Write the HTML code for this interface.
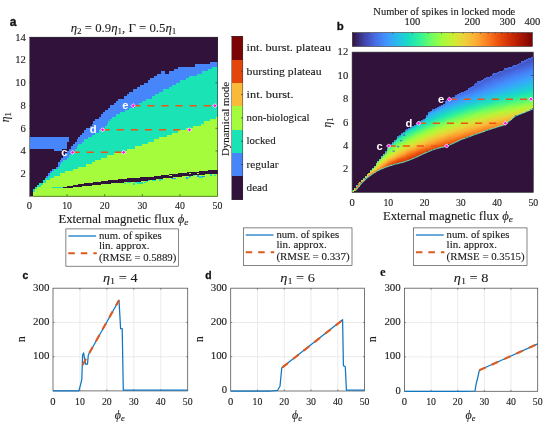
<!DOCTYPE html>
<html lang="en"><head><meta charset="utf-8"><title>Figure</title>
<style>
html,body{margin:0;padding:0;background:#fff}
body{width:550px;height:426px;overflow:hidden}
svg{display:block}
text{font-family:"Liberation Serif", "DejaVu Serif", serif;fill:#1c1c1c;stroke:#1c1c1c;stroke-width:0.12px}
text.ss{font-family:"Liberation Sans", "DejaVu Sans", sans-serif;stroke:none}
text.t{stroke-width:0.08px}
text.pl{stroke:#111;stroke-width:0.3px}
</style></head><body>
<svg width="550" height="426" viewBox="0 0 550 426">
<defs><linearGradient id="b0" gradientUnits="userSpaceOnUse" x1="0" x2="0" y1="190.06" y2="192.40"><stop offset="0" stop-color="#19d5cd"/><stop offset="0.350" stop-color="#b7f735"/><stop offset="0.375" stop-color="#b7f735"/><stop offset="0.500" stop-color="#b7f735"/><stop offset="0.625" stop-color="#b7f735"/><stop offset="0.750" stop-color="#b7f735"/><stop offset="0.875" stop-color="#b7f735"/><stop offset="1.000" stop-color="#b7f735"/></linearGradient><linearGradient id="b1" gradientUnits="userSpaceOnUse" x1="0" x2="0" y1="190.06" y2="192.40"><stop offset="0" stop-color="#19d5cd"/><stop offset="0.350" stop-color="#b7f735"/><stop offset="0.375" stop-color="#b7f735"/><stop offset="0.500" stop-color="#b7f735"/><stop offset="0.625" stop-color="#b7f735"/><stop offset="0.750" stop-color="#b7f735"/><stop offset="0.875" stop-color="#b7f735"/><stop offset="1.000" stop-color="#b7f735"/></linearGradient><linearGradient id="b2" gradientUnits="userSpaceOnUse" x1="0" x2="0" y1="187.72" y2="191.23"><stop offset="0" stop-color="#19d5cd"/><stop offset="0.350" stop-color="#c6f034"/><stop offset="0.375" stop-color="#c6f034"/><stop offset="0.500" stop-color="#c6f034"/><stop offset="0.625" stop-color="#c6f034"/><stop offset="0.750" stop-color="#c6f034"/><stop offset="0.875" stop-color="#c6f034"/><stop offset="1.000" stop-color="#c6f034"/></linearGradient><linearGradient id="b3" gradientUnits="userSpaceOnUse" x1="0" x2="0" y1="187.72" y2="191.23"><stop offset="0" stop-color="#19d5cd"/><stop offset="0.350" stop-color="#fd8a26"/><stop offset="0.375" stop-color="#fd8a26"/><stop offset="0.500" stop-color="#fd8a26"/><stop offset="0.625" stop-color="#fd8a26"/><stop offset="0.750" stop-color="#fd8a26"/><stop offset="0.875" stop-color="#fd8a26"/><stop offset="1.000" stop-color="#fd8a26"/></linearGradient><linearGradient id="b4" gradientUnits="userSpaceOnUse" x1="0" x2="0" y1="185.39" y2="188.89"><stop offset="0" stop-color="#19d5cd"/><stop offset="0.350" stop-color="#fea130"/><stop offset="0.375" stop-color="#fe9b2d"/><stop offset="0.500" stop-color="#fa7b1f"/><stop offset="0.625" stop-color="#f46617"/><stop offset="0.750" stop-color="#f46617"/><stop offset="0.875" stop-color="#f46617"/><stop offset="1.000" stop-color="#f46617"/></linearGradient><linearGradient id="b5" gradientUnits="userSpaceOnUse" x1="0" x2="0" y1="185.39" y2="188.89"><stop offset="0" stop-color="#19d5cd"/><stop offset="0.350" stop-color="#f46617"/><stop offset="0.375" stop-color="#f46617"/><stop offset="0.500" stop-color="#f46617"/><stop offset="0.625" stop-color="#f46617"/><stop offset="0.750" stop-color="#f46617"/><stop offset="0.875" stop-color="#f46617"/><stop offset="1.000" stop-color="#f46617"/></linearGradient><linearGradient id="b6" gradientUnits="userSpaceOnUse" x1="0" x2="0" y1="183.05" y2="186.56"><stop offset="0" stop-color="#19d5cd"/><stop offset="0.350" stop-color="#ebd339"/><stop offset="0.375" stop-color="#f1cb3a"/><stop offset="0.500" stop-color="#fe9e2f"/><stop offset="0.625" stop-color="#f66c19"/><stop offset="0.750" stop-color="#f46617"/><stop offset="0.875" stop-color="#f46617"/><stop offset="1.000" stop-color="#f46617"/></linearGradient><linearGradient id="b7" gradientUnits="userSpaceOnUse" x1="0" x2="0" y1="183.05" y2="186.56"><stop offset="0" stop-color="#19d5cd"/><stop offset="0.350" stop-color="#fc8423"/><stop offset="0.375" stop-color="#f9781e"/><stop offset="0.500" stop-color="#f46617"/><stop offset="0.625" stop-color="#f46617"/><stop offset="0.750" stop-color="#f46617"/><stop offset="0.875" stop-color="#f46617"/><stop offset="1.000" stop-color="#f46617"/></linearGradient><linearGradient id="b8" gradientUnits="userSpaceOnUse" x1="0" x2="0" y1="181.88" y2="184.22"><stop offset="0" stop-color="#19d5cd"/><stop offset="0.350" stop-color="#ecd13a"/><stop offset="0.375" stop-color="#f1cb3a"/><stop offset="0.500" stop-color="#fcb336"/><stop offset="0.625" stop-color="#fe962b"/><stop offset="0.750" stop-color="#f9781e"/><stop offset="0.875" stop-color="#f46617"/><stop offset="1.000" stop-color="#f46617"/></linearGradient><linearGradient id="b9" gradientUnits="userSpaceOnUse" x1="0" x2="0" y1="181.88" y2="184.22"><stop offset="0" stop-color="#19d5cd"/><stop offset="0.350" stop-color="#fd8d27"/><stop offset="0.375" stop-color="#fc8725"/><stop offset="0.500" stop-color="#f56918"/><stop offset="0.625" stop-color="#f46617"/><stop offset="0.750" stop-color="#f46617"/><stop offset="0.875" stop-color="#f46617"/><stop offset="1.000" stop-color="#f46617"/></linearGradient><linearGradient id="b10" gradientUnits="userSpaceOnUse" x1="0" x2="0" y1="179.54" y2="181.88"><stop offset="0" stop-color="#19d5cd"/><stop offset="0.350" stop-color="#b7f735"/><stop offset="0.375" stop-color="#b9f635"/><stop offset="0.500" stop-color="#d0ea34"/><stop offset="0.625" stop-color="#e5d938"/><stop offset="0.750" stop-color="#f5c53a"/><stop offset="0.875" stop-color="#fdae35"/><stop offset="1.000" stop-color="#fe932a"/></linearGradient><linearGradient id="b11" gradientUnits="userSpaceOnUse" x1="0" x2="0" y1="179.54" y2="181.88"><stop offset="0" stop-color="#19d5cd"/><stop offset="0.350" stop-color="#f1cb3a"/><stop offset="0.375" stop-color="#f2c93a"/><stop offset="0.500" stop-color="#fbb838"/><stop offset="0.625" stop-color="#fea130"/><stop offset="0.750" stop-color="#fc8725"/><stop offset="0.875" stop-color="#f76f1a"/><stop offset="1.000" stop-color="#f46617"/></linearGradient><linearGradient id="b12" gradientUnits="userSpaceOnUse" x1="0" x2="0" y1="178.37" y2="180.71"><stop offset="0" stop-color="#19d5cd"/><stop offset="0.350" stop-color="#e5d938"/><stop offset="0.375" stop-color="#e9d539"/><stop offset="0.500" stop-color="#f4c73a"/><stop offset="0.625" stop-color="#fbb838"/><stop offset="0.750" stop-color="#fea732"/><stop offset="0.875" stop-color="#fe932a"/><stop offset="1.000" stop-color="#fb7e21"/></linearGradient><linearGradient id="b13" gradientUnits="userSpaceOnUse" x1="0" x2="0" y1="178.37" y2="180.71"><stop offset="0" stop-color="#19d5cd"/><stop offset="0.350" stop-color="#fea933"/><stop offset="0.375" stop-color="#fea732"/><stop offset="0.500" stop-color="#fe932a"/><stop offset="0.625" stop-color="#fb8122"/><stop offset="0.750" stop-color="#f66c19"/><stop offset="0.875" stop-color="#f46617"/><stop offset="1.000" stop-color="#f46617"/></linearGradient><linearGradient id="b14" gradientUnits="userSpaceOnUse" x1="0" x2="0" y1="176.03" y2="178.37"><stop offset="0" stop-color="#19d5cd"/><stop offset="0.350" stop-color="#cdec34"/><stop offset="0.375" stop-color="#d0ea34"/><stop offset="0.500" stop-color="#dfdf37"/><stop offset="0.625" stop-color="#ecd13a"/><stop offset="0.750" stop-color="#f5c53a"/><stop offset="0.875" stop-color="#fbb637"/><stop offset="1.000" stop-color="#fea732"/></linearGradient><linearGradient id="b15" gradientUnits="userSpaceOnUse" x1="0" x2="0" y1="176.03" y2="178.37"><stop offset="0" stop-color="#19d5cd"/><stop offset="0.350" stop-color="#f4c73a"/><stop offset="0.375" stop-color="#f5c53a"/><stop offset="0.500" stop-color="#fbb838"/><stop offset="0.625" stop-color="#fea732"/><stop offset="0.750" stop-color="#fe962b"/><stop offset="0.875" stop-color="#fc8423"/><stop offset="1.000" stop-color="#f9751d"/></linearGradient><linearGradient id="b16" gradientUnits="userSpaceOnUse" x1="0" x2="0" y1="173.70" y2="177.20"><stop offset="0" stop-color="#19d5cd"/><stop offset="0.350" stop-color="#c8ef34"/><stop offset="0.375" stop-color="#cdec34"/><stop offset="0.500" stop-color="#e1dd37"/><stop offset="0.625" stop-color="#f1cb3a"/><stop offset="0.750" stop-color="#fbb838"/><stop offset="0.875" stop-color="#fea130"/><stop offset="1.000" stop-color="#fd8a26"/></linearGradient><linearGradient id="b17" gradientUnits="userSpaceOnUse" x1="0" x2="0" y1="173.70" y2="177.20"><stop offset="0" stop-color="#19d5cd"/><stop offset="0.350" stop-color="#eecf3a"/><stop offset="0.375" stop-color="#f1cb3a"/><stop offset="0.500" stop-color="#faba39"/><stop offset="0.625" stop-color="#fea732"/><stop offset="0.750" stop-color="#fd8d27"/><stop offset="0.875" stop-color="#f9751d"/><stop offset="1.000" stop-color="#f26014"/></linearGradient><linearGradient id="b18" gradientUnits="userSpaceOnUse" x1="0" x2="0" y1="172.53" y2="176.03"><stop offset="0" stop-color="#19d5cd"/><stop offset="0.350" stop-color="#e1dd37"/><stop offset="0.375" stop-color="#e3db38"/><stop offset="0.500" stop-color="#f2c93a"/><stop offset="0.625" stop-color="#fbb838"/><stop offset="0.750" stop-color="#fea130"/><stop offset="0.875" stop-color="#fd8a26"/><stop offset="1.000" stop-color="#f8721c"/></linearGradient><linearGradient id="b19" gradientUnits="userSpaceOnUse" x1="0" x2="0" y1="172.53" y2="176.03"><stop offset="0" stop-color="#19d5cd"/><stop offset="0.350" stop-color="#f7c13a"/><stop offset="0.375" stop-color="#f9bc39"/><stop offset="0.500" stop-color="#fea933"/><stop offset="0.625" stop-color="#fe932a"/><stop offset="0.750" stop-color="#fa7b1f"/><stop offset="0.875" stop-color="#f36315"/><stop offset="1.000" stop-color="#f15d13"/></linearGradient><linearGradient id="b20" gradientUnits="userSpaceOnUse" x1="0" x2="0" y1="170.19" y2="174.87"><stop offset="0" stop-color="#19d5cd"/><stop offset="0.350" stop-color="#d0ea34"/><stop offset="0.375" stop-color="#d7e535"/><stop offset="0.500" stop-color="#ebd339"/><stop offset="0.625" stop-color="#f8be39"/><stop offset="0.750" stop-color="#fea431"/><stop offset="0.875" stop-color="#fc8423"/><stop offset="1.000" stop-color="#f46617"/></linearGradient><linearGradient id="b21" gradientUnits="userSpaceOnUse" x1="0" x2="0" y1="170.19" y2="174.87"><stop offset="0" stop-color="#19d5cd"/><stop offset="0.350" stop-color="#ebd339"/><stop offset="0.375" stop-color="#eecf3a"/><stop offset="0.500" stop-color="#faba39"/><stop offset="0.625" stop-color="#fe9e2f"/><stop offset="0.750" stop-color="#fb8122"/><stop offset="0.875" stop-color="#f26014"/><stop offset="1.000" stop-color="#f05b12"/></linearGradient><linearGradient id="b22" gradientUnits="userSpaceOnUse" x1="0" x2="0" y1="167.85" y2="173.70"><stop offset="0" stop-color="#19d5cd"/><stop offset="0.350" stop-color="#c1f334"/><stop offset="0.375" stop-color="#c6f034"/><stop offset="0.500" stop-color="#dfdf37"/><stop offset="0.625" stop-color="#f4c73a"/><stop offset="0.750" stop-color="#fdac34"/><stop offset="0.875" stop-color="#fc8725"/><stop offset="1.000" stop-color="#f26014"/></linearGradient><linearGradient id="b23" gradientUnits="userSpaceOnUse" x1="0" x2="0" y1="167.85" y2="173.70"><stop offset="0" stop-color="#19d5cd"/><stop offset="0.350" stop-color="#d9e436"/><stop offset="0.375" stop-color="#dde037"/><stop offset="0.500" stop-color="#f1cb3a"/><stop offset="0.625" stop-color="#fcb136"/><stop offset="0.750" stop-color="#fd8d27"/><stop offset="0.875" stop-color="#f56918"/><stop offset="1.000" stop-color="#ef5811"/></linearGradient><linearGradient id="b24" gradientUnits="userSpaceOnUse" x1="0" x2="0" y1="165.51" y2="172.53"><stop offset="0" stop-color="#19d5cd"/><stop offset="0.350" stop-color="#bcf534"/><stop offset="0.375" stop-color="#bef434"/><stop offset="0.500" stop-color="#d2e935"/><stop offset="0.625" stop-color="#ebd339"/><stop offset="0.750" stop-color="#fbb637"/><stop offset="0.875" stop-color="#fe9029"/><stop offset="1.000" stop-color="#f36315"/></linearGradient><linearGradient id="b25" gradientUnits="userSpaceOnUse" x1="0" x2="0" y1="165.51" y2="172.53"><stop offset="0" stop-color="#19d5cd"/><stop offset="0.350" stop-color="#d0ea34"/><stop offset="0.375" stop-color="#d2e935"/><stop offset="0.500" stop-color="#e3db38"/><stop offset="0.625" stop-color="#f7c13a"/><stop offset="0.750" stop-color="#fe9e2f"/><stop offset="0.875" stop-color="#f9751d"/><stop offset="1.000" stop-color="#ec530f"/></linearGradient><linearGradient id="b26" gradientUnits="userSpaceOnUse" x1="0" x2="0" y1="163.18" y2="171.36"><stop offset="0" stop-color="#19d5cd"/><stop offset="0.318" stop-color="#b9f635"/><stop offset="0.375" stop-color="#c1f334"/><stop offset="0.500" stop-color="#d4e735"/><stop offset="0.625" stop-color="#e5d938"/><stop offset="0.750" stop-color="#f6c33a"/><stop offset="0.875" stop-color="#fe9b2d"/><stop offset="1.000" stop-color="#f56918"/></linearGradient><linearGradient id="b27" gradientUnits="userSpaceOnUse" x1="0" x2="0" y1="163.18" y2="171.36"><stop offset="0" stop-color="#19d5cd"/><stop offset="0.318" stop-color="#cbed34"/><stop offset="0.375" stop-color="#d4e735"/><stop offset="0.500" stop-color="#e5d938"/><stop offset="0.625" stop-color="#f2c93a"/><stop offset="0.750" stop-color="#fcb336"/><stop offset="0.875" stop-color="#fc8423"/><stop offset="1.000" stop-color="#ec530f"/></linearGradient><linearGradient id="b28" gradientUnits="userSpaceOnUse" x1="0" x2="0" y1="160.84" y2="170.19"><stop offset="0" stop-color="#1ad2d2"/><stop offset="0.278" stop-color="#b1f936"/><stop offset="0.375" stop-color="#c1f334"/><stop offset="0.500" stop-color="#d7e535"/><stop offset="0.625" stop-color="#e9d539"/><stop offset="0.750" stop-color="#f6c33a"/><stop offset="0.875" stop-color="#fdae35"/><stop offset="1.000" stop-color="#f9751d"/></linearGradient><linearGradient id="b29" gradientUnits="userSpaceOnUse" x1="0" x2="0" y1="160.84" y2="170.19"><stop offset="0" stop-color="#1fc9dd"/><stop offset="0.278" stop-color="#c3f134"/><stop offset="0.375" stop-color="#d2e935"/><stop offset="0.500" stop-color="#e5d938"/><stop offset="0.625" stop-color="#f4c73a"/><stop offset="0.750" stop-color="#fcb336"/><stop offset="0.875" stop-color="#fe9b2d"/><stop offset="1.000" stop-color="#f36315"/></linearGradient><linearGradient id="b30" gradientUnits="userSpaceOnUse" x1="0" x2="0" y1="158.50" y2="169.02"><stop offset="0" stop-color="#27bee9"/><stop offset="0.247" stop-color="#a9fb39"/><stop offset="0.375" stop-color="#c1f334"/><stop offset="0.500" stop-color="#d7e535"/><stop offset="0.625" stop-color="#ebd339"/><stop offset="0.750" stop-color="#f8be39"/><stop offset="0.875" stop-color="#fea732"/><stop offset="1.000" stop-color="#fd8a26"/></linearGradient><linearGradient id="b31" gradientUnits="userSpaceOnUse" x1="0" x2="0" y1="158.50" y2="169.02"><stop offset="0" stop-color="#2eb4f2"/><stop offset="0.247" stop-color="#b7f735"/><stop offset="0.375" stop-color="#d0ea34"/><stop offset="0.500" stop-color="#e3db38"/><stop offset="0.625" stop-color="#f4c73a"/><stop offset="0.750" stop-color="#fcb136"/><stop offset="0.875" stop-color="#fe962b"/><stop offset="1.000" stop-color="#f9781e"/></linearGradient><linearGradient id="b32" gradientUnits="userSpaceOnUse" x1="0" x2="0" y1="156.16" y2="169.02"><stop offset="0" stop-color="#35abf8"/><stop offset="0.202" stop-color="#99fe42"/><stop offset="0.250" stop-color="#a7fc3a"/><stop offset="0.375" stop-color="#c3f134"/><stop offset="0.500" stop-color="#dfdf37"/><stop offset="0.625" stop-color="#f2c93a"/><stop offset="0.750" stop-color="#fdae35"/><stop offset="0.875" stop-color="#fd8d27"/><stop offset="1.000" stop-color="#f56918"/></linearGradient><linearGradient id="b33" gradientUnits="userSpaceOnUse" x1="0" x2="0" y1="156.16" y2="169.02"><stop offset="0" stop-color="#3d9efe"/><stop offset="0.202" stop-color="#a7fc3a"/><stop offset="0.250" stop-color="#b4f836"/><stop offset="0.375" stop-color="#d2e935"/><stop offset="0.500" stop-color="#e9d539"/><stop offset="0.625" stop-color="#f9bc39"/><stop offset="0.750" stop-color="#fe9e2f"/><stop offset="0.875" stop-color="#fa7b1f"/><stop offset="1.000" stop-color="#ef5811"/></linearGradient><linearGradient id="b34" gradientUnits="userSpaceOnUse" x1="0" x2="0" y1="153.82" y2="167.85"><stop offset="0" stop-color="#4294ff"/><stop offset="0.185" stop-color="#88ff4e"/><stop offset="0.250" stop-color="#9cfe40"/><stop offset="0.375" stop-color="#bcf534"/><stop offset="0.500" stop-color="#dbe236"/><stop offset="0.625" stop-color="#f1cb3a"/><stop offset="0.750" stop-color="#fdae35"/><stop offset="0.875" stop-color="#fd8a26"/><stop offset="1.000" stop-color="#f36315"/></linearGradient><linearGradient id="b35" gradientUnits="userSpaceOnUse" x1="0" x2="0" y1="153.82" y2="167.85"><stop offset="0" stop-color="#458afc"/><stop offset="0.185" stop-color="#99fe42"/><stop offset="0.250" stop-color="#a7fc3a"/><stop offset="0.375" stop-color="#c6f034"/><stop offset="0.500" stop-color="#e5d938"/><stop offset="0.625" stop-color="#f7c13a"/><stop offset="0.750" stop-color="#fea130"/><stop offset="0.875" stop-color="#fa7b1f"/><stop offset="1.000" stop-color="#ed5510"/></linearGradient><linearGradient id="b36" gradientUnits="userSpaceOnUse" x1="0" x2="0" y1="151.49" y2="166.68"><stop offset="0" stop-color="#467df4"/><stop offset="0.171" stop-color="#75fe5c"/><stop offset="0.250" stop-color="#8fff49"/><stop offset="0.375" stop-color="#affa37"/><stop offset="0.500" stop-color="#d2e935"/><stop offset="0.625" stop-color="#eecf3a"/><stop offset="0.750" stop-color="#fcb136"/><stop offset="0.875" stop-color="#fd8a26"/><stop offset="1.000" stop-color="#f26014"/></linearGradient><linearGradient id="b37" gradientUnits="userSpaceOnUse" x1="0" x2="0" y1="151.49" y2="166.68"><stop offset="0" stop-color="#4773eb"/><stop offset="0.171" stop-color="#84ff51"/><stop offset="0.250" stop-color="#9cfe40"/><stop offset="0.375" stop-color="#b9f635"/><stop offset="0.500" stop-color="#dbe236"/><stop offset="0.625" stop-color="#f5c53a"/><stop offset="0.750" stop-color="#fea431"/><stop offset="0.875" stop-color="#fa7b1f"/><stop offset="1.000" stop-color="#ec530f"/></linearGradient><linearGradient id="b38" gradientUnits="userSpaceOnUse" x1="0" x2="0" y1="147.98" y2="166.68"><stop offset="0" stop-color="#476ee6"/><stop offset="0.139" stop-color="#52fa7a"/><stop offset="0.250" stop-color="#79fe59"/><stop offset="0.375" stop-color="#a4fc3c"/><stop offset="0.500" stop-color="#c6f034"/><stop offset="0.625" stop-color="#ecd13a"/><stop offset="0.750" stop-color="#fea933"/><stop offset="0.875" stop-color="#f9781e"/><stop offset="1.000" stop-color="#e5470b"/></linearGradient><linearGradient id="b39" gradientUnits="userSpaceOnUse" x1="0" x2="0" y1="147.98" y2="166.68"><stop offset="0" stop-color="#476ee6"/><stop offset="0.139" stop-color="#61fc6c"/><stop offset="0.250" stop-color="#88ff4e"/><stop offset="0.375" stop-color="#acfb38"/><stop offset="0.500" stop-color="#d0ea34"/><stop offset="0.625" stop-color="#f2c93a"/><stop offset="0.750" stop-color="#fe9e2f"/><stop offset="0.875" stop-color="#f56918"/><stop offset="1.000" stop-color="#e14109"/></linearGradient><linearGradient id="b40" gradientUnits="userSpaceOnUse" x1="0" x2="0" y1="145.64" y2="165.51"><stop offset="0" stop-color="#476ee6"/><stop offset="0.131" stop-color="#43f787"/><stop offset="0.250" stop-color="#6dfe62"/><stop offset="0.375" stop-color="#9cfe40"/><stop offset="0.500" stop-color="#c1f334"/><stop offset="0.625" stop-color="#e3db38"/><stop offset="0.750" stop-color="#fcb136"/><stop offset="0.875" stop-color="#fa7b1f"/><stop offset="1.000" stop-color="#e7490c"/></linearGradient><linearGradient id="b41" gradientUnits="userSpaceOnUse" x1="0" x2="0" y1="145.64" y2="165.51"><stop offset="0" stop-color="#476ee6"/><stop offset="0.131" stop-color="#4ef97d"/><stop offset="0.250" stop-color="#7dff56"/><stop offset="0.375" stop-color="#a4fc3c"/><stop offset="0.500" stop-color="#c8ef34"/><stop offset="0.625" stop-color="#ebd339"/><stop offset="0.750" stop-color="#fea732"/><stop offset="0.875" stop-color="#f76f1a"/><stop offset="1.000" stop-color="#df3f08"/></linearGradient><linearGradient id="b42" gradientUnits="userSpaceOnUse" x1="0" x2="0" y1="144.47" y2="165.51"><stop offset="0" stop-color="#476ee6"/><stop offset="0.124" stop-color="#46f884"/><stop offset="0.250" stop-color="#79fe59"/><stop offset="0.375" stop-color="#a4fc3c"/><stop offset="0.500" stop-color="#c8ef34"/><stop offset="0.625" stop-color="#ebd339"/><stop offset="0.750" stop-color="#fea130"/><stop offset="0.875" stop-color="#f46617"/><stop offset="1.000" stop-color="#df3f08"/></linearGradient><linearGradient id="b43" gradientUnits="userSpaceOnUse" x1="0" x2="0" y1="144.47" y2="165.51"><stop offset="0" stop-color="#476ee6"/><stop offset="0.124" stop-color="#52fa7a"/><stop offset="0.250" stop-color="#84ff51"/><stop offset="0.375" stop-color="#affa37"/><stop offset="0.500" stop-color="#d2e935"/><stop offset="0.625" stop-color="#f1cb3a"/><stop offset="0.750" stop-color="#fe992c"/><stop offset="0.875" stop-color="#f05b12"/><stop offset="1.000" stop-color="#df3f08"/></linearGradient><linearGradient id="b44" gradientUnits="userSpaceOnUse" x1="0" x2="0" y1="142.13" y2="164.34"><stop offset="0" stop-color="#476ee6"/><stop offset="0.117" stop-color="#35f394"/><stop offset="0.250" stop-color="#6dfe62"/><stop offset="0.375" stop-color="#9cfe40"/><stop offset="0.500" stop-color="#c3f134"/><stop offset="0.625" stop-color="#e5d938"/><stop offset="0.750" stop-color="#fdae35"/><stop offset="0.875" stop-color="#f76f1a"/><stop offset="1.000" stop-color="#dc3b07"/></linearGradient><linearGradient id="b45" gradientUnits="userSpaceOnUse" x1="0" x2="0" y1="142.13" y2="164.34"><stop offset="0" stop-color="#476ee6"/><stop offset="0.117" stop-color="#3ff68a"/><stop offset="0.250" stop-color="#79fe59"/><stop offset="0.375" stop-color="#a7fc3a"/><stop offset="0.500" stop-color="#cbed34"/><stop offset="0.625" stop-color="#ebd339"/><stop offset="0.750" stop-color="#fea732"/><stop offset="0.875" stop-color="#f36315"/><stop offset="1.000" stop-color="#dc3b07"/></linearGradient><linearGradient id="b46" gradientUnits="userSpaceOnUse" x1="0" x2="0" y1="139.80" y2="164.34"><stop offset="0" stop-color="#476ee6"/><stop offset="0.106" stop-color="#27eea4"/><stop offset="0.250" stop-color="#5dfc6f"/><stop offset="0.375" stop-color="#99fe42"/><stop offset="0.500" stop-color="#c3f134"/><stop offset="0.625" stop-color="#e9d539"/><stop offset="0.750" stop-color="#fdac34"/><stop offset="0.875" stop-color="#f26014"/><stop offset="1.000" stop-color="#dc3b07"/></linearGradient><linearGradient id="b47" gradientUnits="userSpaceOnUse" x1="0" x2="0" y1="139.80" y2="164.34"><stop offset="0" stop-color="#476ee6"/><stop offset="0.106" stop-color="#2ff19b"/><stop offset="0.250" stop-color="#69fd66"/><stop offset="0.375" stop-color="#a1fd3d"/><stop offset="0.500" stop-color="#cbed34"/><stop offset="0.625" stop-color="#eecf3a"/><stop offset="0.750" stop-color="#fea130"/><stop offset="0.875" stop-color="#ef5811"/><stop offset="1.000" stop-color="#dc3b07"/></linearGradient><linearGradient id="b48" gradientUnits="userSpaceOnUse" x1="0" x2="0" y1="138.63" y2="163.18"><stop offset="0" stop-color="#476ee6"/><stop offset="0.106" stop-color="#2aefa1"/><stop offset="0.250" stop-color="#5dfc6f"/><stop offset="0.375" stop-color="#99fe42"/><stop offset="0.500" stop-color="#c3f134"/><stop offset="0.625" stop-color="#e7d739"/><stop offset="0.750" stop-color="#fcb336"/><stop offset="0.875" stop-color="#f56918"/><stop offset="1.000" stop-color="#da3907"/></linearGradient><linearGradient id="b49" gradientUnits="userSpaceOnUse" x1="0" x2="0" y1="138.63" y2="163.18"><stop offset="0" stop-color="#476ee6"/><stop offset="0.106" stop-color="#2ff19b"/><stop offset="0.250" stop-color="#69fd66"/><stop offset="0.375" stop-color="#a1fd3d"/><stop offset="0.500" stop-color="#cbed34"/><stop offset="0.625" stop-color="#ecd13a"/><stop offset="0.750" stop-color="#fdac34"/><stop offset="0.875" stop-color="#f26014"/><stop offset="1.000" stop-color="#da3907"/></linearGradient><linearGradient id="b50" gradientUnits="userSpaceOnUse" x1="0" x2="0" y1="136.29" y2="163.18"><stop offset="0" stop-color="#476ee6"/><stop offset="0.097" stop-color="#1fe9af"/><stop offset="0.125" stop-color="#25eca7"/><stop offset="0.250" stop-color="#55fa76"/><stop offset="0.375" stop-color="#92ff47"/><stop offset="0.500" stop-color="#c3f134"/><stop offset="0.625" stop-color="#e9d539"/><stop offset="0.750" stop-color="#fdac34"/><stop offset="0.875" stop-color="#f15d13"/><stop offset="1.000" stop-color="#da3907"/></linearGradient><linearGradient id="b51" gradientUnits="userSpaceOnUse" x1="0" x2="0" y1="136.29" y2="163.18"><stop offset="0" stop-color="#476ee6"/><stop offset="0.097" stop-color="#22ebaa"/><stop offset="0.125" stop-color="#2cf09e"/><stop offset="0.250" stop-color="#5dfc6f"/><stop offset="0.375" stop-color="#99fe42"/><stop offset="0.500" stop-color="#c8ef34"/><stop offset="0.625" stop-color="#eecf3a"/><stop offset="0.750" stop-color="#fea431"/><stop offset="0.875" stop-color="#ed5510"/><stop offset="1.000" stop-color="#da3907"/></linearGradient><linearGradient id="b52" gradientUnits="userSpaceOnUse" x1="0" x2="0" y1="135.12" y2="163.18"><stop offset="0" stop-color="#476ee6"/><stop offset="0.093" stop-color="#1fe9af"/><stop offset="0.125" stop-color="#27eea4"/><stop offset="0.250" stop-color="#59fb73"/><stop offset="0.375" stop-color="#96fe44"/><stop offset="0.500" stop-color="#c8ef34"/><stop offset="0.625" stop-color="#efcd3a"/><stop offset="0.750" stop-color="#fea130"/><stop offset="0.875" stop-color="#ec530f"/><stop offset="1.000" stop-color="#da3907"/></linearGradient><linearGradient id="b53" gradientUnits="userSpaceOnUse" x1="0" x2="0" y1="135.12" y2="163.18"><stop offset="0" stop-color="#476ee6"/><stop offset="0.093" stop-color="#22ebaa"/><stop offset="0.125" stop-color="#2cf09e"/><stop offset="0.250" stop-color="#65fd69"/><stop offset="0.375" stop-color="#9cfe40"/><stop offset="0.500" stop-color="#d0ea34"/><stop offset="0.625" stop-color="#f2c93a"/><stop offset="0.750" stop-color="#fe992c"/><stop offset="0.875" stop-color="#e84b0c"/><stop offset="1.000" stop-color="#da3907"/></linearGradient><linearGradient id="b54" gradientUnits="userSpaceOnUse" x1="0" x2="0" y1="132.78" y2="162.01"><stop offset="0" stop-color="#476ee6"/><stop offset="0.089" stop-color="#18e0bd"/><stop offset="0.125" stop-color="#1de7b2"/><stop offset="0.250" stop-color="#4af880"/><stop offset="0.375" stop-color="#88ff4e"/><stop offset="0.500" stop-color="#bef434"/><stop offset="0.625" stop-color="#e9d539"/><stop offset="0.750" stop-color="#fea933"/><stop offset="0.875" stop-color="#f36315"/><stop offset="1.000" stop-color="#d83706"/></linearGradient><linearGradient id="b55" gradientUnits="userSpaceOnUse" x1="0" x2="0" y1="132.78" y2="162.01"><stop offset="0" stop-color="#476ee6"/><stop offset="0.089" stop-color="#1ae4b6"/><stop offset="0.125" stop-color="#20eaac"/><stop offset="0.250" stop-color="#55fa76"/><stop offset="0.375" stop-color="#92ff47"/><stop offset="0.500" stop-color="#c3f134"/><stop offset="0.625" stop-color="#eecf3a"/><stop offset="0.750" stop-color="#fea130"/><stop offset="0.875" stop-color="#f05b12"/><stop offset="1.000" stop-color="#d83706"/></linearGradient><linearGradient id="b56" gradientUnits="userSpaceOnUse" x1="0" x2="0" y1="131.61" y2="162.01"><stop offset="0" stop-color="#476ee6"/><stop offset="0.086" stop-color="#18e0bd"/><stop offset="0.125" stop-color="#1de7b2"/><stop offset="0.250" stop-color="#4ef97d"/><stop offset="0.375" stop-color="#8fff49"/><stop offset="0.500" stop-color="#c1f334"/><stop offset="0.625" stop-color="#eecf3a"/><stop offset="0.750" stop-color="#fea130"/><stop offset="0.875" stop-color="#ef5811"/><stop offset="1.000" stop-color="#d83706"/></linearGradient><linearGradient id="b57" gradientUnits="userSpaceOnUse" x1="0" x2="0" y1="131.61" y2="162.01"><stop offset="0" stop-color="#476ee6"/><stop offset="0.086" stop-color="#19e3b9"/><stop offset="0.125" stop-color="#22ebaa"/><stop offset="0.250" stop-color="#59fb73"/><stop offset="0.375" stop-color="#96fe44"/><stop offset="0.500" stop-color="#c8ef34"/><stop offset="0.625" stop-color="#f2c93a"/><stop offset="0.750" stop-color="#fe992c"/><stop offset="0.875" stop-color="#ec530f"/><stop offset="1.000" stop-color="#d83706"/></linearGradient><linearGradient id="b58" gradientUnits="userSpaceOnUse" x1="0" x2="0" y1="130.44" y2="160.84"><stop offset="0" stop-color="#476ee6"/><stop offset="0.086" stop-color="#18e0bd"/><stop offset="0.125" stop-color="#1de7b2"/><stop offset="0.250" stop-color="#4ef97d"/><stop offset="0.375" stop-color="#8bff4b"/><stop offset="0.500" stop-color="#bcf534"/><stop offset="0.625" stop-color="#ecd13a"/><stop offset="0.750" stop-color="#fea431"/><stop offset="0.875" stop-color="#f46617"/><stop offset="1.000" stop-color="#d63506"/></linearGradient><linearGradient id="b59" gradientUnits="userSpaceOnUse" x1="0" x2="0" y1="130.44" y2="160.84"><stop offset="0" stop-color="#476ee6"/><stop offset="0.086" stop-color="#1ae4b6"/><stop offset="0.125" stop-color="#20eaac"/><stop offset="0.250" stop-color="#55fa76"/><stop offset="0.375" stop-color="#96fe44"/><stop offset="0.500" stop-color="#c1f334"/><stop offset="0.625" stop-color="#efcd3a"/><stop offset="0.750" stop-color="#fe9e2f"/><stop offset="0.875" stop-color="#f26014"/><stop offset="1.000" stop-color="#d63506"/></linearGradient><linearGradient id="b60" gradientUnits="userSpaceOnUse" x1="0" x2="0" y1="129.27" y2="160.84"><stop offset="0" stop-color="#476ee6"/><stop offset="0.082" stop-color="#18e0bd"/><stop offset="0.125" stop-color="#1fe9af"/><stop offset="0.250" stop-color="#4ef97d"/><stop offset="0.375" stop-color="#92ff47"/><stop offset="0.500" stop-color="#c1f334"/><stop offset="0.625" stop-color="#efcd3a"/><stop offset="0.750" stop-color="#fe9b2d"/><stop offset="0.875" stop-color="#f05b12"/><stop offset="1.000" stop-color="#d63506"/></linearGradient><linearGradient id="b61" gradientUnits="userSpaceOnUse" x1="0" x2="0" y1="129.27" y2="160.84"><stop offset="0" stop-color="#476ee6"/><stop offset="0.082" stop-color="#19e3b9"/><stop offset="0.125" stop-color="#22ebaa"/><stop offset="0.250" stop-color="#59fb73"/><stop offset="0.375" stop-color="#99fe42"/><stop offset="0.500" stop-color="#c6f034"/><stop offset="0.625" stop-color="#f2c93a"/><stop offset="0.750" stop-color="#fe932a"/><stop offset="0.875" stop-color="#ed5510"/><stop offset="1.000" stop-color="#d63506"/></linearGradient><linearGradient id="b62" gradientUnits="userSpaceOnUse" x1="0" x2="0" y1="128.11" y2="159.67"><stop offset="0" stop-color="#476ee6"/><stop offset="0.082" stop-color="#18dec0"/><stop offset="0.125" stop-color="#1de7b2"/><stop offset="0.250" stop-color="#4af880"/><stop offset="0.375" stop-color="#8fff49"/><stop offset="0.500" stop-color="#bef434"/><stop offset="0.625" stop-color="#ecd13a"/><stop offset="0.750" stop-color="#fe9e2f"/><stop offset="0.875" stop-color="#f26014"/><stop offset="1.000" stop-color="#d43305"/></linearGradient><linearGradient id="b63" gradientUnits="userSpaceOnUse" x1="0" x2="0" y1="128.11" y2="159.67"><stop offset="0" stop-color="#476ee6"/><stop offset="0.082" stop-color="#19e2bb"/><stop offset="0.125" stop-color="#22ebaa"/><stop offset="0.250" stop-color="#55fa76"/><stop offset="0.375" stop-color="#96fe44"/><stop offset="0.500" stop-color="#c3f134"/><stop offset="0.625" stop-color="#efcd3a"/><stop offset="0.750" stop-color="#fe992c"/><stop offset="0.875" stop-color="#f05b12"/><stop offset="1.000" stop-color="#d43305"/></linearGradient><linearGradient id="b64" gradientUnits="userSpaceOnUse" x1="0" x2="0" y1="126.94" y2="158.50"><stop offset="0" stop-color="#476ee6"/><stop offset="0.082" stop-color="#18dbc5"/><stop offset="0.125" stop-color="#1ce6b4"/><stop offset="0.250" stop-color="#4af880"/><stop offset="0.375" stop-color="#8bff4b"/><stop offset="0.500" stop-color="#bcf534"/><stop offset="0.625" stop-color="#e7d739"/><stop offset="0.750" stop-color="#fea431"/><stop offset="0.875" stop-color="#f46617"/><stop offset="1.000" stop-color="#d43305"/></linearGradient><linearGradient id="b65" gradientUnits="userSpaceOnUse" x1="0" x2="0" y1="126.94" y2="158.50"><stop offset="0" stop-color="#476ee6"/><stop offset="0.082" stop-color="#18dec0"/><stop offset="0.125" stop-color="#1fe9af"/><stop offset="0.250" stop-color="#52fa7a"/><stop offset="0.375" stop-color="#92ff47"/><stop offset="0.500" stop-color="#c1f334"/><stop offset="0.625" stop-color="#ebd339"/><stop offset="0.750" stop-color="#fe9e2f"/><stop offset="0.875" stop-color="#f26014"/><stop offset="1.000" stop-color="#d43305"/></linearGradient><linearGradient id="b66" gradientUnits="userSpaceOnUse" x1="0" x2="0" y1="125.77" y2="158.50"><stop offset="0" stop-color="#476ee6"/><stop offset="0.079" stop-color="#18d9c8"/><stop offset="0.125" stop-color="#1ae4b6"/><stop offset="0.250" stop-color="#4af880"/><stop offset="0.375" stop-color="#8fff49"/><stop offset="0.500" stop-color="#c1f334"/><stop offset="0.625" stop-color="#e9d539"/><stop offset="0.750" stop-color="#fe9e2f"/><stop offset="0.875" stop-color="#f15d13"/><stop offset="1.000" stop-color="#d43305"/></linearGradient><linearGradient id="b67" gradientUnits="userSpaceOnUse" x1="0" x2="0" y1="125.77" y2="158.50"><stop offset="0" stop-color="#476ee6"/><stop offset="0.079" stop-color="#18ddc2"/><stop offset="0.125" stop-color="#1de7b2"/><stop offset="0.250" stop-color="#52fa7a"/><stop offset="0.375" stop-color="#96fe44"/><stop offset="0.500" stop-color="#c6f034"/><stop offset="0.625" stop-color="#ecd13a"/><stop offset="0.750" stop-color="#fe992c"/><stop offset="0.875" stop-color="#ef5811"/><stop offset="1.000" stop-color="#d43305"/></linearGradient><linearGradient id="b68" gradientUnits="userSpaceOnUse" x1="0" x2="0" y1="124.60" y2="157.33"><stop offset="0" stop-color="#476ee6"/><stop offset="0.079" stop-color="#19d5cd"/><stop offset="0.125" stop-color="#19e3b9"/><stop offset="0.250" stop-color="#4af880"/><stop offset="0.375" stop-color="#8bff4b"/><stop offset="0.500" stop-color="#bef434"/><stop offset="0.625" stop-color="#e5d938"/><stop offset="0.750" stop-color="#fea732"/><stop offset="0.875" stop-color="#f36315"/><stop offset="1.000" stop-color="#d43305"/></linearGradient><linearGradient id="b69" gradientUnits="userSpaceOnUse" x1="0" x2="0" y1="124.60" y2="157.33"><stop offset="0" stop-color="#476ee6"/><stop offset="0.079" stop-color="#18d9c8"/><stop offset="0.125" stop-color="#1ce6b4"/><stop offset="0.250" stop-color="#52fa7a"/><stop offset="0.375" stop-color="#92ff47"/><stop offset="0.500" stop-color="#c1f334"/><stop offset="0.625" stop-color="#e9d539"/><stop offset="0.750" stop-color="#fea130"/><stop offset="0.875" stop-color="#f15d13"/><stop offset="1.000" stop-color="#d43305"/></linearGradient><linearGradient id="b70" gradientUnits="userSpaceOnUse" x1="0" x2="0" y1="123.43" y2="157.33"><stop offset="0" stop-color="#476ee6"/><stop offset="0.077" stop-color="#1ad4d0"/><stop offset="0.125" stop-color="#19e2bb"/><stop offset="0.250" stop-color="#4af880"/><stop offset="0.375" stop-color="#8bff4b"/><stop offset="0.500" stop-color="#c1f334"/><stop offset="0.625" stop-color="#e9d539"/><stop offset="0.750" stop-color="#fe9e2f"/><stop offset="0.875" stop-color="#f05b12"/><stop offset="1.000" stop-color="#d43305"/></linearGradient><linearGradient id="b71" gradientUnits="userSpaceOnUse" x1="0" x2="0" y1="123.43" y2="157.33"><stop offset="0" stop-color="#476ee6"/><stop offset="0.077" stop-color="#18d7ca"/><stop offset="0.125" stop-color="#1ae4b6"/><stop offset="0.250" stop-color="#52fa7a"/><stop offset="0.375" stop-color="#92ff47"/><stop offset="0.500" stop-color="#c6f034"/><stop offset="0.625" stop-color="#ebd339"/><stop offset="0.750" stop-color="#fe992c"/><stop offset="0.875" stop-color="#ed5510"/><stop offset="1.000" stop-color="#d43305"/></linearGradient><linearGradient id="b72" gradientUnits="userSpaceOnUse" x1="0" x2="0" y1="122.26" y2="156.16"><stop offset="0" stop-color="#476ee6"/><stop offset="0.077" stop-color="#1ad2d2"/><stop offset="0.125" stop-color="#18dec0"/><stop offset="0.250" stop-color="#43f787"/><stop offset="0.375" stop-color="#88ff4e"/><stop offset="0.500" stop-color="#bef434"/><stop offset="0.625" stop-color="#e5d938"/><stop offset="0.750" stop-color="#fea933"/><stop offset="0.875" stop-color="#f26014"/><stop offset="1.000" stop-color="#d43305"/></linearGradient><linearGradient id="b73" gradientUnits="userSpaceOnUse" x1="0" x2="0" y1="122.26" y2="156.16"><stop offset="0" stop-color="#476ee6"/><stop offset="0.077" stop-color="#19d5cd"/><stop offset="0.125" stop-color="#19e2bb"/><stop offset="0.250" stop-color="#4af880"/><stop offset="0.375" stop-color="#8fff49"/><stop offset="0.500" stop-color="#c1f334"/><stop offset="0.625" stop-color="#e9d539"/><stop offset="0.750" stop-color="#fea431"/><stop offset="0.875" stop-color="#f05b12"/><stop offset="1.000" stop-color="#d43305"/></linearGradient><linearGradient id="b74" gradientUnits="userSpaceOnUse" x1="0" x2="0" y1="121.09" y2="154.99"><stop offset="0" stop-color="#476ee6"/><stop offset="0.077" stop-color="#1ccdd8"/><stop offset="0.125" stop-color="#18ddc2"/><stop offset="0.250" stop-color="#3cf58e"/><stop offset="0.375" stop-color="#80ff53"/><stop offset="0.500" stop-color="#b9f635"/><stop offset="0.625" stop-color="#e3db38"/><stop offset="0.750" stop-color="#fcb136"/><stop offset="0.875" stop-color="#f56918"/><stop offset="1.000" stop-color="#d43305"/></linearGradient><linearGradient id="b75" gradientUnits="userSpaceOnUse" x1="0" x2="0" y1="121.09" y2="154.99"><stop offset="0" stop-color="#476ee6"/><stop offset="0.077" stop-color="#1ad2d2"/><stop offset="0.125" stop-color="#18e0bd"/><stop offset="0.250" stop-color="#43f787"/><stop offset="0.375" stop-color="#88ff4e"/><stop offset="0.500" stop-color="#bef434"/><stop offset="0.625" stop-color="#e7d739"/><stop offset="0.750" stop-color="#fdac34"/><stop offset="0.875" stop-color="#f36315"/><stop offset="1.000" stop-color="#d43305"/></linearGradient><linearGradient id="b76" gradientUnits="userSpaceOnUse" x1="0" x2="0" y1="119.92" y2="153.82"><stop offset="0" stop-color="#476ee6"/><stop offset="0.077" stop-color="#1ecbda"/><stop offset="0.125" stop-color="#18d9c8"/><stop offset="0.250" stop-color="#38f491"/><stop offset="0.375" stop-color="#80ff53"/><stop offset="0.500" stop-color="#b4f836"/><stop offset="0.625" stop-color="#e1dd37"/><stop offset="0.750" stop-color="#faba39"/><stop offset="0.875" stop-color="#f8721c"/><stop offset="1.000" stop-color="#da3907"/></linearGradient><linearGradient id="b77" gradientUnits="userSpaceOnUse" x1="0" x2="0" y1="119.92" y2="153.82"><stop offset="0" stop-color="#476ee6"/><stop offset="0.077" stop-color="#1bd0d5"/><stop offset="0.125" stop-color="#18ddc2"/><stop offset="0.250" stop-color="#3cf58e"/><stop offset="0.375" stop-color="#88ff4e"/><stop offset="0.500" stop-color="#b9f635"/><stop offset="0.625" stop-color="#e3db38"/><stop offset="0.750" stop-color="#fbb637"/><stop offset="0.875" stop-color="#f66c19"/><stop offset="1.000" stop-color="#d63506"/></linearGradient><linearGradient id="b78" gradientUnits="userSpaceOnUse" x1="0" x2="0" y1="118.75" y2="153.82"><stop offset="0" stop-color="#476ee6"/><stop offset="0.074" stop-color="#1fc9dd"/><stop offset="0.125" stop-color="#18d7ca"/><stop offset="0.250" stop-color="#35f394"/><stop offset="0.375" stop-color="#80ff53"/><stop offset="0.500" stop-color="#b7f735"/><stop offset="0.625" stop-color="#e3db38"/><stop offset="0.750" stop-color="#fbb637"/><stop offset="0.875" stop-color="#f66c19"/><stop offset="1.000" stop-color="#d43305"/></linearGradient><linearGradient id="b79" gradientUnits="userSpaceOnUse" x1="0" x2="0" y1="118.75" y2="153.82"><stop offset="0" stop-color="#476ee6"/><stop offset="0.074" stop-color="#1ecbda"/><stop offset="0.125" stop-color="#18dbc5"/><stop offset="0.250" stop-color="#3cf58e"/><stop offset="0.375" stop-color="#88ff4e"/><stop offset="0.500" stop-color="#bcf534"/><stop offset="0.625" stop-color="#e7d739"/><stop offset="0.750" stop-color="#fcb136"/><stop offset="0.875" stop-color="#f46617"/><stop offset="1.000" stop-color="#d43305"/></linearGradient><linearGradient id="b80" gradientUnits="userSpaceOnUse" x1="0" x2="0" y1="117.58" y2="152.65"><stop offset="0" stop-color="#476ee6"/><stop offset="0.074" stop-color="#22c5e2"/><stop offset="0.125" stop-color="#19d5cd"/><stop offset="0.250" stop-color="#2ff19b"/><stop offset="0.375" stop-color="#79fe59"/><stop offset="0.500" stop-color="#b1f936"/><stop offset="0.625" stop-color="#e1dd37"/><stop offset="0.750" stop-color="#fbb838"/><stop offset="0.875" stop-color="#f9751d"/><stop offset="1.000" stop-color="#d83706"/></linearGradient><linearGradient id="b81" gradientUnits="userSpaceOnUse" x1="0" x2="0" y1="117.58" y2="152.65"><stop offset="0" stop-color="#476ee6"/><stop offset="0.074" stop-color="#1fc9dd"/><stop offset="0.125" stop-color="#18d9c8"/><stop offset="0.250" stop-color="#35f394"/><stop offset="0.375" stop-color="#80ff53"/><stop offset="0.500" stop-color="#b7f735"/><stop offset="0.625" stop-color="#e3db38"/><stop offset="0.750" stop-color="#fbb637"/><stop offset="0.875" stop-color="#f8721c"/><stop offset="1.000" stop-color="#d43305"/></linearGradient><linearGradient id="b82" gradientUnits="userSpaceOnUse" x1="0" x2="0" y1="115.25" y2="151.49"><stop offset="0" stop-color="#476ee6"/><stop offset="0.072" stop-color="#2cb7f0"/><stop offset="0.125" stop-color="#1fc9dd"/><stop offset="0.250" stop-color="#22ebaa"/><stop offset="0.375" stop-color="#65fd69"/><stop offset="0.500" stop-color="#a7fc3a"/><stop offset="0.625" stop-color="#d9e436"/><stop offset="0.750" stop-color="#f8be39"/><stop offset="0.875" stop-color="#fc8423"/><stop offset="1.000" stop-color="#dd3d08"/></linearGradient><linearGradient id="b83" gradientUnits="userSpaceOnUse" x1="0" x2="0" y1="115.25" y2="151.49"><stop offset="0" stop-color="#476ee6"/><stop offset="0.072" stop-color="#28bceb"/><stop offset="0.125" stop-color="#1ccdd8"/><stop offset="0.250" stop-color="#25eca7"/><stop offset="0.375" stop-color="#6dfe62"/><stop offset="0.500" stop-color="#acfb38"/><stop offset="0.625" stop-color="#dbe236"/><stop offset="0.750" stop-color="#faba39"/><stop offset="0.875" stop-color="#fb8122"/><stop offset="1.000" stop-color="#da3907"/></linearGradient><linearGradient id="b84" gradientUnits="userSpaceOnUse" x1="0" x2="0" y1="111.74" y2="151.49"><stop offset="0" stop-color="#476ee6"/><stop offset="0.065" stop-color="#38a5fb"/><stop offset="0.125" stop-color="#2cb7f0"/><stop offset="0.250" stop-color="#18e0bd"/><stop offset="0.375" stop-color="#4af880"/><stop offset="0.500" stop-color="#9ffd3f"/><stop offset="0.625" stop-color="#d2e935"/><stop offset="0.750" stop-color="#f7c13a"/><stop offset="0.875" stop-color="#fc8423"/><stop offset="1.000" stop-color="#d83706"/></linearGradient><linearGradient id="b85" gradientUnits="userSpaceOnUse" x1="0" x2="0" y1="111.74" y2="151.49"><stop offset="0" stop-color="#476ee6"/><stop offset="0.065" stop-color="#35abf8"/><stop offset="0.125" stop-color="#28bceb"/><stop offset="0.250" stop-color="#19e2bb"/><stop offset="0.375" stop-color="#52fa7a"/><stop offset="0.500" stop-color="#a1fd3d"/><stop offset="0.625" stop-color="#d7e535"/><stop offset="0.750" stop-color="#f9bc39"/><stop offset="0.875" stop-color="#fb7e21"/><stop offset="1.000" stop-color="#d43305"/></linearGradient><linearGradient id="b86" gradientUnits="userSpaceOnUse" x1="0" x2="0" y1="110.57" y2="150.32"><stop offset="0" stop-color="#476ee6"/><stop offset="0.065" stop-color="#38a5fb"/><stop offset="0.125" stop-color="#2cb7f0"/><stop offset="0.250" stop-color="#18ddc2"/><stop offset="0.375" stop-color="#46f884"/><stop offset="0.500" stop-color="#99fe42"/><stop offset="0.625" stop-color="#cdec34"/><stop offset="0.750" stop-color="#f6c33a"/><stop offset="0.875" stop-color="#fe9029"/><stop offset="1.000" stop-color="#dd3d08"/></linearGradient><linearGradient id="b87" gradientUnits="userSpaceOnUse" x1="0" x2="0" y1="110.57" y2="150.32"><stop offset="0" stop-color="#476ee6"/><stop offset="0.065" stop-color="#35abf8"/><stop offset="0.125" stop-color="#28bceb"/><stop offset="0.250" stop-color="#18e0bd"/><stop offset="0.375" stop-color="#4af880"/><stop offset="0.500" stop-color="#9cfe40"/><stop offset="0.625" stop-color="#d0ea34"/><stop offset="0.750" stop-color="#f7c13a"/><stop offset="0.875" stop-color="#fd8d27"/><stop offset="1.000" stop-color="#dc3b07"/></linearGradient><linearGradient id="b88" gradientUnits="userSpaceOnUse" x1="0" x2="0" y1="109.40" y2="149.15"><stop offset="0" stop-color="#476ee6"/><stop offset="0.065" stop-color="#38a5fb"/><stop offset="0.125" stop-color="#2cb7f0"/><stop offset="0.250" stop-color="#18d9c8"/><stop offset="0.375" stop-color="#3ff68a"/><stop offset="0.500" stop-color="#92ff47"/><stop offset="0.625" stop-color="#c8ef34"/><stop offset="0.750" stop-color="#f4c73a"/><stop offset="0.875" stop-color="#fe962b"/><stop offset="1.000" stop-color="#e4450a"/></linearGradient><linearGradient id="b89" gradientUnits="userSpaceOnUse" x1="0" x2="0" y1="109.40" y2="149.15"><stop offset="0" stop-color="#476ee6"/><stop offset="0.065" stop-color="#37a8fa"/><stop offset="0.125" stop-color="#2ab9ee"/><stop offset="0.250" stop-color="#18ddc2"/><stop offset="0.375" stop-color="#43f787"/><stop offset="0.500" stop-color="#96fe44"/><stop offset="0.625" stop-color="#cbed34"/><stop offset="0.750" stop-color="#f5c53a"/><stop offset="0.875" stop-color="#fe9029"/><stop offset="1.000" stop-color="#e2430a"/></linearGradient><linearGradient id="b90" gradientUnits="userSpaceOnUse" x1="0" x2="0" y1="109.40" y2="149.15"><stop offset="0" stop-color="#476ee6"/><stop offset="0.065" stop-color="#33adf7"/><stop offset="0.125" stop-color="#27bee9"/><stop offset="0.250" stop-color="#18dec0"/><stop offset="0.375" stop-color="#4af880"/><stop offset="0.500" stop-color="#9cfe40"/><stop offset="0.625" stop-color="#d0ea34"/><stop offset="0.750" stop-color="#f7c13a"/><stop offset="0.875" stop-color="#fd8d27"/><stop offset="1.000" stop-color="#df3f08"/></linearGradient><linearGradient id="b91" gradientUnits="userSpaceOnUse" x1="0" x2="0" y1="109.40" y2="149.15"><stop offset="0" stop-color="#476ee6"/><stop offset="0.065" stop-color="#31aff5"/><stop offset="0.125" stop-color="#25c0e7"/><stop offset="0.250" stop-color="#19e2bb"/><stop offset="0.375" stop-color="#4ef97d"/><stop offset="0.500" stop-color="#9ffd3f"/><stop offset="0.625" stop-color="#d2e935"/><stop offset="0.750" stop-color="#f8be39"/><stop offset="0.875" stop-color="#fd8a26"/><stop offset="1.000" stop-color="#dd3d08"/></linearGradient><linearGradient id="b92" gradientUnits="userSpaceOnUse" x1="0" x2="0" y1="108.23" y2="147.98"><stop offset="0" stop-color="#476ee6"/><stop offset="0.065" stop-color="#37a8fa"/><stop offset="0.125" stop-color="#28bceb"/><stop offset="0.250" stop-color="#18ddc2"/><stop offset="0.375" stop-color="#43f787"/><stop offset="0.500" stop-color="#92ff47"/><stop offset="0.625" stop-color="#cbed34"/><stop offset="0.750" stop-color="#f4c73a"/><stop offset="0.875" stop-color="#fe932a"/><stop offset="1.000" stop-color="#e7490c"/></linearGradient><linearGradient id="b93" gradientUnits="userSpaceOnUse" x1="0" x2="0" y1="108.23" y2="147.98"><stop offset="0" stop-color="#476ee6"/><stop offset="0.065" stop-color="#35abf8"/><stop offset="0.125" stop-color="#25c0e7"/><stop offset="0.250" stop-color="#18dec0"/><stop offset="0.375" stop-color="#46f884"/><stop offset="0.500" stop-color="#99fe42"/><stop offset="0.625" stop-color="#d0ea34"/><stop offset="0.750" stop-color="#f6c33a"/><stop offset="0.875" stop-color="#fd8d27"/><stop offset="1.000" stop-color="#e4450a"/></linearGradient><linearGradient id="b94" gradientUnits="userSpaceOnUse" x1="0" x2="0" y1="107.06" y2="147.98"><stop offset="0" stop-color="#476ee6"/><stop offset="0.064" stop-color="#3aa3fc"/><stop offset="0.125" stop-color="#28bceb"/><stop offset="0.250" stop-color="#18ddc2"/><stop offset="0.375" stop-color="#43f787"/><stop offset="0.500" stop-color="#96fe44"/><stop offset="0.625" stop-color="#d0ea34"/><stop offset="0.750" stop-color="#f6c33a"/><stop offset="0.875" stop-color="#fd8d27"/><stop offset="1.000" stop-color="#e2430a"/></linearGradient><linearGradient id="b95" gradientUnits="userSpaceOnUse" x1="0" x2="0" y1="107.06" y2="147.98"><stop offset="0" stop-color="#476ee6"/><stop offset="0.064" stop-color="#38a5fb"/><stop offset="0.125" stop-color="#27bee9"/><stop offset="0.250" stop-color="#18dec0"/><stop offset="0.375" stop-color="#46f884"/><stop offset="0.500" stop-color="#99fe42"/><stop offset="0.625" stop-color="#d2e935"/><stop offset="0.750" stop-color="#f7c13a"/><stop offset="0.875" stop-color="#fc8725"/><stop offset="1.000" stop-color="#e14109"/></linearGradient><linearGradient id="b96" gradientUnits="userSpaceOnUse" x1="0" x2="0" y1="105.89" y2="146.81"><stop offset="0" stop-color="#476ee6"/><stop offset="0.064" stop-color="#3d9efe"/><stop offset="0.125" stop-color="#2cb7f0"/><stop offset="0.250" stop-color="#18dbc5"/><stop offset="0.375" stop-color="#3cf58e"/><stop offset="0.500" stop-color="#8fff49"/><stop offset="0.625" stop-color="#cbed34"/><stop offset="0.750" stop-color="#f2c93a"/><stop offset="0.875" stop-color="#fe932a"/><stop offset="1.000" stop-color="#ea4e0d"/></linearGradient><linearGradient id="b97" gradientUnits="userSpaceOnUse" x1="0" x2="0" y1="105.89" y2="146.81"><stop offset="0" stop-color="#476ee6"/><stop offset="0.064" stop-color="#3ba0fd"/><stop offset="0.125" stop-color="#2ab9ee"/><stop offset="0.250" stop-color="#18ddc2"/><stop offset="0.375" stop-color="#3ff68a"/><stop offset="0.500" stop-color="#92ff47"/><stop offset="0.625" stop-color="#cdec34"/><stop offset="0.750" stop-color="#f5c53a"/><stop offset="0.875" stop-color="#fd8d27"/><stop offset="1.000" stop-color="#e7490c"/></linearGradient><linearGradient id="b98" gradientUnits="userSpaceOnUse" x1="0" x2="0" y1="104.73" y2="146.81"><stop offset="0" stop-color="#476ee6"/><stop offset="0.062" stop-color="#4099ff"/><stop offset="0.125" stop-color="#2fb2f4"/><stop offset="0.250" stop-color="#18dbc5"/><stop offset="0.375" stop-color="#38f491"/><stop offset="0.500" stop-color="#8fff49"/><stop offset="0.625" stop-color="#cbed34"/><stop offset="0.750" stop-color="#f5c53a"/><stop offset="0.875" stop-color="#fd8d27"/><stop offset="1.000" stop-color="#e5470b"/></linearGradient><linearGradient id="b99" gradientUnits="userSpaceOnUse" x1="0" x2="0" y1="104.73" y2="146.81"><stop offset="0" stop-color="#476ee6"/><stop offset="0.062" stop-color="#3e9bfe"/><stop offset="0.125" stop-color="#2cb7f0"/><stop offset="0.250" stop-color="#18ddc2"/><stop offset="0.375" stop-color="#3ff68a"/><stop offset="0.500" stop-color="#92ff47"/><stop offset="0.625" stop-color="#d0ea34"/><stop offset="0.750" stop-color="#f6c33a"/><stop offset="0.875" stop-color="#fc8725"/><stop offset="1.000" stop-color="#e4450a"/></linearGradient><linearGradient id="b100" gradientUnits="userSpaceOnUse" x1="0" x2="0" y1="103.56" y2="146.81"><stop offset="0" stop-color="#476ee6"/><stop offset="0.060" stop-color="#4294ff"/><stop offset="0.125" stop-color="#31aff5"/><stop offset="0.250" stop-color="#18dbc5"/><stop offset="0.375" stop-color="#38f491"/><stop offset="0.500" stop-color="#8fff49"/><stop offset="0.625" stop-color="#cdec34"/><stop offset="0.750" stop-color="#f6c33a"/><stop offset="0.875" stop-color="#fc8725"/><stop offset="1.000" stop-color="#e2430a"/></linearGradient><linearGradient id="b101" gradientUnits="userSpaceOnUse" x1="0" x2="0" y1="103.56" y2="146.81"><stop offset="0" stop-color="#476ee6"/><stop offset="0.060" stop-color="#4099ff"/><stop offset="0.125" stop-color="#2fb2f4"/><stop offset="0.250" stop-color="#18ddc2"/><stop offset="0.375" stop-color="#3ff68a"/><stop offset="0.500" stop-color="#96fe44"/><stop offset="0.625" stop-color="#d2e935"/><stop offset="0.750" stop-color="#f7c13a"/><stop offset="0.875" stop-color="#fb8122"/><stop offset="1.000" stop-color="#df3f08"/></linearGradient><linearGradient id="b102" gradientUnits="userSpaceOnUse" x1="0" x2="0" y1="101.22" y2="145.64"><stop offset="0" stop-color="#476ee6"/><stop offset="0.059" stop-color="#4687fb"/><stop offset="0.125" stop-color="#3ba0fd"/><stop offset="0.250" stop-color="#1ad4d0"/><stop offset="0.375" stop-color="#2aefa1"/><stop offset="0.500" stop-color="#7dff56"/><stop offset="0.625" stop-color="#c3f134"/><stop offset="0.750" stop-color="#f1cb3a"/><stop offset="0.875" stop-color="#fe9029"/><stop offset="1.000" stop-color="#ea4e0d"/></linearGradient><linearGradient id="b103" gradientUnits="userSpaceOnUse" x1="0" x2="0" y1="101.22" y2="145.64"><stop offset="0" stop-color="#476ee6"/><stop offset="0.059" stop-color="#458afc"/><stop offset="0.125" stop-color="#3aa3fc"/><stop offset="0.250" stop-color="#19d5cd"/><stop offset="0.375" stop-color="#2cf09e"/><stop offset="0.500" stop-color="#84ff51"/><stop offset="0.625" stop-color="#c6f034"/><stop offset="0.750" stop-color="#f2c93a"/><stop offset="0.875" stop-color="#fd8a26"/><stop offset="1.000" stop-color="#e84b0c"/></linearGradient><linearGradient id="b104" gradientUnits="userSpaceOnUse" x1="0" x2="0" y1="100.05" y2="145.64"><stop offset="0" stop-color="#476ee6"/><stop offset="0.057" stop-color="#4685fa"/><stop offset="0.125" stop-color="#3d9efe"/><stop offset="0.250" stop-color="#1ad2d2"/><stop offset="0.375" stop-color="#2aefa1"/><stop offset="0.500" stop-color="#80ff53"/><stop offset="0.625" stop-color="#c6f034"/><stop offset="0.750" stop-color="#f2c93a"/><stop offset="0.875" stop-color="#fd8a26"/><stop offset="1.000" stop-color="#e7490c"/></linearGradient><linearGradient id="b105" gradientUnits="userSpaceOnUse" x1="0" x2="0" y1="100.05" y2="145.64"><stop offset="0" stop-color="#476ee6"/><stop offset="0.057" stop-color="#4687fb"/><stop offset="0.125" stop-color="#3ba0fd"/><stop offset="0.250" stop-color="#19d5cd"/><stop offset="0.375" stop-color="#2ff19b"/><stop offset="0.500" stop-color="#84ff51"/><stop offset="0.625" stop-color="#c8ef34"/><stop offset="0.750" stop-color="#f4c73a"/><stop offset="0.875" stop-color="#fc8423"/><stop offset="1.000" stop-color="#e5470b"/></linearGradient><linearGradient id="b106" gradientUnits="userSpaceOnUse" x1="0" x2="0" y1="98.88" y2="144.47"><stop offset="0" stop-color="#476ee6"/><stop offset="0.057" stop-color="#4682f8"/><stop offset="0.125" stop-color="#4099ff"/><stop offset="0.250" stop-color="#1ecbda"/><stop offset="0.375" stop-color="#27eea4"/><stop offset="0.500" stop-color="#75fe5c"/><stop offset="0.625" stop-color="#bef434"/><stop offset="0.750" stop-color="#efcd3a"/><stop offset="0.875" stop-color="#fe9029"/><stop offset="1.000" stop-color="#ea4e0d"/></linearGradient><linearGradient id="b107" gradientUnits="userSpaceOnUse" x1="0" x2="0" y1="98.88" y2="144.47"><stop offset="0" stop-color="#476ee6"/><stop offset="0.057" stop-color="#4685fa"/><stop offset="0.125" stop-color="#3e9bfe"/><stop offset="0.250" stop-color="#1bd0d5"/><stop offset="0.375" stop-color="#2aefa1"/><stop offset="0.500" stop-color="#7dff56"/><stop offset="0.625" stop-color="#c3f134"/><stop offset="0.750" stop-color="#f2c93a"/><stop offset="0.875" stop-color="#fd8d27"/><stop offset="1.000" stop-color="#e84b0c"/></linearGradient><linearGradient id="b108" gradientUnits="userSpaceOnUse" x1="0" x2="0" y1="97.71" y2="144.47"><stop offset="0" stop-color="#476ee6"/><stop offset="0.056" stop-color="#467df4"/><stop offset="0.125" stop-color="#4196ff"/><stop offset="0.250" stop-color="#1fc9dd"/><stop offset="0.375" stop-color="#27eea4"/><stop offset="0.500" stop-color="#79fe59"/><stop offset="0.625" stop-color="#c1f334"/><stop offset="0.750" stop-color="#f2c93a"/><stop offset="0.875" stop-color="#fd8a26"/><stop offset="1.000" stop-color="#e7490c"/></linearGradient><linearGradient id="b109" gradientUnits="userSpaceOnUse" x1="0" x2="0" y1="97.71" y2="144.47"><stop offset="0" stop-color="#476ee6"/><stop offset="0.056" stop-color="#4680f6"/><stop offset="0.125" stop-color="#4099ff"/><stop offset="0.250" stop-color="#1ecbda"/><stop offset="0.375" stop-color="#2aefa1"/><stop offset="0.500" stop-color="#7dff56"/><stop offset="0.625" stop-color="#c3f134"/><stop offset="0.750" stop-color="#f4c73a"/><stop offset="0.875" stop-color="#fc8725"/><stop offset="1.000" stop-color="#e4450a"/></linearGradient><linearGradient id="b110" gradientUnits="userSpaceOnUse" x1="0" x2="0" y1="96.54" y2="143.30"><stop offset="0" stop-color="#476ee6"/><stop offset="0.056" stop-color="#477bf2"/><stop offset="0.125" stop-color="#4391fe"/><stop offset="0.250" stop-color="#22c5e2"/><stop offset="0.375" stop-color="#25eca7"/><stop offset="0.500" stop-color="#6dfe62"/><stop offset="0.625" stop-color="#bcf534"/><stop offset="0.750" stop-color="#efcd3a"/><stop offset="0.875" stop-color="#fe932a"/><stop offset="1.000" stop-color="#ea4e0d"/></linearGradient><linearGradient id="b111" gradientUnits="userSpaceOnUse" x1="0" x2="0" y1="96.54" y2="143.30"><stop offset="0" stop-color="#476ee6"/><stop offset="0.056" stop-color="#467df4"/><stop offset="0.125" stop-color="#4294ff"/><stop offset="0.250" stop-color="#20c7df"/><stop offset="0.375" stop-color="#27eea4"/><stop offset="0.500" stop-color="#71fe5f"/><stop offset="0.625" stop-color="#bef434"/><stop offset="0.750" stop-color="#f1cb3a"/><stop offset="0.875" stop-color="#fe9029"/><stop offset="1.000" stop-color="#e84b0c"/></linearGradient><linearGradient id="b112" gradientUnits="userSpaceOnUse" x1="0" x2="0" y1="96.54" y2="142.13"><stop offset="0" stop-color="#476ee6"/><stop offset="0.057" stop-color="#4680f6"/><stop offset="0.125" stop-color="#4196ff"/><stop offset="0.250" stop-color="#20c7df"/><stop offset="0.375" stop-color="#27eea4"/><stop offset="0.500" stop-color="#6dfe62"/><stop offset="0.625" stop-color="#b9f635"/><stop offset="0.750" stop-color="#eecf3a"/><stop offset="0.875" stop-color="#fe992c"/><stop offset="1.000" stop-color="#ec530f"/></linearGradient><linearGradient id="b113" gradientUnits="userSpaceOnUse" x1="0" x2="0" y1="96.54" y2="142.13"><stop offset="0" stop-color="#476ee6"/><stop offset="0.057" stop-color="#4682f8"/><stop offset="0.125" stop-color="#4099ff"/><stop offset="0.250" stop-color="#1fc9dd"/><stop offset="0.375" stop-color="#2aefa1"/><stop offset="0.500" stop-color="#71fe5f"/><stop offset="0.625" stop-color="#bcf534"/><stop offset="0.750" stop-color="#efcd3a"/><stop offset="0.875" stop-color="#fe962b"/><stop offset="1.000" stop-color="#eb500e"/></linearGradient><linearGradient id="b114" gradientUnits="userSpaceOnUse" x1="0" x2="0" y1="95.37" y2="142.13"><stop offset="0" stop-color="#476ee6"/><stop offset="0.056" stop-color="#467df4"/><stop offset="0.125" stop-color="#4294ff"/><stop offset="0.250" stop-color="#22c5e2"/><stop offset="0.375" stop-color="#25eca7"/><stop offset="0.500" stop-color="#6dfe62"/><stop offset="0.625" stop-color="#bcf534"/><stop offset="0.750" stop-color="#efcd3a"/><stop offset="0.875" stop-color="#fe962b"/><stop offset="1.000" stop-color="#ea4e0d"/></linearGradient><linearGradient id="b115" gradientUnits="userSpaceOnUse" x1="0" x2="0" y1="95.37" y2="142.13"><stop offset="0" stop-color="#476ee6"/><stop offset="0.056" stop-color="#4680f6"/><stop offset="0.125" stop-color="#4196ff"/><stop offset="0.250" stop-color="#20c7df"/><stop offset="0.375" stop-color="#27eea4"/><stop offset="0.500" stop-color="#71fe5f"/><stop offset="0.625" stop-color="#bef434"/><stop offset="0.750" stop-color="#f1cb3a"/><stop offset="0.875" stop-color="#fe932a"/><stop offset="1.000" stop-color="#e84b0c"/></linearGradient><linearGradient id="b116" gradientUnits="userSpaceOnUse" x1="0" x2="0" y1="94.20" y2="140.96"><stop offset="0" stop-color="#476ee6"/><stop offset="0.056" stop-color="#477bf2"/><stop offset="0.125" stop-color="#4391fe"/><stop offset="0.250" stop-color="#25c0e7"/><stop offset="0.375" stop-color="#20eaac"/><stop offset="0.500" stop-color="#65fd69"/><stop offset="0.625" stop-color="#b4f836"/><stop offset="0.750" stop-color="#ebd339"/><stop offset="0.875" stop-color="#fe9e2f"/><stop offset="1.000" stop-color="#ed5510"/></linearGradient><linearGradient id="b117" gradientUnits="userSpaceOnUse" x1="0" x2="0" y1="94.20" y2="140.96"><stop offset="0" stop-color="#476ee6"/><stop offset="0.056" stop-color="#477bf2"/><stop offset="0.125" stop-color="#4294ff"/><stop offset="0.250" stop-color="#23c3e4"/><stop offset="0.375" stop-color="#25eca7"/><stop offset="0.500" stop-color="#69fd66"/><stop offset="0.625" stop-color="#b7f735"/><stop offset="0.750" stop-color="#ecd13a"/><stop offset="0.875" stop-color="#fe9b2d"/><stop offset="1.000" stop-color="#eb500e"/></linearGradient><linearGradient id="b118" gradientUnits="userSpaceOnUse" x1="0" x2="0" y1="93.04" y2="139.80"><stop offset="0" stop-color="#476ee6"/><stop offset="0.056" stop-color="#4776ee"/><stop offset="0.125" stop-color="#458cfd"/><stop offset="0.250" stop-color="#28bceb"/><stop offset="0.375" stop-color="#1ce6b4"/><stop offset="0.500" stop-color="#5dfc6f"/><stop offset="0.625" stop-color="#affa37"/><stop offset="0.750" stop-color="#e7d739"/><stop offset="0.875" stop-color="#fea732"/><stop offset="1.000" stop-color="#f05b12"/></linearGradient><linearGradient id="b119" gradientUnits="userSpaceOnUse" x1="0" x2="0" y1="93.04" y2="139.80"><stop offset="0" stop-color="#476ee6"/><stop offset="0.056" stop-color="#4778f0"/><stop offset="0.125" stop-color="#448ffe"/><stop offset="0.250" stop-color="#27bee9"/><stop offset="0.375" stop-color="#1de7b2"/><stop offset="0.500" stop-color="#61fc6c"/><stop offset="0.625" stop-color="#b1f936"/><stop offset="0.750" stop-color="#e9d539"/><stop offset="0.875" stop-color="#fea431"/><stop offset="1.000" stop-color="#ef5811"/></linearGradient><linearGradient id="b120" gradientUnits="userSpaceOnUse" x1="0" x2="0" y1="91.87" y2="138.63"><stop offset="0" stop-color="#476ee6"/><stop offset="0.056" stop-color="#4771e9"/><stop offset="0.125" stop-color="#458afc"/><stop offset="0.250" stop-color="#2eb4f2"/><stop offset="0.375" stop-color="#19e2bb"/><stop offset="0.500" stop-color="#55fa76"/><stop offset="0.625" stop-color="#a7fc3a"/><stop offset="0.750" stop-color="#e1dd37"/><stop offset="0.875" stop-color="#fdac34"/><stop offset="1.000" stop-color="#f36315"/></linearGradient><linearGradient id="b121" gradientUnits="userSpaceOnUse" x1="0" x2="0" y1="91.87" y2="138.63"><stop offset="0" stop-color="#476ee6"/><stop offset="0.056" stop-color="#4773eb"/><stop offset="0.125" stop-color="#458cfd"/><stop offset="0.250" stop-color="#2cb7f0"/><stop offset="0.375" stop-color="#1ae4b6"/><stop offset="0.500" stop-color="#59fb73"/><stop offset="0.625" stop-color="#a9fb39"/><stop offset="0.750" stop-color="#e3db38"/><stop offset="0.875" stop-color="#fea732"/><stop offset="1.000" stop-color="#f26014"/></linearGradient><linearGradient id="b122" gradientUnits="userSpaceOnUse" x1="0" x2="0" y1="91.87" y2="138.63"><stop offset="0" stop-color="#476ee6"/><stop offset="0.056" stop-color="#4776ee"/><stop offset="0.125" stop-color="#448ffe"/><stop offset="0.250" stop-color="#2ab9ee"/><stop offset="0.375" stop-color="#1ce6b4"/><stop offset="0.500" stop-color="#5dfc6f"/><stop offset="0.625" stop-color="#acfb38"/><stop offset="0.750" stop-color="#e5d938"/><stop offset="0.875" stop-color="#fea431"/><stop offset="1.000" stop-color="#f15d13"/></linearGradient><linearGradient id="b123" gradientUnits="userSpaceOnUse" x1="0" x2="0" y1="91.87" y2="138.63"><stop offset="0" stop-color="#476ee6"/><stop offset="0.056" stop-color="#4778f0"/><stop offset="0.125" stop-color="#4391fe"/><stop offset="0.250" stop-color="#28bceb"/><stop offset="0.375" stop-color="#1de7b2"/><stop offset="0.500" stop-color="#65fd69"/><stop offset="0.625" stop-color="#affa37"/><stop offset="0.750" stop-color="#e9d539"/><stop offset="0.875" stop-color="#fea130"/><stop offset="1.000" stop-color="#f05b12"/></linearGradient><linearGradient id="b124" gradientUnits="userSpaceOnUse" x1="0" x2="0" y1="90.70" y2="137.46"><stop offset="0" stop-color="#476ee6"/><stop offset="0.056" stop-color="#4773eb"/><stop offset="0.125" stop-color="#458afc"/><stop offset="0.250" stop-color="#2eb4f2"/><stop offset="0.375" stop-color="#19e2bb"/><stop offset="0.500" stop-color="#55fa76"/><stop offset="0.625" stop-color="#a7fc3a"/><stop offset="0.750" stop-color="#e1dd37"/><stop offset="0.875" stop-color="#fdac34"/><stop offset="1.000" stop-color="#f46617"/></linearGradient><linearGradient id="b125" gradientUnits="userSpaceOnUse" x1="0" x2="0" y1="90.70" y2="137.46"><stop offset="0" stop-color="#476ee6"/><stop offset="0.056" stop-color="#4773eb"/><stop offset="0.125" stop-color="#458cfd"/><stop offset="0.250" stop-color="#2cb7f0"/><stop offset="0.375" stop-color="#19e3b9"/><stop offset="0.500" stop-color="#5dfc6f"/><stop offset="0.625" stop-color="#a9fb39"/><stop offset="0.750" stop-color="#e3db38"/><stop offset="0.875" stop-color="#fea933"/><stop offset="1.000" stop-color="#f36315"/></linearGradient><linearGradient id="b126" gradientUnits="userSpaceOnUse" x1="0" x2="0" y1="89.53" y2="137.46"><stop offset="0" stop-color="#476ee6"/><stop offset="0.054" stop-color="#4771e9"/><stop offset="0.125" stop-color="#4685fa"/><stop offset="0.250" stop-color="#2eb4f2"/><stop offset="0.375" stop-color="#18e0bd"/><stop offset="0.500" stop-color="#55fa76"/><stop offset="0.625" stop-color="#a7fc3a"/><stop offset="0.750" stop-color="#e3db38"/><stop offset="0.875" stop-color="#fea732"/><stop offset="1.000" stop-color="#f26014"/></linearGradient><linearGradient id="b127" gradientUnits="userSpaceOnUse" x1="0" x2="0" y1="89.53" y2="137.46"><stop offset="0" stop-color="#476ee6"/><stop offset="0.054" stop-color="#4771e9"/><stop offset="0.125" stop-color="#4687fb"/><stop offset="0.250" stop-color="#2eb4f2"/><stop offset="0.375" stop-color="#19e2bb"/><stop offset="0.500" stop-color="#59fb73"/><stop offset="0.625" stop-color="#a9fb39"/><stop offset="0.750" stop-color="#e5d938"/><stop offset="0.875" stop-color="#fea431"/><stop offset="1.000" stop-color="#f15d13"/></linearGradient><linearGradient id="b128" gradientUnits="userSpaceOnUse" x1="0" x2="0" y1="88.36" y2="136.29"><stop offset="0" stop-color="#476ee6"/><stop offset="0.054" stop-color="#476ee6"/><stop offset="0.125" stop-color="#4682f8"/><stop offset="0.250" stop-color="#31aff5"/><stop offset="0.375" stop-color="#18ddc2"/><stop offset="0.500" stop-color="#4ef97d"/><stop offset="0.625" stop-color="#9ffd3f"/><stop offset="0.750" stop-color="#dde037"/><stop offset="0.875" stop-color="#fdae35"/><stop offset="1.000" stop-color="#f56918"/></linearGradient><linearGradient id="b129" gradientUnits="userSpaceOnUse" x1="0" x2="0" y1="88.36" y2="136.29"><stop offset="0" stop-color="#476ee6"/><stop offset="0.054" stop-color="#476ee6"/><stop offset="0.125" stop-color="#4682f8"/><stop offset="0.250" stop-color="#31aff5"/><stop offset="0.375" stop-color="#18dec0"/><stop offset="0.500" stop-color="#52fa7a"/><stop offset="0.625" stop-color="#a1fd3d"/><stop offset="0.750" stop-color="#dfdf37"/><stop offset="0.875" stop-color="#fdac34"/><stop offset="1.000" stop-color="#f46617"/></linearGradient><linearGradient id="b130" gradientUnits="userSpaceOnUse" x1="0" x2="0" y1="87.19" y2="136.29"><stop offset="0" stop-color="#476ee6"/><stop offset="0.053" stop-color="#466be3"/><stop offset="0.125" stop-color="#4680f6"/><stop offset="0.250" stop-color="#33adf7"/><stop offset="0.375" stop-color="#18dbc5"/><stop offset="0.500" stop-color="#4ef97d"/><stop offset="0.625" stop-color="#9ffd3f"/><stop offset="0.750" stop-color="#dfdf37"/><stop offset="0.875" stop-color="#fea933"/><stop offset="1.000" stop-color="#f36315"/></linearGradient><linearGradient id="b131" gradientUnits="userSpaceOnUse" x1="0" x2="0" y1="87.19" y2="136.29"><stop offset="0" stop-color="#476ee6"/><stop offset="0.053" stop-color="#466be3"/><stop offset="0.125" stop-color="#4682f8"/><stop offset="0.250" stop-color="#33adf7"/><stop offset="0.375" stop-color="#18ddc2"/><stop offset="0.500" stop-color="#52fa7a"/><stop offset="0.625" stop-color="#a1fd3d"/><stop offset="0.750" stop-color="#e1dd37"/><stop offset="0.875" stop-color="#fea732"/><stop offset="1.000" stop-color="#f26014"/></linearGradient><linearGradient id="b132" gradientUnits="userSpaceOnUse" x1="0" x2="0" y1="86.02" y2="135.12"><stop offset="0" stop-color="#476ee6"/><stop offset="0.053" stop-color="#4669e0"/><stop offset="0.125" stop-color="#467df4"/><stop offset="0.250" stop-color="#37a8fa"/><stop offset="0.375" stop-color="#19d5cd"/><stop offset="0.500" stop-color="#3ff68a"/><stop offset="0.625" stop-color="#99fe42"/><stop offset="0.750" stop-color="#d9e436"/><stop offset="0.875" stop-color="#fcb136"/><stop offset="1.000" stop-color="#f66c19"/></linearGradient><linearGradient id="b133" gradientUnits="userSpaceOnUse" x1="0" x2="0" y1="86.02" y2="135.12"><stop offset="0" stop-color="#476ee6"/><stop offset="0.053" stop-color="#4669e0"/><stop offset="0.125" stop-color="#4680f6"/><stop offset="0.250" stop-color="#35abf8"/><stop offset="0.375" stop-color="#18d7ca"/><stop offset="0.500" stop-color="#43f787"/><stop offset="0.625" stop-color="#9cfe40"/><stop offset="0.750" stop-color="#dbe236"/><stop offset="0.875" stop-color="#fdae35"/><stop offset="1.000" stop-color="#f56918"/></linearGradient><linearGradient id="b134" gradientUnits="userSpaceOnUse" x1="0" x2="0" y1="83.68" y2="133.95"><stop offset="0" stop-color="#476ee6"/><stop offset="0.052" stop-color="#4661d6"/><stop offset="0.125" stop-color="#4773eb"/><stop offset="0.250" stop-color="#3e9bfe"/><stop offset="0.375" stop-color="#1ecbda"/><stop offset="0.500" stop-color="#2ff19b"/><stop offset="0.625" stop-color="#8bff4b"/><stop offset="0.750" stop-color="#d0ea34"/><stop offset="0.875" stop-color="#fbb838"/><stop offset="1.000" stop-color="#f9781e"/></linearGradient><linearGradient id="b135" gradientUnits="userSpaceOnUse" x1="0" x2="0" y1="83.68" y2="133.95"><stop offset="0" stop-color="#476ee6"/><stop offset="0.052" stop-color="#4664da"/><stop offset="0.125" stop-color="#4776ee"/><stop offset="0.250" stop-color="#3d9efe"/><stop offset="0.375" stop-color="#1ccdd8"/><stop offset="0.500" stop-color="#32f298"/><stop offset="0.625" stop-color="#8fff49"/><stop offset="0.750" stop-color="#d2e935"/><stop offset="0.875" stop-color="#fbb637"/><stop offset="1.000" stop-color="#f9751d"/></linearGradient><linearGradient id="b136" gradientUnits="userSpaceOnUse" x1="0" x2="0" y1="82.51" y2="133.95"><stop offset="0" stop-color="#476ee6"/><stop offset="0.051" stop-color="#4661d6"/><stop offset="0.125" stop-color="#4773eb"/><stop offset="0.250" stop-color="#4099ff"/><stop offset="0.375" stop-color="#1fc9dd"/><stop offset="0.500" stop-color="#2cf09e"/><stop offset="0.625" stop-color="#8fff49"/><stop offset="0.750" stop-color="#d2e935"/><stop offset="0.875" stop-color="#fbb637"/><stop offset="1.000" stop-color="#f8721c"/></linearGradient><linearGradient id="b137" gradientUnits="userSpaceOnUse" x1="0" x2="0" y1="82.51" y2="133.95"><stop offset="0" stop-color="#476ee6"/><stop offset="0.051" stop-color="#4661d6"/><stop offset="0.125" stop-color="#4773eb"/><stop offset="0.250" stop-color="#3e9bfe"/><stop offset="0.375" stop-color="#1ecbda"/><stop offset="0.500" stop-color="#2ff19b"/><stop offset="0.625" stop-color="#92ff47"/><stop offset="0.750" stop-color="#d4e735"/><stop offset="0.875" stop-color="#fcb336"/><stop offset="1.000" stop-color="#f76f1a"/></linearGradient><linearGradient id="b138" gradientUnits="userSpaceOnUse" x1="0" x2="0" y1="81.35" y2="132.78"><stop offset="0" stop-color="#476ee6"/><stop offset="0.051" stop-color="#455ed3"/><stop offset="0.125" stop-color="#4771e9"/><stop offset="0.250" stop-color="#4294ff"/><stop offset="0.375" stop-color="#22c5e2"/><stop offset="0.500" stop-color="#27eea4"/><stop offset="0.625" stop-color="#84ff51"/><stop offset="0.750" stop-color="#cbed34"/><stop offset="0.875" stop-color="#f9bc39"/><stop offset="1.000" stop-color="#f9781e"/></linearGradient><linearGradient id="b139" gradientUnits="userSpaceOnUse" x1="0" x2="0" y1="81.35" y2="132.78"><stop offset="0" stop-color="#476ee6"/><stop offset="0.051" stop-color="#4661d6"/><stop offset="0.125" stop-color="#4771e9"/><stop offset="0.250" stop-color="#4196ff"/><stop offset="0.375" stop-color="#20c7df"/><stop offset="0.500" stop-color="#2aefa1"/><stop offset="0.625" stop-color="#88ff4e"/><stop offset="0.750" stop-color="#cdec34"/><stop offset="0.875" stop-color="#faba39"/><stop offset="1.000" stop-color="#f9751d"/></linearGradient><linearGradient id="b140" gradientUnits="userSpaceOnUse" x1="0" x2="0" y1="81.35" y2="132.78"><stop offset="0" stop-color="#476ee6"/><stop offset="0.051" stop-color="#4664da"/><stop offset="0.125" stop-color="#4773eb"/><stop offset="0.250" stop-color="#4099ff"/><stop offset="0.375" stop-color="#1fc9dd"/><stop offset="0.500" stop-color="#2aefa1"/><stop offset="0.625" stop-color="#8bff4b"/><stop offset="0.750" stop-color="#d0ea34"/><stop offset="0.875" stop-color="#fbb838"/><stop offset="1.000" stop-color="#f8721c"/></linearGradient><linearGradient id="b141" gradientUnits="userSpaceOnUse" x1="0" x2="0" y1="81.35" y2="132.78"><stop offset="0" stop-color="#476ee6"/><stop offset="0.051" stop-color="#4664da"/><stop offset="0.125" stop-color="#4776ee"/><stop offset="0.250" stop-color="#3e9bfe"/><stop offset="0.375" stop-color="#1ecbda"/><stop offset="0.500" stop-color="#2cf09e"/><stop offset="0.625" stop-color="#8fff49"/><stop offset="0.750" stop-color="#d2e935"/><stop offset="0.875" stop-color="#fbb637"/><stop offset="1.000" stop-color="#f76f1a"/></linearGradient><linearGradient id="b142" gradientUnits="userSpaceOnUse" x1="0" x2="0" y1="80.18" y2="131.61"><stop offset="0" stop-color="#476ee6"/><stop offset="0.051" stop-color="#4661d6"/><stop offset="0.125" stop-color="#4771e9"/><stop offset="0.250" stop-color="#4196ff"/><stop offset="0.375" stop-color="#23c3e4"/><stop offset="0.500" stop-color="#25eca7"/><stop offset="0.625" stop-color="#80ff53"/><stop offset="0.750" stop-color="#c8ef34"/><stop offset="0.875" stop-color="#f9bc39"/><stop offset="1.000" stop-color="#f9781e"/></linearGradient><linearGradient id="b143" gradientUnits="userSpaceOnUse" x1="0" x2="0" y1="80.18" y2="131.61"><stop offset="0" stop-color="#476ee6"/><stop offset="0.051" stop-color="#4664da"/><stop offset="0.125" stop-color="#4773eb"/><stop offset="0.250" stop-color="#4099ff"/><stop offset="0.375" stop-color="#22c5e2"/><stop offset="0.500" stop-color="#27eea4"/><stop offset="0.625" stop-color="#84ff51"/><stop offset="0.750" stop-color="#cbed34"/><stop offset="0.875" stop-color="#f9bc39"/><stop offset="1.000" stop-color="#f9751d"/></linearGradient><linearGradient id="b144" gradientUnits="userSpaceOnUse" x1="0" x2="0" y1="79.01" y2="131.61"><stop offset="0" stop-color="#476ee6"/><stop offset="0.049" stop-color="#4661d6"/><stop offset="0.125" stop-color="#4771e9"/><stop offset="0.250" stop-color="#4294ff"/><stop offset="0.375" stop-color="#23c3e4"/><stop offset="0.500" stop-color="#22ebaa"/><stop offset="0.625" stop-color="#80ff53"/><stop offset="0.750" stop-color="#cbed34"/><stop offset="0.875" stop-color="#faba39"/><stop offset="1.000" stop-color="#f8721c"/></linearGradient><linearGradient id="b145" gradientUnits="userSpaceOnUse" x1="0" x2="0" y1="79.01" y2="131.61"><stop offset="0" stop-color="#476ee6"/><stop offset="0.049" stop-color="#4661d6"/><stop offset="0.125" stop-color="#4773eb"/><stop offset="0.250" stop-color="#4196ff"/><stop offset="0.375" stop-color="#23c3e4"/><stop offset="0.500" stop-color="#25eca7"/><stop offset="0.625" stop-color="#84ff51"/><stop offset="0.750" stop-color="#cbed34"/><stop offset="0.875" stop-color="#fbb838"/><stop offset="1.000" stop-color="#f8721c"/></linearGradient><linearGradient id="b146" gradientUnits="userSpaceOnUse" x1="0" x2="0" y1="77.84" y2="130.44"><stop offset="0" stop-color="#476ee6"/><stop offset="0.049" stop-color="#455ed3"/><stop offset="0.125" stop-color="#4771e9"/><stop offset="0.250" stop-color="#4391fe"/><stop offset="0.375" stop-color="#27bee9"/><stop offset="0.500" stop-color="#1de7b2"/><stop offset="0.625" stop-color="#75fe5c"/><stop offset="0.750" stop-color="#c3f134"/><stop offset="0.875" stop-color="#f7c13a"/><stop offset="1.000" stop-color="#fa7b1f"/></linearGradient><linearGradient id="b147" gradientUnits="userSpaceOnUse" x1="0" x2="0" y1="77.84" y2="130.44"><stop offset="0" stop-color="#476ee6"/><stop offset="0.049" stop-color="#4661d6"/><stop offset="0.125" stop-color="#4771e9"/><stop offset="0.250" stop-color="#4294ff"/><stop offset="0.375" stop-color="#25c0e7"/><stop offset="0.500" stop-color="#1fe9af"/><stop offset="0.625" stop-color="#75fe5c"/><stop offset="0.750" stop-color="#c6f034"/><stop offset="0.875" stop-color="#f8be39"/><stop offset="1.000" stop-color="#f9781e"/></linearGradient><linearGradient id="b148" gradientUnits="userSpaceOnUse" x1="0" x2="0" y1="76.67" y2="130.44"><stop offset="0" stop-color="#476ee6"/><stop offset="0.048" stop-color="#455ccf"/><stop offset="0.125" stop-color="#4771e9"/><stop offset="0.250" stop-color="#448ffe"/><stop offset="0.375" stop-color="#28bceb"/><stop offset="0.500" stop-color="#1de7b2"/><stop offset="0.625" stop-color="#71fe5f"/><stop offset="0.750" stop-color="#c6f034"/><stop offset="0.875" stop-color="#f8be39"/><stop offset="1.000" stop-color="#f9751d"/></linearGradient><linearGradient id="b149" gradientUnits="userSpaceOnUse" x1="0" x2="0" y1="76.67" y2="130.44"><stop offset="0" stop-color="#476ee6"/><stop offset="0.048" stop-color="#455ed3"/><stop offset="0.125" stop-color="#4771e9"/><stop offset="0.250" stop-color="#4391fe"/><stop offset="0.375" stop-color="#27bee9"/><stop offset="0.500" stop-color="#1de7b2"/><stop offset="0.625" stop-color="#75fe5c"/><stop offset="0.750" stop-color="#c6f034"/><stop offset="0.875" stop-color="#f9bc39"/><stop offset="1.000" stop-color="#f8721c"/></linearGradient><linearGradient id="b150" gradientUnits="userSpaceOnUse" x1="0" x2="0" y1="76.67" y2="129.27"><stop offset="0" stop-color="#476ee6"/><stop offset="0.049" stop-color="#455ed3"/><stop offset="0.125" stop-color="#4773eb"/><stop offset="0.250" stop-color="#4391fe"/><stop offset="0.375" stop-color="#28bceb"/><stop offset="0.500" stop-color="#1ce6b4"/><stop offset="0.625" stop-color="#6dfe62"/><stop offset="0.750" stop-color="#c1f334"/><stop offset="0.875" stop-color="#f6c33a"/><stop offset="1.000" stop-color="#fb7e21"/></linearGradient><linearGradient id="b151" gradientUnits="userSpaceOnUse" x1="0" x2="0" y1="76.67" y2="129.27"><stop offset="0" stop-color="#476ee6"/><stop offset="0.049" stop-color="#4661d6"/><stop offset="0.125" stop-color="#4773eb"/><stop offset="0.250" stop-color="#4294ff"/><stop offset="0.375" stop-color="#27bee9"/><stop offset="0.500" stop-color="#1de7b2"/><stop offset="0.625" stop-color="#71fe5f"/><stop offset="0.750" stop-color="#c3f134"/><stop offset="0.875" stop-color="#f7c13a"/><stop offset="1.000" stop-color="#fa7b1f"/></linearGradient><linearGradient id="b152" gradientUnits="userSpaceOnUse" x1="0" x2="0" y1="75.50" y2="129.27"><stop offset="0" stop-color="#476ee6"/><stop offset="0.048" stop-color="#455ed3"/><stop offset="0.125" stop-color="#4771e9"/><stop offset="0.250" stop-color="#448ffe"/><stop offset="0.375" stop-color="#28bceb"/><stop offset="0.500" stop-color="#1ce6b4"/><stop offset="0.625" stop-color="#6dfe62"/><stop offset="0.750" stop-color="#c3f134"/><stop offset="0.875" stop-color="#f7c13a"/><stop offset="1.000" stop-color="#f9781e"/></linearGradient><linearGradient id="b153" gradientUnits="userSpaceOnUse" x1="0" x2="0" y1="75.50" y2="129.27"><stop offset="0" stop-color="#476ee6"/><stop offset="0.048" stop-color="#455ed3"/><stop offset="0.125" stop-color="#4773eb"/><stop offset="0.250" stop-color="#4391fe"/><stop offset="0.375" stop-color="#28bceb"/><stop offset="0.500" stop-color="#1ce6b4"/><stop offset="0.625" stop-color="#71fe5f"/><stop offset="0.750" stop-color="#c6f034"/><stop offset="0.875" stop-color="#f8be39"/><stop offset="1.000" stop-color="#f9781e"/></linearGradient><linearGradient id="b154" gradientUnits="userSpaceOnUse" x1="0" x2="0" y1="74.33" y2="128.11"><stop offset="0" stop-color="#476ee6"/><stop offset="0.048" stop-color="#455ccf"/><stop offset="0.125" stop-color="#4771e9"/><stop offset="0.250" stop-color="#458cfd"/><stop offset="0.375" stop-color="#2eb4f2"/><stop offset="0.500" stop-color="#19e2bb"/><stop offset="0.625" stop-color="#61fc6c"/><stop offset="0.750" stop-color="#bcf534"/><stop offset="0.875" stop-color="#f4c73a"/><stop offset="1.000" stop-color="#fb8122"/></linearGradient><linearGradient id="b155" gradientUnits="userSpaceOnUse" x1="0" x2="0" y1="74.33" y2="128.11"><stop offset="0" stop-color="#476ee6"/><stop offset="0.048" stop-color="#455ccf"/><stop offset="0.125" stop-color="#4771e9"/><stop offset="0.250" stop-color="#448ffe"/><stop offset="0.375" stop-color="#2cb7f0"/><stop offset="0.500" stop-color="#19e3b9"/><stop offset="0.625" stop-color="#65fd69"/><stop offset="0.750" stop-color="#bef434"/><stop offset="0.875" stop-color="#f5c53a"/><stop offset="1.000" stop-color="#fb7e21"/></linearGradient><linearGradient id="b156" gradientUnits="userSpaceOnUse" x1="0" x2="0" y1="73.16" y2="128.11"><stop offset="0" stop-color="#476ee6"/><stop offset="0.047" stop-color="#4559cb"/><stop offset="0.125" stop-color="#476ee6"/><stop offset="0.250" stop-color="#458cfd"/><stop offset="0.375" stop-color="#2eb4f2"/><stop offset="0.500" stop-color="#18e0bd"/><stop offset="0.625" stop-color="#61fc6c"/><stop offset="0.750" stop-color="#bef434"/><stop offset="0.875" stop-color="#f5c53a"/><stop offset="1.000" stop-color="#fb7e21"/></linearGradient><linearGradient id="b157" gradientUnits="userSpaceOnUse" x1="0" x2="0" y1="73.16" y2="128.11"><stop offset="0" stop-color="#476ee6"/><stop offset="0.047" stop-color="#4559cb"/><stop offset="0.125" stop-color="#4771e9"/><stop offset="0.250" stop-color="#458cfd"/><stop offset="0.375" stop-color="#2cb7f0"/><stop offset="0.500" stop-color="#19e2bb"/><stop offset="0.625" stop-color="#61fc6c"/><stop offset="0.750" stop-color="#bef434"/><stop offset="0.875" stop-color="#f6c33a"/><stop offset="1.000" stop-color="#fa7b1f"/></linearGradient><linearGradient id="b158" gradientUnits="userSpaceOnUse" x1="0" x2="0" y1="73.16" y2="126.94"><stop offset="0" stop-color="#476ee6"/><stop offset="0.048" stop-color="#455ccf"/><stop offset="0.125" stop-color="#4771e9"/><stop offset="0.250" stop-color="#448ffe"/><stop offset="0.375" stop-color="#2eb4f2"/><stop offset="0.500" stop-color="#18e0bd"/><stop offset="0.625" stop-color="#59fb73"/><stop offset="0.750" stop-color="#b9f635"/><stop offset="0.875" stop-color="#f1cb3a"/><stop offset="1.000" stop-color="#fc8423"/></linearGradient><linearGradient id="b159" gradientUnits="userSpaceOnUse" x1="0" x2="0" y1="73.16" y2="126.94"><stop offset="0" stop-color="#476ee6"/><stop offset="0.048" stop-color="#455ed3"/><stop offset="0.125" stop-color="#4773eb"/><stop offset="0.250" stop-color="#448ffe"/><stop offset="0.375" stop-color="#2cb7f0"/><stop offset="0.500" stop-color="#18e0bd"/><stop offset="0.625" stop-color="#5dfc6f"/><stop offset="0.750" stop-color="#bcf534"/><stop offset="0.875" stop-color="#f2c93a"/><stop offset="1.000" stop-color="#fc8423"/></linearGradient><linearGradient id="b160" gradientUnits="userSpaceOnUse" x1="0" x2="0" y1="71.99" y2="126.94"><stop offset="0" stop-color="#476ee6"/><stop offset="0.047" stop-color="#4559cb"/><stop offset="0.125" stop-color="#476ee6"/><stop offset="0.250" stop-color="#448ffe"/><stop offset="0.375" stop-color="#2eb4f2"/><stop offset="0.500" stop-color="#18dec0"/><stop offset="0.625" stop-color="#59fb73"/><stop offset="0.750" stop-color="#b9f635"/><stop offset="0.875" stop-color="#f4c73a"/><stop offset="1.000" stop-color="#fb8122"/></linearGradient><linearGradient id="b161" gradientUnits="userSpaceOnUse" x1="0" x2="0" y1="71.99" y2="126.94"><stop offset="0" stop-color="#476ee6"/><stop offset="0.047" stop-color="#455ccf"/><stop offset="0.125" stop-color="#4771e9"/><stop offset="0.250" stop-color="#448ffe"/><stop offset="0.375" stop-color="#2cb7f0"/><stop offset="0.500" stop-color="#18dec0"/><stop offset="0.625" stop-color="#5dfc6f"/><stop offset="0.750" stop-color="#bcf534"/><stop offset="0.875" stop-color="#f4c73a"/><stop offset="1.000" stop-color="#fb7e21"/></linearGradient><linearGradient id="b162" gradientUnits="userSpaceOnUse" x1="0" x2="0" y1="70.82" y2="125.77"><stop offset="0" stop-color="#476ee6"/><stop offset="0.047" stop-color="#4559cb"/><stop offset="0.125" stop-color="#466be3"/><stop offset="0.250" stop-color="#458cfd"/><stop offset="0.375" stop-color="#31aff5"/><stop offset="0.500" stop-color="#18dbc5"/><stop offset="0.625" stop-color="#4ef97d"/><stop offset="0.750" stop-color="#b1f936"/><stop offset="0.875" stop-color="#eecf3a"/><stop offset="1.000" stop-color="#fd8a26"/></linearGradient><linearGradient id="b163" gradientUnits="userSpaceOnUse" x1="0" x2="0" y1="70.82" y2="125.77"><stop offset="0" stop-color="#476ee6"/><stop offset="0.047" stop-color="#4559cb"/><stop offset="0.125" stop-color="#476ee6"/><stop offset="0.250" stop-color="#448ffe"/><stop offset="0.375" stop-color="#2fb2f4"/><stop offset="0.500" stop-color="#18dbc5"/><stop offset="0.625" stop-color="#52fa7a"/><stop offset="0.750" stop-color="#b4f836"/><stop offset="0.875" stop-color="#efcd3a"/><stop offset="1.000" stop-color="#fc8725"/></linearGradient><linearGradient id="b164" gradientUnits="userSpaceOnUse" x1="0" x2="0" y1="70.82" y2="125.77"><stop offset="0" stop-color="#476ee6"/><stop offset="0.047" stop-color="#455ccf"/><stop offset="0.125" stop-color="#4771e9"/><stop offset="0.250" stop-color="#448ffe"/><stop offset="0.375" stop-color="#2eb4f2"/><stop offset="0.500" stop-color="#18ddc2"/><stop offset="0.625" stop-color="#55fa76"/><stop offset="0.750" stop-color="#b7f735"/><stop offset="0.875" stop-color="#f1cb3a"/><stop offset="1.000" stop-color="#fc8423"/></linearGradient><linearGradient id="b165" gradientUnits="userSpaceOnUse" x1="0" x2="0" y1="70.82" y2="125.77"><stop offset="0" stop-color="#476ee6"/><stop offset="0.047" stop-color="#455ed3"/><stop offset="0.125" stop-color="#4771e9"/><stop offset="0.250" stop-color="#4391fe"/><stop offset="0.375" stop-color="#2eb4f2"/><stop offset="0.500" stop-color="#18dec0"/><stop offset="0.625" stop-color="#55fa76"/><stop offset="0.750" stop-color="#b7f735"/><stop offset="0.875" stop-color="#f2c93a"/><stop offset="1.000" stop-color="#fb8122"/></linearGradient><linearGradient id="b166" gradientUnits="userSpaceOnUse" x1="0" x2="0" y1="69.66" y2="124.60"><stop offset="0" stop-color="#476ee6"/><stop offset="0.047" stop-color="#4559cb"/><stop offset="0.125" stop-color="#476ee6"/><stop offset="0.250" stop-color="#448ffe"/><stop offset="0.375" stop-color="#31aff5"/><stop offset="0.500" stop-color="#18d9c8"/><stop offset="0.625" stop-color="#46f884"/><stop offset="0.750" stop-color="#a9fb39"/><stop offset="0.875" stop-color="#ecd13a"/><stop offset="1.000" stop-color="#fd8d27"/></linearGradient><linearGradient id="b167" gradientUnits="userSpaceOnUse" x1="0" x2="0" y1="69.66" y2="124.60"><stop offset="0" stop-color="#476ee6"/><stop offset="0.047" stop-color="#455ccf"/><stop offset="0.125" stop-color="#476ee6"/><stop offset="0.250" stop-color="#448ffe"/><stop offset="0.375" stop-color="#2fb2f4"/><stop offset="0.500" stop-color="#18dbc5"/><stop offset="0.625" stop-color="#4af880"/><stop offset="0.750" stop-color="#acfb38"/><stop offset="0.875" stop-color="#ecd13a"/><stop offset="1.000" stop-color="#fd8a26"/></linearGradient><linearGradient id="b168" gradientUnits="userSpaceOnUse" x1="0" x2="0" y1="68.49" y2="124.60"><stop offset="0" stop-color="#476ee6"/><stop offset="0.046" stop-color="#4456c7"/><stop offset="0.125" stop-color="#466be3"/><stop offset="0.250" stop-color="#458cfd"/><stop offset="0.375" stop-color="#31aff5"/><stop offset="0.500" stop-color="#18d7ca"/><stop offset="0.625" stop-color="#46f884"/><stop offset="0.750" stop-color="#a9fb39"/><stop offset="0.875" stop-color="#eecf3a"/><stop offset="1.000" stop-color="#fd8a26"/></linearGradient><linearGradient id="b169" gradientUnits="userSpaceOnUse" x1="0" x2="0" y1="68.49" y2="124.60"><stop offset="0" stop-color="#476ee6"/><stop offset="0.046" stop-color="#4559cb"/><stop offset="0.125" stop-color="#476ee6"/><stop offset="0.250" stop-color="#448ffe"/><stop offset="0.375" stop-color="#31aff5"/><stop offset="0.500" stop-color="#18d9c8"/><stop offset="0.625" stop-color="#4af880"/><stop offset="0.750" stop-color="#acfb38"/><stop offset="0.875" stop-color="#eecf3a"/><stop offset="1.000" stop-color="#fc8725"/></linearGradient><linearGradient id="b170" gradientUnits="userSpaceOnUse" x1="0" x2="0" y1="68.49" y2="122.26"><stop offset="0" stop-color="#476ee6"/><stop offset="0.048" stop-color="#455ccf"/><stop offset="0.125" stop-color="#476ee6"/><stop offset="0.250" stop-color="#448ffe"/><stop offset="0.375" stop-color="#33adf7"/><stop offset="0.500" stop-color="#1ad4d0"/><stop offset="0.625" stop-color="#38f491"/><stop offset="0.750" stop-color="#9cfe40"/><stop offset="0.875" stop-color="#e1dd37"/><stop offset="1.000" stop-color="#fe9e2f"/></linearGradient><linearGradient id="b171" gradientUnits="userSpaceOnUse" x1="0" x2="0" y1="68.49" y2="122.26"><stop offset="0" stop-color="#476ee6"/><stop offset="0.048" stop-color="#455ccf"/><stop offset="0.125" stop-color="#476ee6"/><stop offset="0.250" stop-color="#448ffe"/><stop offset="0.375" stop-color="#33adf7"/><stop offset="0.500" stop-color="#19d5cd"/><stop offset="0.625" stop-color="#38f491"/><stop offset="0.750" stop-color="#9cfe40"/><stop offset="0.875" stop-color="#e3db38"/><stop offset="1.000" stop-color="#fe9e2f"/></linearGradient><linearGradient id="b172" gradientUnits="userSpaceOnUse" x1="0" x2="0" y1="67.32" y2="121.09"><stop offset="0" stop-color="#476ee6"/><stop offset="0.048" stop-color="#4559cb"/><stop offset="0.125" stop-color="#466be3"/><stop offset="0.250" stop-color="#458cfd"/><stop offset="0.375" stop-color="#37a8fa"/><stop offset="0.500" stop-color="#1bd0d5"/><stop offset="0.625" stop-color="#2ff19b"/><stop offset="0.750" stop-color="#8fff49"/><stop offset="0.875" stop-color="#dbe236"/><stop offset="1.000" stop-color="#fea933"/></linearGradient><linearGradient id="b173" gradientUnits="userSpaceOnUse" x1="0" x2="0" y1="67.32" y2="121.09"><stop offset="0" stop-color="#476ee6"/><stop offset="0.048" stop-color="#4559cb"/><stop offset="0.125" stop-color="#476ee6"/><stop offset="0.250" stop-color="#458cfd"/><stop offset="0.375" stop-color="#35abf8"/><stop offset="0.500" stop-color="#1ad2d2"/><stop offset="0.625" stop-color="#2ff19b"/><stop offset="0.750" stop-color="#92ff47"/><stop offset="0.875" stop-color="#dde037"/><stop offset="1.000" stop-color="#fea732"/></linearGradient><linearGradient id="b174" gradientUnits="userSpaceOnUse" x1="0" x2="0" y1="67.32" y2="119.92"><stop offset="0" stop-color="#476ee6"/><stop offset="0.049" stop-color="#455ccf"/><stop offset="0.125" stop-color="#476ee6"/><stop offset="0.250" stop-color="#458cfd"/><stop offset="0.375" stop-color="#35abf8"/><stop offset="0.500" stop-color="#1bd0d5"/><stop offset="0.625" stop-color="#2aefa1"/><stop offset="0.750" stop-color="#88ff4e"/><stop offset="0.875" stop-color="#d4e735"/><stop offset="1.000" stop-color="#fcb136"/></linearGradient><linearGradient id="b175" gradientUnits="userSpaceOnUse" x1="0" x2="0" y1="67.32" y2="119.92"><stop offset="0" stop-color="#476ee6"/><stop offset="0.049" stop-color="#455ccf"/><stop offset="0.125" stop-color="#4771e9"/><stop offset="0.250" stop-color="#448ffe"/><stop offset="0.375" stop-color="#35abf8"/><stop offset="0.500" stop-color="#1bd0d5"/><stop offset="0.625" stop-color="#2cf09e"/><stop offset="0.750" stop-color="#8bff4b"/><stop offset="0.875" stop-color="#d7e535"/><stop offset="1.000" stop-color="#fdae35"/></linearGradient><linearGradient id="b176" gradientUnits="userSpaceOnUse" x1="0" x2="0" y1="66.15" y2="117.58"><stop offset="0" stop-color="#476ee6"/><stop offset="0.051" stop-color="#4559cb"/><stop offset="0.125" stop-color="#466be3"/><stop offset="0.250" stop-color="#458afc"/><stop offset="0.375" stop-color="#38a5fb"/><stop offset="0.500" stop-color="#1fc9dd"/><stop offset="0.625" stop-color="#1fe9af"/><stop offset="0.750" stop-color="#6dfe62"/><stop offset="0.875" stop-color="#c1f334"/><stop offset="1.000" stop-color="#f6c33a"/></linearGradient><linearGradient id="b177" gradientUnits="userSpaceOnUse" x1="0" x2="0" y1="66.15" y2="117.58"><stop offset="0" stop-color="#476ee6"/><stop offset="0.051" stop-color="#455ccf"/><stop offset="0.125" stop-color="#476ee6"/><stop offset="0.250" stop-color="#458afc"/><stop offset="0.375" stop-color="#37a8fa"/><stop offset="0.500" stop-color="#1fc9dd"/><stop offset="0.625" stop-color="#20eaac"/><stop offset="0.750" stop-color="#71fe5f"/><stop offset="0.875" stop-color="#c3f134"/><stop offset="1.000" stop-color="#f6c33a"/></linearGradient><linearGradient id="b178" gradientUnits="userSpaceOnUse" x1="0" x2="0" y1="64.98" y2="116.42"><stop offset="0" stop-color="#476ee6"/><stop offset="0.051" stop-color="#4456c7"/><stop offset="0.125" stop-color="#4669e0"/><stop offset="0.250" stop-color="#4685fa"/><stop offset="0.375" stop-color="#3aa3fc"/><stop offset="0.500" stop-color="#22c5e2"/><stop offset="0.625" stop-color="#1ce6b4"/><stop offset="0.750" stop-color="#61fc6c"/><stop offset="0.875" stop-color="#b7f735"/><stop offset="1.000" stop-color="#f2c93a"/></linearGradient><linearGradient id="b179" gradientUnits="userSpaceOnUse" x1="0" x2="0" y1="64.98" y2="116.42"><stop offset="0" stop-color="#476ee6"/><stop offset="0.051" stop-color="#4559cb"/><stop offset="0.125" stop-color="#466be3"/><stop offset="0.250" stop-color="#4687fb"/><stop offset="0.375" stop-color="#38a5fb"/><stop offset="0.500" stop-color="#20c7df"/><stop offset="0.625" stop-color="#1ce6b4"/><stop offset="0.750" stop-color="#65fd69"/><stop offset="0.875" stop-color="#b9f635"/><stop offset="1.000" stop-color="#f2c93a"/></linearGradient><linearGradient id="b180" gradientUnits="userSpaceOnUse" x1="0" x2="0" y1="64.98" y2="115.25"><stop offset="0" stop-color="#476ee6"/><stop offset="0.052" stop-color="#4559cb"/><stop offset="0.125" stop-color="#466be3"/><stop offset="0.250" stop-color="#4687fb"/><stop offset="0.375" stop-color="#38a5fb"/><stop offset="0.500" stop-color="#22c5e2"/><stop offset="0.625" stop-color="#1ae4b6"/><stop offset="0.750" stop-color="#59fb73"/><stop offset="0.875" stop-color="#affa37"/><stop offset="1.000" stop-color="#eecf3a"/></linearGradient><linearGradient id="b181" gradientUnits="userSpaceOnUse" x1="0" x2="0" y1="64.98" y2="115.25"><stop offset="0" stop-color="#476ee6"/><stop offset="0.052" stop-color="#455ccf"/><stop offset="0.125" stop-color="#476ee6"/><stop offset="0.250" stop-color="#458afc"/><stop offset="0.375" stop-color="#38a5fb"/><stop offset="0.500" stop-color="#22c5e2"/><stop offset="0.625" stop-color="#1ae4b6"/><stop offset="0.750" stop-color="#5dfc6f"/><stop offset="0.875" stop-color="#b1f936"/><stop offset="1.000" stop-color="#eecf3a"/></linearGradient><linearGradient id="b182" gradientUnits="userSpaceOnUse" x1="0" x2="0" y1="63.81" y2="115.25"><stop offset="0" stop-color="#476ee6"/><stop offset="0.051" stop-color="#4456c7"/><stop offset="0.125" stop-color="#4669e0"/><stop offset="0.250" stop-color="#4687fb"/><stop offset="0.375" stop-color="#38a5fb"/><stop offset="0.500" stop-color="#23c3e4"/><stop offset="0.625" stop-color="#1ae4b6"/><stop offset="0.750" stop-color="#59fb73"/><stop offset="0.875" stop-color="#b1f936"/><stop offset="1.000" stop-color="#efcd3a"/></linearGradient><linearGradient id="b183" gradientUnits="userSpaceOnUse" x1="0" x2="0" y1="63.81" y2="115.25"><stop offset="0" stop-color="#476ee6"/><stop offset="0.051" stop-color="#4559cb"/><stop offset="0.125" stop-color="#466be3"/><stop offset="0.250" stop-color="#4687fb"/><stop offset="0.375" stop-color="#38a5fb"/><stop offset="0.500" stop-color="#22c5e2"/><stop offset="0.625" stop-color="#1ae4b6"/><stop offset="0.750" stop-color="#5dfc6f"/><stop offset="0.875" stop-color="#b4f836"/><stop offset="1.000" stop-color="#f1cb3a"/></linearGradient><linearGradient id="b184" gradientUnits="userSpaceOnUse" x1="0" x2="0" y1="62.64" y2="114.08"><stop offset="0" stop-color="#476ee6"/><stop offset="0.051" stop-color="#4454c3"/><stop offset="0.125" stop-color="#4666dd"/><stop offset="0.250" stop-color="#4682f8"/><stop offset="0.375" stop-color="#3aa3fc"/><stop offset="0.500" stop-color="#25c0e7"/><stop offset="0.625" stop-color="#18e0bd"/><stop offset="0.750" stop-color="#4ef97d"/><stop offset="0.875" stop-color="#a9fb39"/><stop offset="1.000" stop-color="#ebd339"/></linearGradient><linearGradient id="b185" gradientUnits="userSpaceOnUse" x1="0" x2="0" y1="62.64" y2="114.08"><stop offset="0" stop-color="#476ee6"/><stop offset="0.051" stop-color="#4456c7"/><stop offset="0.125" stop-color="#4669e0"/><stop offset="0.250" stop-color="#4685fa"/><stop offset="0.375" stop-color="#38a5fb"/><stop offset="0.500" stop-color="#25c0e7"/><stop offset="0.625" stop-color="#19e2bb"/><stop offset="0.750" stop-color="#4ef97d"/><stop offset="0.875" stop-color="#a9fb39"/><stop offset="1.000" stop-color="#ebd339"/></linearGradient><linearGradient id="b186" gradientUnits="userSpaceOnUse" x1="0" x2="0" y1="61.47" y2="112.91"><stop offset="0" stop-color="#476ee6"/><stop offset="0.051" stop-color="#4454c3"/><stop offset="0.125" stop-color="#4664da"/><stop offset="0.250" stop-color="#4682f8"/><stop offset="0.375" stop-color="#3ba0fd"/><stop offset="0.500" stop-color="#28bceb"/><stop offset="0.625" stop-color="#18ddc2"/><stop offset="0.750" stop-color="#3ff68a"/><stop offset="0.875" stop-color="#9ffd3f"/><stop offset="1.000" stop-color="#e3db38"/></linearGradient><linearGradient id="b187" gradientUnits="userSpaceOnUse" x1="0" x2="0" y1="61.47" y2="112.91"><stop offset="0" stop-color="#476ee6"/><stop offset="0.051" stop-color="#4454c3"/><stop offset="0.125" stop-color="#4666dd"/><stop offset="0.250" stop-color="#4682f8"/><stop offset="0.375" stop-color="#3ba0fd"/><stop offset="0.500" stop-color="#27bee9"/><stop offset="0.625" stop-color="#18dec0"/><stop offset="0.750" stop-color="#43f787"/><stop offset="0.875" stop-color="#a1fd3d"/><stop offset="1.000" stop-color="#e5d938"/></linearGradient><linearGradient id="b188" gradientUnits="userSpaceOnUse" x1="0" x2="0" y1="61.47" y2="112.91"><stop offset="0" stop-color="#476ee6"/><stop offset="0.051" stop-color="#4456c7"/><stop offset="0.125" stop-color="#4666dd"/><stop offset="0.250" stop-color="#4685fa"/><stop offset="0.375" stop-color="#3aa3fc"/><stop offset="0.500" stop-color="#27bee9"/><stop offset="0.625" stop-color="#18e0bd"/><stop offset="0.750" stop-color="#43f787"/><stop offset="0.875" stop-color="#a4fc3c"/><stop offset="1.000" stop-color="#e7d739"/></linearGradient><linearGradient id="b189" gradientUnits="userSpaceOnUse" x1="0" x2="0" y1="61.47" y2="112.91"><stop offset="0" stop-color="#476ee6"/><stop offset="0.051" stop-color="#4456c7"/><stop offset="0.125" stop-color="#4669e0"/><stop offset="0.250" stop-color="#4685fa"/><stop offset="0.375" stop-color="#38a5fb"/><stop offset="0.500" stop-color="#25c0e7"/><stop offset="0.625" stop-color="#18e0bd"/><stop offset="0.750" stop-color="#46f884"/><stop offset="0.875" stop-color="#a4fc3c"/><stop offset="1.000" stop-color="#e7d739"/></linearGradient><linearGradient id="b190" gradientUnits="userSpaceOnUse" x1="0" x2="0" y1="60.30" y2="111.74"><stop offset="0" stop-color="#476ee6"/><stop offset="0.051" stop-color="#4454c3"/><stop offset="0.125" stop-color="#4664da"/><stop offset="0.250" stop-color="#4682f8"/><stop offset="0.375" stop-color="#3ba0fd"/><stop offset="0.500" stop-color="#28bceb"/><stop offset="0.625" stop-color="#18ddc2"/><stop offset="0.750" stop-color="#38f491"/><stop offset="0.875" stop-color="#99fe42"/><stop offset="1.000" stop-color="#dfdf37"/></linearGradient><linearGradient id="b191" gradientUnits="userSpaceOnUse" x1="0" x2="0" y1="60.30" y2="111.74"><stop offset="0" stop-color="#476ee6"/><stop offset="0.051" stop-color="#4456c7"/><stop offset="0.125" stop-color="#4666dd"/><stop offset="0.250" stop-color="#4685fa"/><stop offset="0.375" stop-color="#3ba0fd"/><stop offset="0.500" stop-color="#27bee9"/><stop offset="0.625" stop-color="#18ddc2"/><stop offset="0.750" stop-color="#38f491"/><stop offset="0.875" stop-color="#9cfe40"/><stop offset="1.000" stop-color="#dfdf37"/></linearGradient><linearGradient id="b192" gradientUnits="userSpaceOnUse" x1="0" x2="0" y1="59.13" y2="110.57"><stop offset="0" stop-color="#476ee6"/><stop offset="0.051" stop-color="#4454c3"/><stop offset="0.125" stop-color="#4661d6"/><stop offset="0.250" stop-color="#4680f6"/><stop offset="0.375" stop-color="#3d9efe"/><stop offset="0.500" stop-color="#28bceb"/><stop offset="0.625" stop-color="#18d9c8"/><stop offset="0.750" stop-color="#32f298"/><stop offset="0.875" stop-color="#8fff49"/><stop offset="1.000" stop-color="#d4e735"/></linearGradient><linearGradient id="b193" gradientUnits="userSpaceOnUse" x1="0" x2="0" y1="59.13" y2="110.57"><stop offset="0" stop-color="#476ee6"/><stop offset="0.051" stop-color="#4454c3"/><stop offset="0.125" stop-color="#4664da"/><stop offset="0.250" stop-color="#4682f8"/><stop offset="0.375" stop-color="#3d9efe"/><stop offset="0.500" stop-color="#28bceb"/><stop offset="0.625" stop-color="#18d9c8"/><stop offset="0.750" stop-color="#35f394"/><stop offset="0.875" stop-color="#8fff49"/><stop offset="1.000" stop-color="#d7e535"/></linearGradient><linearGradient id="b194" gradientUnits="userSpaceOnUse" x1="0" x2="0" y1="57.97" y2="110.57"><stop offset="0" stop-color="#476ee6"/><stop offset="0.049" stop-color="#4451bf"/><stop offset="0.125" stop-color="#4661d6"/><stop offset="0.250" stop-color="#4680f6"/><stop offset="0.375" stop-color="#3e9bfe"/><stop offset="0.500" stop-color="#28bceb"/><stop offset="0.625" stop-color="#18d9c8"/><stop offset="0.750" stop-color="#32f298"/><stop offset="0.875" stop-color="#8fff49"/><stop offset="1.000" stop-color="#d7e535"/></linearGradient><linearGradient id="b195" gradientUnits="userSpaceOnUse" x1="0" x2="0" y1="57.97" y2="110.57"><stop offset="0" stop-color="#476ee6"/><stop offset="0.049" stop-color="#4454c3"/><stop offset="0.125" stop-color="#4661d6"/><stop offset="0.250" stop-color="#4680f6"/><stop offset="0.375" stop-color="#3d9efe"/><stop offset="0.500" stop-color="#28bceb"/><stop offset="0.625" stop-color="#18d9c8"/><stop offset="0.750" stop-color="#35f394"/><stop offset="0.875" stop-color="#92ff47"/><stop offset="1.000" stop-color="#d9e436"/></linearGradient><linearGradient id="b196" gradientUnits="userSpaceOnUse" x1="0" x2="0" y1="57.97" y2="109.40"><stop offset="0" stop-color="#476ee6"/><stop offset="0.051" stop-color="#4454c3"/><stop offset="0.125" stop-color="#4664da"/><stop offset="0.250" stop-color="#4680f6"/><stop offset="0.375" stop-color="#3e9bfe"/><stop offset="0.500" stop-color="#28bceb"/><stop offset="0.625" stop-color="#18d7ca"/><stop offset="0.750" stop-color="#2ff19b"/><stop offset="0.875" stop-color="#84ff51"/><stop offset="1.000" stop-color="#d0ea34"/></linearGradient><linearGradient id="b197" gradientUnits="userSpaceOnUse" x1="0" x2="0" y1="57.97" y2="109.40"><stop offset="0" stop-color="#476ee6"/><stop offset="0.051" stop-color="#4456c7"/><stop offset="0.125" stop-color="#4664da"/><stop offset="0.250" stop-color="#4682f8"/><stop offset="0.375" stop-color="#3d9efe"/><stop offset="0.500" stop-color="#28bceb"/><stop offset="0.625" stop-color="#18d9c8"/><stop offset="0.750" stop-color="#2ff19b"/><stop offset="0.875" stop-color="#88ff4e"/><stop offset="1.000" stop-color="#d0ea34"/></linearGradient><linearGradient id="b198" gradientUnits="userSpaceOnUse" x1="0" x2="0" y1="56.80" y2="108.23"><stop offset="0" stop-color="#476ee6"/><stop offset="0.051" stop-color="#4451bf"/><stop offset="0.125" stop-color="#4661d6"/><stop offset="0.250" stop-color="#467df4"/><stop offset="0.375" stop-color="#4099ff"/><stop offset="0.500" stop-color="#2ab9ee"/><stop offset="0.625" stop-color="#1ad4d0"/><stop offset="0.750" stop-color="#27eea4"/><stop offset="0.875" stop-color="#79fe59"/><stop offset="1.000" stop-color="#c6f034"/></linearGradient><linearGradient id="b199" gradientUnits="userSpaceOnUse" x1="0" x2="0" y1="56.80" y2="108.23"><stop offset="0" stop-color="#476ee6"/><stop offset="0.051" stop-color="#4454c3"/><stop offset="0.125" stop-color="#4664da"/><stop offset="0.250" stop-color="#4680f6"/><stop offset="0.375" stop-color="#3e9bfe"/><stop offset="0.500" stop-color="#2ab9ee"/><stop offset="0.625" stop-color="#19d5cd"/><stop offset="0.750" stop-color="#2aefa1"/><stop offset="0.875" stop-color="#79fe59"/><stop offset="1.000" stop-color="#c8ef34"/></linearGradient><linearGradient id="tb" x1="0" x2="1" y1="0" y2="0"><stop offset="0.0000" stop-color="#30123b"/><stop offset="0.0625" stop-color="#4040a2"/><stop offset="0.1250" stop-color="#466be3"/><stop offset="0.1875" stop-color="#4294ff"/><stop offset="0.2500" stop-color="#28bceb"/><stop offset="0.3125" stop-color="#18ddc2"/><stop offset="0.3750" stop-color="#32f298"/><stop offset="0.4375" stop-color="#6dfe62"/><stop offset="0.5000" stop-color="#a4fc3c"/><stop offset="0.5625" stop-color="#cdec34"/><stop offset="0.6250" stop-color="#eecf3a"/><stop offset="0.6875" stop-color="#fdac34"/><stop offset="0.7500" stop-color="#fb7e21"/><stop offset="0.8125" stop-color="#eb500e"/><stop offset="0.8750" stop-color="#d02f05"/><stop offset="0.9375" stop-color="#a91601"/><stop offset="1.0000" stop-color="#7a0403"/></linearGradient></defs>
<rect width="550" height="426" fill="#fff"/>
<g shape-rendering="crispEdges">
<rect x="29.5" y="37.2" width="188.0" height="159.0" fill="#30123b"/>
<rect x="209.98" y="62.19" width="7.82" height="2.57" fill="#4685fa"/>
<rect x="194.94" y="64.46" width="22.86" height="2.57" fill="#4685fa"/>
<rect x="178.02" y="66.73" width="34.14" height="2.57" fill="#4685fa"/>
<rect x="211.86" y="66.73" width="5.94" height="2.57" fill="#1ae4b6"/>
<rect x="174.26" y="69.00" width="34.14" height="2.57" fill="#4685fa"/>
<rect x="208.10" y="69.00" width="9.70" height="2.57" fill="#1ae4b6"/>
<rect x="161.10" y="71.27" width="4.06" height="2.57" fill="#4685fa"/>
<rect x="168.62" y="71.27" width="34.14" height="2.57" fill="#4685fa"/>
<rect x="202.46" y="71.27" width="15.34" height="2.57" fill="#1ae4b6"/>
<rect x="157.34" y="73.54" width="39.78" height="2.57" fill="#4685fa"/>
<rect x="196.82" y="73.54" width="20.98" height="2.57" fill="#1ae4b6"/>
<rect x="153.58" y="75.81" width="36.02" height="2.57" fill="#4685fa"/>
<rect x="189.30" y="75.81" width="28.50" height="2.57" fill="#1ae4b6"/>
<rect x="149.82" y="78.09" width="36.02" height="2.57" fill="#4685fa"/>
<rect x="185.54" y="78.09" width="32.26" height="2.57" fill="#1ae4b6"/>
<rect x="147.94" y="80.36" width="32.26" height="2.57" fill="#4685fa"/>
<rect x="179.90" y="80.36" width="37.90" height="2.57" fill="#1ae4b6"/>
<rect x="144.18" y="82.63" width="32.26" height="2.57" fill="#4685fa"/>
<rect x="176.14" y="82.63" width="41.66" height="2.57" fill="#1ae4b6"/>
<rect x="140.42" y="84.90" width="32.26" height="2.57" fill="#4685fa"/>
<rect x="172.38" y="84.90" width="45.42" height="2.57" fill="#1ae4b6"/>
<rect x="136.66" y="87.17" width="32.26" height="2.57" fill="#4685fa"/>
<rect x="168.62" y="87.17" width="49.18" height="2.57" fill="#1ae4b6"/>
<rect x="132.90" y="89.44" width="30.38" height="2.57" fill="#4685fa"/>
<rect x="162.98" y="89.44" width="54.82" height="2.57" fill="#1ae4b6"/>
<rect x="129.14" y="91.71" width="30.38" height="2.57" fill="#4685fa"/>
<rect x="159.22" y="91.71" width="58.58" height="2.57" fill="#1ae4b6"/>
<rect x="127.26" y="93.99" width="28.50" height="2.57" fill="#4685fa"/>
<rect x="155.46" y="93.99" width="62.34" height="2.57" fill="#1ae4b6"/>
<rect x="123.50" y="96.26" width="28.50" height="2.57" fill="#4685fa"/>
<rect x="151.70" y="96.26" width="66.10" height="2.57" fill="#1ae4b6"/>
<rect x="117.86" y="98.53" width="28.50" height="2.57" fill="#4685fa"/>
<rect x="146.06" y="98.53" width="71.74" height="2.57" fill="#1ae4b6"/>
<rect x="115.98" y="100.80" width="26.62" height="2.57" fill="#4685fa"/>
<rect x="142.30" y="100.80" width="75.50" height="2.57" fill="#1ae4b6"/>
<rect x="114.10" y="103.07" width="24.74" height="2.57" fill="#4685fa"/>
<rect x="138.54" y="103.07" width="79.26" height="2.57" fill="#1ae4b6"/>
<rect x="110.34" y="105.34" width="24.74" height="2.57" fill="#4685fa"/>
<rect x="134.78" y="105.34" width="83.02" height="2.57" fill="#1ae4b6"/>
<rect x="108.46" y="107.61" width="20.98" height="2.57" fill="#4685fa"/>
<rect x="129.14" y="107.61" width="88.66" height="2.57" fill="#1ae4b6"/>
<rect x="104.70" y="109.89" width="20.98" height="2.57" fill="#4685fa"/>
<rect x="125.38" y="109.89" width="92.42" height="2.57" fill="#1ae4b6"/>
<rect x="102.82" y="112.16" width="17.22" height="2.57" fill="#4685fa"/>
<rect x="119.74" y="112.16" width="98.06" height="2.57" fill="#1ae4b6"/>
<rect x="100.94" y="114.43" width="15.34" height="2.57" fill="#4685fa"/>
<rect x="115.98" y="114.43" width="101.82" height="2.57" fill="#1ae4b6"/>
<rect x="99.06" y="116.70" width="13.46" height="2.57" fill="#4685fa"/>
<rect x="112.22" y="116.70" width="103.70" height="2.57" fill="#1ae4b6"/>
<rect x="215.62" y="116.70" width="2.18" height="2.57" fill="#a4fc3c"/>
<rect x="95.30" y="118.97" width="15.34" height="2.57" fill="#4685fa"/>
<rect x="110.34" y="118.97" width="99.94" height="2.57" fill="#1ae4b6"/>
<rect x="209.98" y="118.97" width="7.82" height="2.57" fill="#a4fc3c"/>
<rect x="93.42" y="121.24" width="15.34" height="2.57" fill="#4685fa"/>
<rect x="108.46" y="121.24" width="96.18" height="2.57" fill="#1ae4b6"/>
<rect x="204.34" y="121.24" width="13.46" height="2.57" fill="#a4fc3c"/>
<rect x="91.54" y="123.51" width="15.34" height="2.57" fill="#4685fa"/>
<rect x="106.58" y="123.51" width="94.30" height="2.57" fill="#1ae4b6"/>
<rect x="200.58" y="123.51" width="17.22" height="2.57" fill="#a4fc3c"/>
<rect x="89.66" y="125.79" width="15.34" height="2.57" fill="#4685fa"/>
<rect x="104.70" y="125.79" width="88.66" height="2.57" fill="#1ae4b6"/>
<rect x="193.06" y="125.79" width="24.74" height="2.57" fill="#a4fc3c"/>
<rect x="85.90" y="128.06" width="17.22" height="2.57" fill="#4685fa"/>
<rect x="102.82" y="128.06" width="83.02" height="2.57" fill="#1ae4b6"/>
<rect x="185.54" y="128.06" width="32.26" height="2.57" fill="#a4fc3c"/>
<rect x="84.02" y="130.33" width="15.34" height="2.57" fill="#4685fa"/>
<rect x="99.06" y="130.33" width="79.26" height="2.57" fill="#1ae4b6"/>
<rect x="178.02" y="130.33" width="39.78" height="2.57" fill="#a4fc3c"/>
<rect x="82.14" y="132.60" width="13.46" height="2.57" fill="#4685fa"/>
<rect x="95.30" y="132.60" width="77.38" height="2.57" fill="#1ae4b6"/>
<rect x="172.38" y="132.60" width="45.42" height="2.57" fill="#a4fc3c"/>
<rect x="80.26" y="134.87" width="11.58" height="2.57" fill="#4685fa"/>
<rect x="91.54" y="134.87" width="75.50" height="2.57" fill="#1ae4b6"/>
<rect x="166.74" y="134.87" width="51.06" height="2.57" fill="#a4fc3c"/>
<rect x="29.50" y="137.14" width="39.78" height="2.57" fill="#4685fa"/>
<rect x="78.38" y="137.14" width="9.70" height="2.57" fill="#4685fa"/>
<rect x="87.78" y="137.14" width="71.74" height="2.57" fill="#1ae4b6"/>
<rect x="159.22" y="137.14" width="58.58" height="2.57" fill="#a4fc3c"/>
<rect x="29.50" y="139.41" width="39.78" height="2.57" fill="#4685fa"/>
<rect x="76.50" y="139.41" width="7.82" height="2.57" fill="#4685fa"/>
<rect x="84.02" y="139.41" width="69.86" height="2.57" fill="#1ae4b6"/>
<rect x="153.58" y="139.41" width="64.22" height="2.57" fill="#a4fc3c"/>
<rect x="29.50" y="141.69" width="37.90" height="2.57" fill="#4685fa"/>
<rect x="74.62" y="141.69" width="7.82" height="2.57" fill="#4685fa"/>
<rect x="82.14" y="141.69" width="66.10" height="2.57" fill="#1ae4b6"/>
<rect x="147.94" y="141.69" width="69.86" height="2.57" fill="#a4fc3c"/>
<rect x="29.50" y="143.96" width="37.90" height="2.57" fill="#4685fa"/>
<rect x="72.74" y="143.96" width="5.94" height="2.57" fill="#4685fa"/>
<rect x="78.38" y="143.96" width="64.22" height="2.57" fill="#1ae4b6"/>
<rect x="142.30" y="143.96" width="75.50" height="2.57" fill="#a4fc3c"/>
<rect x="29.50" y="146.23" width="37.90" height="2.57" fill="#4685fa"/>
<rect x="70.86" y="146.23" width="5.94" height="2.57" fill="#4685fa"/>
<rect x="76.50" y="146.23" width="58.58" height="2.57" fill="#1ae4b6"/>
<rect x="134.78" y="146.23" width="83.02" height="2.57" fill="#a4fc3c"/>
<rect x="53.94" y="148.50" width="7.82" height="2.57" fill="#4685fa"/>
<rect x="68.98" y="148.50" width="5.94" height="2.57" fill="#4685fa"/>
<rect x="74.62" y="148.50" width="52.94" height="2.57" fill="#1ae4b6"/>
<rect x="127.26" y="148.50" width="90.54" height="2.57" fill="#a4fc3c"/>
<rect x="67.10" y="150.77" width="5.94" height="2.57" fill="#4685fa"/>
<rect x="72.74" y="150.77" width="49.18" height="2.57" fill="#1ae4b6"/>
<rect x="121.62" y="150.77" width="96.18" height="2.57" fill="#a4fc3c"/>
<rect x="65.22" y="153.04" width="5.94" height="2.57" fill="#4685fa"/>
<rect x="70.86" y="153.04" width="43.54" height="2.57" fill="#1ae4b6"/>
<rect x="114.10" y="153.04" width="103.70" height="2.57" fill="#a4fc3c"/>
<rect x="63.34" y="155.31" width="5.94" height="2.57" fill="#4685fa"/>
<rect x="68.98" y="155.31" width="37.90" height="2.57" fill="#1ae4b6"/>
<rect x="106.58" y="155.31" width="111.22" height="2.57" fill="#a4fc3c"/>
<rect x="61.46" y="157.59" width="5.94" height="2.57" fill="#4685fa"/>
<rect x="67.10" y="157.59" width="34.14" height="2.57" fill="#1ae4b6"/>
<rect x="100.94" y="157.59" width="116.86" height="2.57" fill="#a4fc3c"/>
<rect x="59.58" y="159.86" width="4.06" height="2.57" fill="#4685fa"/>
<rect x="63.34" y="159.86" width="32.26" height="2.57" fill="#1ae4b6"/>
<rect x="95.30" y="159.86" width="122.50" height="2.57" fill="#a4fc3c"/>
<rect x="57.70" y="162.13" width="4.06" height="2.57" fill="#4685fa"/>
<rect x="61.46" y="162.13" width="30.38" height="2.57" fill="#1ae4b6"/>
<rect x="91.54" y="162.13" width="126.26" height="2.57" fill="#a4fc3c"/>
<rect x="57.70" y="164.40" width="2.18" height="2.57" fill="#4685fa"/>
<rect x="59.58" y="164.40" width="26.62" height="2.57" fill="#1ae4b6"/>
<rect x="85.90" y="164.40" width="131.90" height="2.57" fill="#a4fc3c"/>
<rect x="55.82" y="166.67" width="2.18" height="2.57" fill="#4685fa"/>
<rect x="57.70" y="166.67" width="20.98" height="2.57" fill="#1ae4b6"/>
<rect x="78.38" y="166.67" width="139.42" height="2.57" fill="#a4fc3c"/>
<rect x="52.06" y="168.94" width="2.18" height="2.57" fill="#4685fa"/>
<rect x="53.94" y="168.94" width="19.10" height="2.57" fill="#1ae4b6"/>
<rect x="72.74" y="168.94" width="145.06" height="2.57" fill="#a4fc3c"/>
<rect x="50.18" y="171.21" width="2.18" height="2.57" fill="#4685fa"/>
<rect x="52.06" y="171.21" width="13.46" height="2.57" fill="#1ae4b6"/>
<rect x="65.22" y="171.21" width="152.58" height="2.57" fill="#a4fc3c"/>
<rect x="48.30" y="173.49" width="2.18" height="2.57" fill="#4685fa"/>
<rect x="50.18" y="173.49" width="9.70" height="2.57" fill="#1ae4b6"/>
<rect x="59.58" y="173.49" width="158.22" height="2.57" fill="#a4fc3c"/>
<rect x="46.42" y="175.76" width="2.18" height="2.57" fill="#4685fa"/>
<rect x="48.30" y="175.76" width="5.94" height="2.57" fill="#1ae4b6"/>
<rect x="53.94" y="175.76" width="163.86" height="2.57" fill="#a4fc3c"/>
<rect x="44.54" y="178.03" width="5.94" height="2.57" fill="#1ae4b6"/>
<rect x="50.18" y="178.03" width="167.62" height="2.57" fill="#a4fc3c"/>
<rect x="42.66" y="180.30" width="4.06" height="2.57" fill="#1ae4b6"/>
<rect x="46.42" y="180.30" width="171.38" height="2.57" fill="#a4fc3c"/>
<rect x="38.90" y="182.57" width="4.06" height="2.57" fill="#1ae4b6"/>
<rect x="42.66" y="182.57" width="175.14" height="2.57" fill="#a4fc3c"/>
<rect x="37.02" y="184.84" width="4.06" height="2.57" fill="#1ae4b6"/>
<rect x="40.78" y="184.84" width="177.02" height="2.57" fill="#a4fc3c"/>
<rect x="35.14" y="187.11" width="2.18" height="2.57" fill="#1ae4b6"/>
<rect x="37.02" y="187.11" width="180.78" height="2.57" fill="#a4fc3c"/>
<rect x="33.26" y="189.39" width="2.18" height="2.57" fill="#1ae4b6"/>
<rect x="35.14" y="189.39" width="182.66" height="2.57" fill="#a4fc3c"/>
<rect x="33.26" y="191.66" width="184.54" height="2.57" fill="#a4fc3c"/>
<rect x="33.26" y="193.93" width="184.54" height="2.57" fill="#a4fc3c"/>
<rect x="52.06" y="186.85" width="2.18" height="1.1" fill="#1ae4b6"/>
<rect x="53.94" y="186.85" width="2.18" height="1.1" fill="#1ae4b6"/>
<rect x="55.82" y="186.85" width="2.18" height="1.1" fill="#1ae4b6"/>
<rect x="57.70" y="186.85" width="2.18" height="1.1" fill="#1ae4b6"/>
<rect x="59.58" y="186.85" width="2.18" height="1.1" fill="#1ae4b6"/>
<rect x="61.46" y="186.85" width="2.18" height="1.1" fill="#1ae4b6"/>
<rect x="63.34" y="187.00" width="2.18" height="0.80" fill="#30123b"/>
<rect x="65.22" y="186.50" width="2.18" height="1.00" fill="#30123b"/>
<rect x="67.10" y="186.00" width="2.18" height="1.50" fill="#30123b"/>
<rect x="68.98" y="186.00" width="2.18" height="1.50" fill="#30123b"/>
<rect x="70.86" y="185.50" width="2.18" height="2.00" fill="#30123b"/>
<rect x="72.74" y="185.00" width="2.18" height="2.00" fill="#30123b"/>
<rect x="74.62" y="185.00" width="2.18" height="2.00" fill="#30123b"/>
<rect x="76.50" y="184.50" width="2.18" height="2.00" fill="#30123b"/>
<rect x="78.38" y="184.00" width="2.18" height="2.50" fill="#30123b"/>
<rect x="80.26" y="184.00" width="2.18" height="2.50" fill="#30123b"/>
<rect x="82.14" y="183.50" width="2.18" height="2.50" fill="#30123b"/>
<rect x="84.02" y="183.00" width="2.18" height="3.00" fill="#30123b"/>
<rect x="85.90" y="183.00" width="2.18" height="2.50" fill="#30123b"/>
<rect x="87.78" y="183.00" width="2.18" height="2.50" fill="#30123b"/>
<rect x="89.66" y="182.50" width="2.18" height="3.00" fill="#30123b"/>
<rect x="91.54" y="182.50" width="2.18" height="2.50" fill="#30123b"/>
<rect x="93.42" y="182.00" width="2.18" height="3.00" fill="#30123b"/>
<rect x="95.30" y="182.00" width="2.18" height="2.50" fill="#30123b"/>
<rect x="97.18" y="181.50" width="2.18" height="3.00" fill="#30123b"/>
<rect x="99.06" y="181.50" width="2.18" height="3.00" fill="#30123b"/>
<rect x="100.94" y="181.00" width="2.18" height="3.00" fill="#30123b"/>
<rect x="102.82" y="181.00" width="2.18" height="3.00" fill="#30123b"/>
<rect x="104.70" y="180.50" width="2.18" height="3.50" fill="#30123b"/>
<rect x="106.58" y="180.50" width="2.18" height="3.00" fill="#30123b"/>
<rect x="108.46" y="180.00" width="2.18" height="3.50" fill="#30123b"/>
<rect x="110.34" y="180.00" width="2.18" height="3.00" fill="#30123b"/>
<rect x="112.22" y="179.50" width="2.18" height="3.50" fill="#30123b"/>
<rect x="114.10" y="179.50" width="2.18" height="3.50" fill="#30123b"/>
<rect x="115.98" y="179.50" width="2.18" height="3.00" fill="#30123b"/>
<rect x="117.86" y="179.00" width="2.18" height="3.50" fill="#30123b"/>
<rect x="119.74" y="179.00" width="2.18" height="3.50" fill="#30123b"/>
<rect x="121.62" y="178.50" width="2.18" height="4.00" fill="#30123b"/>
<rect x="123.50" y="178.50" width="2.18" height="3.50" fill="#30123b"/>
<rect x="123.50" y="183.00" width="2.18" height="1.10" fill="#1ae4b6"/>
<rect x="125.38" y="178.50" width="2.18" height="3.50" fill="#30123b"/>
<rect x="127.26" y="178.00" width="2.18" height="4.00" fill="#30123b"/>
<rect x="127.26" y="182.00" width="2.18" height="1.10" fill="#1ae4b6"/>
<rect x="129.14" y="178.00" width="2.18" height="3.50" fill="#30123b"/>
<rect x="129.14" y="181.50" width="2.18" height="1.10" fill="#1ae4b6"/>
<rect x="131.02" y="178.00" width="2.18" height="3.50" fill="#30123b"/>
<rect x="132.90" y="177.50" width="2.18" height="4.00" fill="#30123b"/>
<rect x="132.90" y="182.50" width="2.18" height="2.00" fill="#1ae4b6"/>
<rect x="134.78" y="177.50" width="2.18" height="4.00" fill="#30123b"/>
<rect x="134.78" y="181.50" width="2.18" height="1.10" fill="#1ae4b6"/>
<rect x="136.66" y="177.50" width="2.18" height="4.00" fill="#30123b"/>
<rect x="136.66" y="181.50" width="2.18" height="2.00" fill="#1ae4b6"/>
<rect x="138.54" y="177.50" width="2.18" height="4.00" fill="#30123b"/>
<rect x="138.54" y="181.50" width="2.18" height="2.00" fill="#1ae4b6"/>
<rect x="140.42" y="177.00" width="2.18" height="4.00" fill="#30123b"/>
<rect x="140.42" y="182.00" width="2.18" height="2.00" fill="#1ae4b6"/>
<rect x="142.30" y="177.00" width="2.18" height="4.00" fill="#30123b"/>
<rect x="144.18" y="177.00" width="2.18" height="3.50" fill="#30123b"/>
<rect x="144.18" y="181.50" width="2.18" height="1.10" fill="#1ae4b6"/>
<rect x="146.06" y="176.50" width="2.18" height="4.00" fill="#30123b"/>
<rect x="146.06" y="180.50" width="2.18" height="1.10" fill="#1ae4b6"/>
<rect x="147.94" y="176.50" width="2.18" height="3.50" fill="#30123b"/>
<rect x="147.94" y="180.00" width="2.18" height="1.10" fill="#1ae4b6"/>
<rect x="149.82" y="176.50" width="2.18" height="3.50" fill="#30123b"/>
<rect x="151.70" y="176.50" width="2.18" height="3.00" fill="#30123b"/>
<rect x="151.70" y="179.50" width="2.18" height="1.10" fill="#1ae4b6"/>
<rect x="153.58" y="176.00" width="2.18" height="3.50" fill="#30123b"/>
<rect x="153.58" y="179.50" width="2.18" height="1.10" fill="#1ae4b6"/>
<rect x="155.46" y="176.00" width="2.18" height="3.00" fill="#30123b"/>
<rect x="157.34" y="175.50" width="2.18" height="3.50" fill="#30123b"/>
<rect x="159.22" y="175.50" width="2.18" height="3.00" fill="#30123b"/>
<rect x="159.22" y="178.50" width="2.18" height="2.00" fill="#1ae4b6"/>
<rect x="161.10" y="175.00" width="2.18" height="3.50" fill="#30123b"/>
<rect x="161.10" y="178.50" width="2.18" height="1.10" fill="#1ae4b6"/>
<rect x="162.98" y="175.00" width="2.18" height="3.00" fill="#30123b"/>
<rect x="164.86" y="174.50" width="2.18" height="3.50" fill="#30123b"/>
<rect x="166.74" y="174.50" width="2.18" height="3.00" fill="#30123b"/>
<rect x="168.62" y="174.00" width="2.18" height="3.50" fill="#30123b"/>
<rect x="168.62" y="175.00" width="1.88" height="1.1" fill="#a4fc3c"/>
<rect x="170.50" y="174.00" width="2.18" height="3.50" fill="#30123b"/>
<rect x="170.50" y="177.50" width="2.18" height="1.10" fill="#1ae4b6"/>
<rect x="170.50" y="175.00" width="1.88" height="1.1" fill="#a4fc3c"/>
<rect x="172.38" y="174.00" width="2.18" height="3.00" fill="#30123b"/>
<rect x="172.38" y="178.00" width="2.18" height="1.10" fill="#4685fa"/>
<rect x="174.26" y="173.50" width="2.18" height="3.50" fill="#30123b"/>
<rect x="174.26" y="178.00" width="2.18" height="1.10" fill="#4685fa"/>
<rect x="176.14" y="173.50" width="2.18" height="3.00" fill="#30123b"/>
<rect x="178.02" y="173.00" width="2.18" height="3.50" fill="#30123b"/>
<rect x="179.90" y="173.00" width="2.18" height="3.50" fill="#30123b"/>
<rect x="181.78" y="173.00" width="2.18" height="3.00" fill="#30123b"/>
<rect x="183.66" y="172.50" width="2.18" height="3.50" fill="#30123b"/>
<rect x="185.54" y="172.50" width="2.18" height="3.50" fill="#30123b"/>
<rect x="185.54" y="177.00" width="2.18" height="2.00" fill="#4685fa"/>
<rect x="187.42" y="172.00" width="2.18" height="3.50" fill="#30123b"/>
<rect x="187.42" y="176.50" width="2.18" height="1.10" fill="#1ae4b6"/>
<rect x="189.30" y="172.00" width="2.18" height="3.50" fill="#30123b"/>
<rect x="189.30" y="175.50" width="2.18" height="1.10" fill="#4685fa"/>
<rect x="189.30" y="173.00" width="1.88" height="1.1" fill="#a4fc3c"/>
<rect x="191.18" y="172.00" width="2.18" height="3.50" fill="#30123b"/>
<rect x="193.06" y="171.50" width="2.18" height="3.50" fill="#30123b"/>
<rect x="193.06" y="175.00" width="2.18" height="1.10" fill="#1ae4b6"/>
<rect x="194.94" y="171.50" width="2.18" height="3.50" fill="#30123b"/>
<rect x="196.82" y="171.50" width="2.18" height="3.50" fill="#30123b"/>
<rect x="196.82" y="175.00" width="2.18" height="2.00" fill="#4685fa"/>
<rect x="196.82" y="172.50" width="1.88" height="1.1" fill="#a4fc3c"/>
<rect x="198.70" y="171.00" width="2.18" height="3.50" fill="#30123b"/>
<rect x="198.70" y="175.50" width="2.18" height="2.00" fill="#1ae4b6"/>
<rect x="200.58" y="171.00" width="2.18" height="3.50" fill="#30123b"/>
<rect x="200.58" y="175.50" width="2.18" height="2.00" fill="#1ae4b6"/>
<rect x="202.46" y="171.00" width="2.18" height="3.50" fill="#30123b"/>
<rect x="202.46" y="175.50" width="2.18" height="1.10" fill="#4685fa"/>
<rect x="204.34" y="170.50" width="2.18" height="3.50" fill="#30123b"/>
<rect x="206.22" y="170.50" width="2.18" height="3.50" fill="#30123b"/>
<rect x="208.10" y="170.00" width="2.18" height="4.00" fill="#30123b"/>
<rect x="209.98" y="170.00" width="2.18" height="3.50" fill="#30123b"/>
<rect x="209.98" y="173.50" width="2.18" height="2.00" fill="#1ae4b6"/>
<rect x="211.86" y="170.00" width="2.18" height="3.50" fill="#30123b"/>
<rect x="213.74" y="169.50" width="2.18" height="4.00" fill="#30123b"/>
<rect x="213.74" y="174.50" width="2.18" height="1.10" fill="#1ae4b6"/>
<rect x="215.62" y="169.50" width="2.18" height="4.00" fill="#30123b"/>
</g>
<rect x="29.5" y="37.2" width="188.0" height="159.0" fill="none" stroke="#333" stroke-width="0.6"/>
<path d="M67.1 196.2v-2M67.1 37.2v2M104.7 196.2v-2M104.7 37.2v2M142.3 196.2v-2M142.3 37.2v2M179.9 196.2v-2M179.9 37.2v2M29.5 173.7h2M217.5 173.7h-2M29.5 151.0h2M217.5 151.0h-2M29.5 128.3h2M217.5 128.3h-2M29.5 105.6h2M217.5 105.6h-2M29.5 82.9h2M217.5 82.9h-2M29.5 60.2h2M217.5 60.2h-2" stroke="#222" stroke-width="0.6" fill="none"/>
<text x="25.80" y="176.90" font-size="10.6" text-anchor="end">2</text>
<text x="25.80" y="154.20" font-size="10.6" text-anchor="end">4</text>
<text x="25.80" y="131.50" font-size="10.6" text-anchor="end">6</text>
<text x="25.80" y="108.80" font-size="10.6" text-anchor="end">8</text>
<text x="25.80" y="86.10" font-size="10.6" text-anchor="end">10</text>
<text x="25.80" y="63.40" font-size="10.6" text-anchor="end">12</text>
<text x="25.80" y="40.70" font-size="10.6" text-anchor="end">14</text>
<text x="29.50" y="209.00" font-size="10.6" text-anchor="middle">0</text>
<text x="67.10" y="209.00" font-size="10.6" text-anchor="middle" textLength="9.8" lengthAdjust="spacingAndGlyphs">10</text>
<text x="104.70" y="209.00" font-size="10.6" text-anchor="middle" textLength="9.8" lengthAdjust="spacingAndGlyphs">20</text>
<text x="142.30" y="209.00" font-size="10.6" text-anchor="middle" textLength="9.8" lengthAdjust="spacingAndGlyphs">30</text>
<text x="179.90" y="209.00" font-size="10.6" text-anchor="middle" textLength="9.8" lengthAdjust="spacingAndGlyphs">40</text>
<text x="217.50" y="209.00" font-size="10.6" text-anchor="middle" textLength="9.8" lengthAdjust="spacingAndGlyphs">50</text>
<path d="M72.6 152.3H122.2" stroke="#ee5413" stroke-width="1.45" stroke-dasharray="7.2 6.9" fill="none"/>
<path d="M72.6 150.2l2.1 2.1l-2.1 2.1l-2.1-2.1z" fill="#ff14e4" stroke="#fff" stroke-width="0.8" stroke-linejoin="round"/>
<path d="M123.7 150.2l2.1 2.1l-2.1 2.1l-2.1-2.1z" fill="#ff14e4" stroke="#fff" stroke-width="0.8" stroke-linejoin="round"/>
<text x="64.30" y="155.90" font-size="11.2" text-anchor="middle" class="ss" font-weight="bold" style="fill:#fff">c</text>
<path d="M102.6 129.8H188.0" stroke="#ee5413" stroke-width="1.45" stroke-dasharray="7.2 6.9" fill="none"/>
<path d="M102.6 127.7l2.1 2.1l-2.1 2.1l-2.1-2.1z" fill="#ff14e4" stroke="#fff" stroke-width="0.8" stroke-linejoin="round"/>
<path d="M189.5 127.7l2.1 2.1l-2.1 2.1l-2.1-2.1z" fill="#ff14e4" stroke="#fff" stroke-width="0.8" stroke-linejoin="round"/>
<text x="93.20" y="133.40" font-size="11.2" text-anchor="middle" class="ss" font-weight="bold" style="fill:#fff">d</text>
<path d="M133.2 105.7H213.4" stroke="#ee5413" stroke-width="1.45" stroke-dasharray="7.2 6.9" fill="none"/>
<path d="M133.2 103.6l2.1 2.1l-2.1 2.1l-2.1-2.1z" fill="#ff14e4" stroke="#fff" stroke-width="0.8" stroke-linejoin="round"/>
<path d="M214.9 103.6l2.1 2.1l-2.1 2.1l-2.1-2.1z" fill="#ff14e4" stroke="#fff" stroke-width="0.8" stroke-linejoin="round"/>
<text x="125.40" y="109.30" font-size="11.2" text-anchor="middle" class="ss" font-weight="bold" style="fill:#fff">e</text>
<text x="9.80" y="26.20" font-size="12" class="ss pl" font-weight="bold" style="fill:#111">a</text>
<text x="123.5" y="32.4" font-size="12" text-anchor="middle" class="t" textLength="105.6" lengthAdjust="spacingAndGlyphs"><tspan font-style="italic">η</tspan><tspan font-size="8.5" dy="1.9">2</tspan><tspan dy="-1.9"> = 0.9</tspan><tspan font-style="italic">η</tspan><tspan font-size="8.5" dy="1.9">1</tspan><tspan dy="-1.9">, Γ = 0.5</tspan><tspan font-style="italic">η</tspan><tspan font-size="8.5" dy="1.9">1</tspan></text>
<text x="8.7" y="122.3" font-size="11.5" transform="rotate(-90 8.7 122.3)"><tspan font-style="italic">η</tspan><tspan font-size="8.5" dy="1.9">1</tspan></text>
<text x="58.4" y="222.7" font-size="11.6" textLength="130" lengthAdjust="spacingAndGlyphs">External magnetic flux <tspan font-style="italic">ϕ</tspan><tspan font-size="8.5" font-style="italic" dy="1.9">e</tspan></text>
<g shape-rendering="crispEdges">
<rect x="231.5" y="36.40" width="11.30" height="23.59" fill="#7a0403"/>
<rect x="231.5" y="59.69" width="11.30" height="23.59" fill="#e4450a"/>
<rect x="231.5" y="82.97" width="11.30" height="23.59" fill="#faba39"/>
<rect x="231.5" y="106.26" width="11.30" height="23.59" fill="#a4fc3c"/>
<rect x="231.5" y="129.54" width="11.30" height="23.59" fill="#1ae4b6"/>
<rect x="231.5" y="152.83" width="11.30" height="23.59" fill="#4685fa"/>
<rect x="231.5" y="176.11" width="11.30" height="23.59" fill="#30123b"/>
</g>
<rect x="231.5" y="36.4" width="11.30" height="163.00" fill="none" stroke="#333" stroke-width="0.5"/>
<path d="M242.8 48.0h-1.8" stroke="#222" stroke-width="0.6"/>
<text x="246.60" y="51.24" font-size="10" textLength="84.4" lengthAdjust="spacingAndGlyphs">int. burst. plateau</text>
<path d="M242.8 71.3h-1.8" stroke="#222" stroke-width="0.6"/>
<text x="246.60" y="74.53" font-size="10" textLength="75.0" lengthAdjust="spacingAndGlyphs">bursting plateau</text>
<path d="M242.8 94.6h-1.8" stroke="#222" stroke-width="0.6"/>
<text x="246.60" y="97.81" font-size="10" textLength="47.0" lengthAdjust="spacingAndGlyphs">int. burst.</text>
<path d="M242.8 117.9h-1.8" stroke="#222" stroke-width="0.6"/>
<text x="246.60" y="121.10" font-size="10" textLength="63.0" lengthAdjust="spacingAndGlyphs">non-biological</text>
<path d="M242.8 141.2h-1.8" stroke="#222" stroke-width="0.6"/>
<text x="246.60" y="144.39" font-size="10" textLength="29.0" lengthAdjust="spacingAndGlyphs">locked</text>
<path d="M242.8 164.5h-1.8" stroke="#222" stroke-width="0.6"/>
<text x="246.60" y="167.67" font-size="10" textLength="32.0" lengthAdjust="spacingAndGlyphs">regular</text>
<path d="M242.8 187.8h-1.8" stroke="#222" stroke-width="0.6"/>
<text x="246.60" y="190.96" font-size="10" textLength="21.0" lengthAdjust="spacingAndGlyphs">dead</text>
<text x="228.50" y="119.00" font-size="10.3" text-anchor="middle" textLength="74.0" lengthAdjust="spacingAndGlyphs" transform="rotate(-90 228.50 119.00)">Dynamical mode</text>
<rect x="352.1" y="52.1" width="181.20" height="140.30" fill="#30123b"/>
<g shape-rendering="crispEdges">
<rect x="352.10" y="190.06" width="1.21" height="2.34" fill="url(#b0)"/>
<rect x="353.01" y="190.06" width="1.21" height="2.34" fill="url(#b1)"/>
<rect x="353.91" y="187.72" width="1.21" height="3.51" fill="url(#b2)"/>
<rect x="354.82" y="187.72" width="1.21" height="3.51" fill="url(#b3)"/>
<rect x="355.72" y="185.39" width="1.21" height="3.51" fill="url(#b4)"/>
<rect x="356.63" y="185.39" width="1.21" height="3.51" fill="url(#b5)"/>
<rect x="357.54" y="183.05" width="1.21" height="3.51" fill="url(#b6)"/>
<rect x="358.44" y="183.05" width="1.21" height="3.51" fill="url(#b7)"/>
<rect x="359.35" y="181.88" width="1.21" height="2.34" fill="url(#b8)"/>
<rect x="360.25" y="181.88" width="1.21" height="2.34" fill="url(#b9)"/>
<rect x="361.16" y="179.54" width="1.21" height="2.34" fill="url(#b10)"/>
<rect x="362.07" y="179.54" width="1.21" height="2.34" fill="url(#b11)"/>
<rect x="362.97" y="178.37" width="1.21" height="2.34" fill="url(#b12)"/>
<rect x="363.88" y="178.37" width="1.21" height="2.34" fill="url(#b13)"/>
<rect x="364.78" y="176.03" width="1.21" height="2.34" fill="url(#b14)"/>
<rect x="365.69" y="176.03" width="1.21" height="2.34" fill="url(#b15)"/>
<rect x="366.60" y="173.70" width="1.21" height="3.51" fill="url(#b16)"/>
<rect x="367.50" y="173.70" width="1.21" height="3.51" fill="url(#b17)"/>
<rect x="368.41" y="172.53" width="1.21" height="3.51" fill="url(#b18)"/>
<rect x="369.31" y="172.53" width="1.21" height="3.51" fill="url(#b19)"/>
<rect x="370.22" y="170.19" width="1.21" height="4.68" fill="url(#b20)"/>
<rect x="371.13" y="170.19" width="1.21" height="4.68" fill="url(#b21)"/>
<rect x="372.03" y="167.85" width="1.21" height="5.84" fill="url(#b22)"/>
<rect x="372.94" y="167.85" width="1.21" height="5.84" fill="url(#b23)"/>
<rect x="373.84" y="165.51" width="1.21" height="7.01" fill="url(#b24)"/>
<rect x="374.75" y="165.51" width="1.21" height="7.01" fill="url(#b25)"/>
<rect x="375.66" y="163.18" width="1.21" height="8.18" fill="url(#b26)"/>
<rect x="376.56" y="163.18" width="1.21" height="8.18" fill="url(#b27)"/>
<rect x="377.47" y="160.84" width="1.21" height="9.35" fill="url(#b28)"/>
<rect x="378.37" y="160.84" width="1.21" height="9.35" fill="url(#b29)"/>
<rect x="379.28" y="158.50" width="1.21" height="10.52" fill="url(#b30)"/>
<rect x="380.19" y="158.50" width="1.21" height="10.52" fill="url(#b31)"/>
<rect x="381.09" y="156.16" width="1.21" height="12.86" fill="url(#b32)"/>
<rect x="382.00" y="156.16" width="1.21" height="12.86" fill="url(#b33)"/>
<rect x="382.90" y="153.82" width="1.21" height="14.03" fill="url(#b34)"/>
<rect x="383.81" y="153.82" width="1.21" height="14.03" fill="url(#b35)"/>
<rect x="384.72" y="151.49" width="1.21" height="15.20" fill="url(#b36)"/>
<rect x="385.62" y="151.49" width="1.21" height="15.20" fill="url(#b37)"/>
<rect x="386.53" y="147.98" width="1.21" height="18.70" fill="url(#b38)"/>
<rect x="387.43" y="147.98" width="1.21" height="18.70" fill="url(#b39)"/>
<rect x="388.34" y="145.64" width="1.21" height="19.87" fill="url(#b40)"/>
<rect x="389.25" y="145.64" width="1.21" height="19.87" fill="url(#b41)"/>
<rect x="390.15" y="144.47" width="1.21" height="21.04" fill="url(#b42)"/>
<rect x="391.06" y="144.47" width="1.21" height="21.04" fill="url(#b43)"/>
<rect x="391.96" y="142.13" width="1.21" height="22.21" fill="url(#b44)"/>
<rect x="392.87" y="142.13" width="1.21" height="22.21" fill="url(#b45)"/>
<rect x="393.78" y="139.80" width="1.21" height="24.55" fill="url(#b46)"/>
<rect x="394.68" y="139.80" width="1.21" height="24.55" fill="url(#b47)"/>
<rect x="395.59" y="138.63" width="1.21" height="24.55" fill="url(#b48)"/>
<rect x="396.49" y="138.63" width="1.21" height="24.55" fill="url(#b49)"/>
<rect x="397.40" y="136.29" width="1.21" height="26.89" fill="url(#b50)"/>
<rect x="398.31" y="136.29" width="1.21" height="26.89" fill="url(#b51)"/>
<rect x="399.21" y="135.12" width="1.21" height="28.06" fill="url(#b52)"/>
<rect x="400.12" y="135.12" width="1.21" height="28.06" fill="url(#b53)"/>
<rect x="401.02" y="132.78" width="1.21" height="29.22" fill="url(#b54)"/>
<rect x="401.93" y="132.78" width="1.21" height="29.22" fill="url(#b55)"/>
<rect x="402.84" y="131.61" width="1.21" height="30.39" fill="url(#b56)"/>
<rect x="403.74" y="131.61" width="1.21" height="30.39" fill="url(#b57)"/>
<rect x="404.65" y="130.44" width="1.21" height="30.39" fill="url(#b58)"/>
<rect x="405.55" y="130.44" width="1.21" height="30.39" fill="url(#b59)"/>
<rect x="406.46" y="129.27" width="1.21" height="31.56" fill="url(#b60)"/>
<rect x="407.37" y="129.27" width="1.21" height="31.56" fill="url(#b61)"/>
<rect x="408.27" y="128.11" width="1.21" height="31.56" fill="url(#b62)"/>
<rect x="409.18" y="128.11" width="1.21" height="31.56" fill="url(#b63)"/>
<rect x="410.08" y="126.94" width="1.21" height="31.56" fill="url(#b64)"/>
<rect x="410.99" y="126.94" width="1.21" height="31.56" fill="url(#b65)"/>
<rect x="411.90" y="125.77" width="1.21" height="32.73" fill="url(#b66)"/>
<rect x="412.80" y="125.77" width="1.21" height="32.73" fill="url(#b67)"/>
<rect x="413.71" y="124.60" width="1.21" height="32.73" fill="url(#b68)"/>
<rect x="414.61" y="124.60" width="1.21" height="32.73" fill="url(#b69)"/>
<rect x="415.52" y="123.43" width="1.21" height="33.90" fill="url(#b70)"/>
<rect x="416.43" y="123.43" width="1.21" height="33.90" fill="url(#b71)"/>
<rect x="417.33" y="122.26" width="1.21" height="33.90" fill="url(#b72)"/>
<rect x="418.24" y="122.26" width="1.21" height="33.90" fill="url(#b73)"/>
<rect x="419.14" y="121.09" width="1.21" height="33.90" fill="url(#b74)"/>
<rect x="420.05" y="121.09" width="1.21" height="33.90" fill="url(#b75)"/>
<rect x="420.96" y="119.92" width="1.21" height="33.90" fill="url(#b76)"/>
<rect x="421.86" y="119.92" width="1.21" height="33.90" fill="url(#b77)"/>
<rect x="422.77" y="118.75" width="1.21" height="35.07" fill="url(#b78)"/>
<rect x="423.67" y="118.75" width="1.21" height="35.07" fill="url(#b79)"/>
<rect x="424.58" y="117.58" width="1.21" height="35.07" fill="url(#b80)"/>
<rect x="425.49" y="117.58" width="1.21" height="35.07" fill="url(#b81)"/>
<rect x="426.39" y="115.25" width="1.21" height="36.24" fill="url(#b82)"/>
<rect x="427.30" y="115.25" width="1.21" height="36.24" fill="url(#b83)"/>
<rect x="428.20" y="111.74" width="1.21" height="39.75" fill="url(#b84)"/>
<rect x="429.11" y="111.74" width="1.21" height="39.75" fill="url(#b85)"/>
<rect x="430.02" y="110.57" width="1.21" height="39.75" fill="url(#b86)"/>
<rect x="430.92" y="110.57" width="1.21" height="39.75" fill="url(#b87)"/>
<rect x="431.83" y="109.40" width="1.21" height="39.75" fill="url(#b88)"/>
<rect x="432.73" y="109.40" width="1.21" height="39.75" fill="url(#b89)"/>
<rect x="433.64" y="109.40" width="1.21" height="39.75" fill="url(#b90)"/>
<rect x="434.55" y="109.40" width="1.21" height="39.75" fill="url(#b91)"/>
<rect x="435.45" y="108.23" width="1.21" height="39.75" fill="url(#b92)"/>
<rect x="436.36" y="108.23" width="1.21" height="39.75" fill="url(#b93)"/>
<rect x="437.26" y="107.06" width="1.21" height="40.91" fill="url(#b94)"/>
<rect x="438.17" y="107.06" width="1.21" height="40.91" fill="url(#b95)"/>
<rect x="439.08" y="105.89" width="1.21" height="40.92" fill="url(#b96)"/>
<rect x="439.98" y="105.89" width="1.21" height="40.92" fill="url(#b97)"/>
<rect x="440.89" y="104.73" width="1.21" height="42.08" fill="url(#b98)"/>
<rect x="441.79" y="104.73" width="1.21" height="42.08" fill="url(#b99)"/>
<rect x="442.70" y="103.56" width="1.21" height="43.25" fill="url(#b100)"/>
<rect x="443.61" y="103.56" width="1.21" height="43.25" fill="url(#b101)"/>
<rect x="444.51" y="101.22" width="1.21" height="44.42" fill="url(#b102)"/>
<rect x="445.42" y="101.22" width="1.21" height="44.42" fill="url(#b103)"/>
<rect x="446.32" y="100.05" width="1.21" height="45.59" fill="url(#b104)"/>
<rect x="447.23" y="100.05" width="1.21" height="45.59" fill="url(#b105)"/>
<rect x="448.14" y="98.88" width="1.21" height="45.59" fill="url(#b106)"/>
<rect x="449.04" y="98.88" width="1.21" height="45.59" fill="url(#b107)"/>
<rect x="449.95" y="97.71" width="1.21" height="46.76" fill="url(#b108)"/>
<rect x="450.85" y="97.71" width="1.21" height="46.76" fill="url(#b109)"/>
<rect x="451.76" y="96.54" width="1.21" height="46.76" fill="url(#b110)"/>
<rect x="452.67" y="96.54" width="1.21" height="46.76" fill="url(#b111)"/>
<rect x="453.57" y="96.54" width="1.21" height="45.59" fill="url(#b112)"/>
<rect x="454.48" y="96.54" width="1.21" height="45.59" fill="url(#b113)"/>
<rect x="455.38" y="95.37" width="1.21" height="46.76" fill="url(#b114)"/>
<rect x="456.29" y="95.37" width="1.21" height="46.76" fill="url(#b115)"/>
<rect x="457.20" y="94.20" width="1.21" height="46.76" fill="url(#b116)"/>
<rect x="458.10" y="94.20" width="1.21" height="46.76" fill="url(#b117)"/>
<rect x="459.01" y="93.04" width="1.21" height="46.76" fill="url(#b118)"/>
<rect x="459.91" y="93.04" width="1.21" height="46.76" fill="url(#b119)"/>
<rect x="460.82" y="91.87" width="1.21" height="46.76" fill="url(#b120)"/>
<rect x="461.73" y="91.87" width="1.21" height="46.76" fill="url(#b121)"/>
<rect x="462.63" y="91.87" width="1.21" height="46.76" fill="url(#b122)"/>
<rect x="463.54" y="91.87" width="1.21" height="46.76" fill="url(#b123)"/>
<rect x="464.44" y="90.70" width="1.21" height="46.76" fill="url(#b124)"/>
<rect x="465.35" y="90.70" width="1.21" height="46.76" fill="url(#b125)"/>
<rect x="466.26" y="89.53" width="1.21" height="47.93" fill="url(#b126)"/>
<rect x="467.16" y="89.53" width="1.21" height="47.93" fill="url(#b127)"/>
<rect x="468.07" y="88.36" width="1.21" height="47.93" fill="url(#b128)"/>
<rect x="468.97" y="88.36" width="1.21" height="47.93" fill="url(#b129)"/>
<rect x="469.88" y="87.19" width="1.21" height="49.10" fill="url(#b130)"/>
<rect x="470.79" y="87.19" width="1.21" height="49.10" fill="url(#b131)"/>
<rect x="471.69" y="86.02" width="1.21" height="49.10" fill="url(#b132)"/>
<rect x="472.60" y="86.02" width="1.21" height="49.10" fill="url(#b133)"/>
<rect x="473.50" y="83.68" width="1.21" height="50.27" fill="url(#b134)"/>
<rect x="474.41" y="83.68" width="1.21" height="50.27" fill="url(#b135)"/>
<rect x="475.32" y="82.51" width="1.21" height="51.44" fill="url(#b136)"/>
<rect x="476.22" y="82.51" width="1.21" height="51.44" fill="url(#b137)"/>
<rect x="477.13" y="81.35" width="1.21" height="51.44" fill="url(#b138)"/>
<rect x="478.03" y="81.35" width="1.21" height="51.44" fill="url(#b139)"/>
<rect x="478.94" y="81.35" width="1.21" height="51.44" fill="url(#b140)"/>
<rect x="479.85" y="81.35" width="1.21" height="51.44" fill="url(#b141)"/>
<rect x="480.75" y="80.18" width="1.21" height="51.44" fill="url(#b142)"/>
<rect x="481.66" y="80.18" width="1.21" height="51.44" fill="url(#b143)"/>
<rect x="482.56" y="79.01" width="1.21" height="52.61" fill="url(#b144)"/>
<rect x="483.47" y="79.01" width="1.21" height="52.61" fill="url(#b145)"/>
<rect x="484.38" y="77.84" width="1.21" height="52.61" fill="url(#b146)"/>
<rect x="485.28" y="77.84" width="1.21" height="52.61" fill="url(#b147)"/>
<rect x="486.19" y="76.67" width="1.21" height="53.77" fill="url(#b148)"/>
<rect x="487.09" y="76.67" width="1.21" height="53.77" fill="url(#b149)"/>
<rect x="488.00" y="76.67" width="1.21" height="52.60" fill="url(#b150)"/>
<rect x="488.91" y="76.67" width="1.21" height="52.60" fill="url(#b151)"/>
<rect x="489.81" y="75.50" width="1.21" height="53.77" fill="url(#b152)"/>
<rect x="490.72" y="75.50" width="1.21" height="53.77" fill="url(#b153)"/>
<rect x="491.62" y="74.33" width="1.21" height="53.77" fill="url(#b154)"/>
<rect x="492.53" y="74.33" width="1.21" height="53.77" fill="url(#b155)"/>
<rect x="493.44" y="73.16" width="1.21" height="54.94" fill="url(#b156)"/>
<rect x="494.34" y="73.16" width="1.21" height="54.94" fill="url(#b157)"/>
<rect x="495.25" y="73.16" width="1.21" height="53.77" fill="url(#b158)"/>
<rect x="496.15" y="73.16" width="1.21" height="53.77" fill="url(#b159)"/>
<rect x="497.06" y="71.99" width="1.21" height="54.94" fill="url(#b160)"/>
<rect x="497.97" y="71.99" width="1.21" height="54.94" fill="url(#b161)"/>
<rect x="498.87" y="70.82" width="1.21" height="54.94" fill="url(#b162)"/>
<rect x="499.78" y="70.82" width="1.21" height="54.94" fill="url(#b163)"/>
<rect x="500.68" y="70.82" width="1.21" height="54.94" fill="url(#b164)"/>
<rect x="501.59" y="70.82" width="1.21" height="54.94" fill="url(#b165)"/>
<rect x="502.50" y="69.66" width="1.21" height="54.94" fill="url(#b166)"/>
<rect x="503.40" y="69.66" width="1.21" height="54.94" fill="url(#b167)"/>
<rect x="504.31" y="68.49" width="1.21" height="56.11" fill="url(#b168)"/>
<rect x="505.21" y="68.49" width="1.21" height="56.11" fill="url(#b169)"/>
<rect x="506.12" y="68.49" width="1.21" height="53.77" fill="url(#b170)"/>
<rect x="507.03" y="68.49" width="1.21" height="53.77" fill="url(#b171)"/>
<rect x="507.93" y="67.32" width="1.21" height="53.77" fill="url(#b172)"/>
<rect x="508.84" y="67.32" width="1.21" height="53.77" fill="url(#b173)"/>
<rect x="509.74" y="67.32" width="1.21" height="52.60" fill="url(#b174)"/>
<rect x="510.65" y="67.32" width="1.21" height="52.60" fill="url(#b175)"/>
<rect x="511.56" y="66.15" width="1.21" height="51.44" fill="url(#b176)"/>
<rect x="512.46" y="66.15" width="1.21" height="51.44" fill="url(#b177)"/>
<rect x="513.37" y="64.98" width="1.21" height="51.44" fill="url(#b178)"/>
<rect x="514.27" y="64.98" width="1.21" height="51.44" fill="url(#b179)"/>
<rect x="515.18" y="64.98" width="1.21" height="50.27" fill="url(#b180)"/>
<rect x="516.09" y="64.98" width="1.21" height="50.27" fill="url(#b181)"/>
<rect x="516.99" y="63.81" width="1.21" height="51.44" fill="url(#b182)"/>
<rect x="517.90" y="63.81" width="1.21" height="51.44" fill="url(#b183)"/>
<rect x="518.80" y="62.64" width="1.21" height="51.44" fill="url(#b184)"/>
<rect x="519.71" y="62.64" width="1.21" height="51.44" fill="url(#b185)"/>
<rect x="520.62" y="61.47" width="1.21" height="51.44" fill="url(#b186)"/>
<rect x="521.52" y="61.47" width="1.21" height="51.44" fill="url(#b187)"/>
<rect x="522.43" y="61.47" width="1.21" height="51.44" fill="url(#b188)"/>
<rect x="523.33" y="61.47" width="1.21" height="51.44" fill="url(#b189)"/>
<rect x="524.24" y="60.30" width="1.21" height="51.44" fill="url(#b190)"/>
<rect x="525.15" y="60.30" width="1.21" height="51.44" fill="url(#b191)"/>
<rect x="526.05" y="59.13" width="1.21" height="51.44" fill="url(#b192)"/>
<rect x="526.96" y="59.13" width="1.21" height="51.44" fill="url(#b193)"/>
<rect x="527.86" y="57.97" width="1.21" height="52.61" fill="url(#b194)"/>
<rect x="528.77" y="57.97" width="1.21" height="52.61" fill="url(#b195)"/>
<rect x="529.68" y="57.97" width="1.21" height="51.44" fill="url(#b196)"/>
<rect x="530.58" y="57.97" width="1.21" height="51.44" fill="url(#b197)"/>
<rect x="531.49" y="56.80" width="1.21" height="51.44" fill="url(#b198)"/>
<rect x="532.39" y="56.80" width="1.21" height="51.44" fill="url(#b199)"/>
</g>
<rect x="403.0" y="134.6" width="2.2" height="1.4" fill="#4661d6" opacity="0.8"/>
<rect x="400.0" y="139.9" width="2.2" height="1.4" fill="#4661d6" opacity="0.8"/>
<rect x="397.0" y="145.9" width="2.2" height="1.4" fill="#4661d6" opacity="0.8"/>
<rect x="392.5" y="150.4" width="2.2" height="1.4" fill="#4661d6" opacity="0.8"/>
<path d="M355.7 190.4 L357.5 188.1 L359.3 185.8 L361.2 183.6 L363.0 181.8 L364.8 180.0 L366.6 178.2 L368.4 176.8 L370.2 175.5 L372.0 174.2 L373.8 173.1 L375.7 171.9 L377.5 170.8 L379.3 169.9 L381.1 169.1 L382.9 168.4 L384.7 167.6 L386.5 166.9 L388.3 166.2 L390.2 165.6 L392.0 165.1 L393.8 164.5 L395.6 164.0 L397.4 163.6 L399.2 163.2 L401.0 162.8 L402.8 162.4 L404.6 161.7 L406.5 161.1 L408.3 160.4 L410.1 159.7 L411.9 159.0 L413.7 158.2 L415.5 157.5 L417.3 156.7 L419.1 155.8 L421.0 154.9 L422.8 154.1 L424.6 153.2 L426.4 152.4 L428.2 151.7 L430.0 150.9 L431.8 150.2 L433.6 149.6 L435.5 149.0 L437.3 148.5 L439.1 147.9 L440.9 147.4 L442.7 147.1 L444.5 146.7 L446.3 146.3 L448.1 145.6 L449.9 144.8 L451.8 144.1 L453.6 143.2 L455.4 142.3 L457.2 141.5 L459.0 140.6 L460.8 139.8 L462.6 139.1 L464.4 138.5 L466.3 137.8 L468.1 137.1 L469.9 136.5 L471.7 135.8 L473.5 135.1 L475.3 134.5 L477.1 133.8 L478.9 133.2 L480.8 132.5 L482.6 131.9 L484.4 131.2 L486.2 130.6 L488.0 130.0 L489.8 129.4 L491.6 128.8 L493.4 128.2 L495.2 127.7 L497.1 127.1 L498.9 126.5 L500.7 125.9 L502.5 125.4 L504.3 124.8 L506.1 123.7 L507.9 122.2 L509.7 120.7 L511.6 119.2 L513.4 117.6 L515.2 116.1 L517.0 115.4 L518.8 114.6 L520.6 113.9 L522.4 113.2 L524.2 112.4 L526.1 111.7 L527.9 110.9 L529.7 110.2 L531.5 109.4 L533.3 108.6" stroke="#6fdcb0" stroke-width="1.1" fill="none" opacity="0.9"/>
<rect x="352.1" y="52.1" width="181.20" height="140.30" fill="none" stroke="#333" stroke-width="0.6"/>
<path d="M388.3 192.4v-2M388.3 52.1v2M424.6 192.4v-2M424.6 52.1v2M460.8 192.4v-2M460.8 52.1v2M497.1 192.4v-2M497.1 52.1v2M352.1 169.0h2M533.3 169.0h-2M352.1 145.6h2M533.3 145.6h-2M352.1 122.3h2M533.3 122.3h-2M352.1 98.9h2M533.3 98.9h-2M352.1 75.5h2M533.3 75.5h-2" stroke="#222" stroke-width="0.6" fill="none"/>
<text x="348.20" y="172.32" font-size="10.6" text-anchor="end">2</text>
<text x="348.20" y="148.94" font-size="10.6" text-anchor="end">4</text>
<text x="348.20" y="125.56" font-size="10.6" text-anchor="end">6</text>
<text x="348.20" y="102.18" font-size="10.6" text-anchor="end">8</text>
<text x="348.20" y="78.80" font-size="10.6" text-anchor="end">10</text>
<text x="348.20" y="55.42" font-size="10.6" text-anchor="end">12</text>
<text x="352.10" y="205.60" font-size="10.6" text-anchor="middle">0</text>
<text x="388.34" y="205.60" font-size="10.6" text-anchor="middle" textLength="9.8" lengthAdjust="spacingAndGlyphs">10</text>
<text x="424.58" y="205.60" font-size="10.6" text-anchor="middle" textLength="9.8" lengthAdjust="spacingAndGlyphs">20</text>
<text x="460.82" y="205.60" font-size="10.6" text-anchor="middle" textLength="9.8" lengthAdjust="spacingAndGlyphs">30</text>
<text x="497.06" y="205.60" font-size="10.6" text-anchor="middle" textLength="9.8" lengthAdjust="spacingAndGlyphs">40</text>
<text x="533.30" y="205.60" font-size="10.6" text-anchor="middle" textLength="9.8" lengthAdjust="spacingAndGlyphs">50</text>
<path d="M388.6 146.0H445.1" stroke="#ee5413" stroke-width="1.45" stroke-dasharray="7.2 6.9" fill="none"/>
<path d="M388.6 143.9l2.1 2.1l-2.1 2.1l-2.1-2.1z" fill="#ff14e4" stroke="#fff" stroke-width="0.8" stroke-linejoin="round"/>
<path d="M446.6 143.9l2.1 2.1l-2.1 2.1l-2.1-2.1z" fill="#ff14e4" stroke="#fff" stroke-width="0.8" stroke-linejoin="round"/>
<text x="379.60" y="149.60" font-size="11.2" text-anchor="middle" class="ss" font-weight="bold" style="fill:#fff">c</text>
<path d="M418.6 123.2H503.8" stroke="#ee5413" stroke-width="1.45" stroke-dasharray="7.2 6.9" fill="none"/>
<path d="M418.6 121.1l2.1 2.1l-2.1 2.1l-2.1-2.1z" fill="#ff14e4" stroke="#fff" stroke-width="0.8" stroke-linejoin="round"/>
<path d="M505.3 121.1l2.1 2.1l-2.1 2.1l-2.1-2.1z" fill="#ff14e4" stroke="#fff" stroke-width="0.8" stroke-linejoin="round"/>
<text x="409.00" y="126.80" font-size="11.2" text-anchor="middle" class="ss" font-weight="bold" style="fill:#fff">d</text>
<path d="M449.4 99.2H529.5" stroke="#ee5413" stroke-width="1.45" stroke-dasharray="7.2 6.9" fill="none"/>
<path d="M449.4 97.1l2.1 2.1l-2.1 2.1l-2.1-2.1z" fill="#ff14e4" stroke="#fff" stroke-width="0.8" stroke-linejoin="round"/>
<path d="M531.0 97.1l2.1 2.1l-2.1 2.1l-2.1-2.1z" fill="#ff14e4" stroke="#fff" stroke-width="0.8" stroke-linejoin="round"/>
<text x="441.20" y="102.80" font-size="11.2" text-anchor="middle" class="ss" font-weight="bold" style="fill:#fff">e</text>
<text x="336.80" y="30.20" font-size="11.4" class="ss pl" font-weight="bold" style="fill:#111">b</text>
<text x="331.3" y="127.5" font-size="11.5" transform="rotate(-90 331.3 127.5)"><tspan font-style="italic">η</tspan><tspan font-size="8.5" dy="1.9">1</tspan></text>
<text x="383.0" y="220.1" font-size="11.6" textLength="130" lengthAdjust="spacingAndGlyphs">External magnetic flux <tspan font-style="italic">ϕ</tspan><tspan font-size="8.5" font-style="italic" dy="1.9">e</tspan></text>
<rect x="352.3" y="32.6" width="180.10" height="13.90" fill="url(#tb)" stroke="#333" stroke-width="0.6"/>
<path d="M368.1 32.6v1.3M393.0 32.6v1.3M412.3 32.6v1.3M428.1 32.6v1.3M441.5 32.6v1.3M453.0 32.6v1.3M463.2 32.6v1.3M472.4 32.6v1.3M480.6 32.6v1.3M488.2 32.6v1.3M495.1 32.6v1.3M501.5 32.6v1.3M507.5 32.6v1.3M513.1 32.6v1.3M518.3 32.6v1.3M523.3 32.6v1.3M528.0 32.6v1.3" stroke="#222" stroke-width="0.5" fill="none"/>
<text x="412.33" y="25.10" font-size="10.6" text-anchor="middle">100</text>
<text x="472.37" y="25.10" font-size="10.6" text-anchor="middle">200</text>
<text x="507.48" y="25.10" font-size="10.6" text-anchor="middle">300</text>
<text x="532.40" y="25.10" font-size="10.6" text-anchor="middle">400</text>
<text x="444.30" y="14.50" font-size="9.3" text-anchor="middle" textLength="142.0" lengthAdjust="spacingAndGlyphs">Number of spikes in locked mode</text>
<path d="M79.9 288.2V390.9M106.9 288.2V390.9M133.8 288.2V390.9M160.8 288.2V390.9M53.0 356.7H187.7M53.0 322.4H187.7" stroke="#e2e2e2" stroke-width="0.7" fill="none"/>
<rect x="53.0" y="288.2" width="134.70" height="102.70" fill="none" stroke="#555" stroke-width="0.8"/>
<path d="M79.9 390.9v-1.5M79.9 288.2v1.5M106.9 390.9v-1.5M106.9 288.2v1.5M133.8 390.9v-1.5M133.8 288.2v1.5M160.8 390.9v-1.5M160.8 288.2v1.5M53.0 356.7h1.5M187.7 356.7h-1.5M53.0 322.4h1.5M187.7 322.4h-1.5" stroke="#444" stroke-width="0.6" fill="none"/>
<path d="M53.0 390.9 L78.9 390.9 L80.7 384.1 L81.8 379.3 L82.6 355.3 L83.6 352.9 L84.5 358.4 L85.6 364.2 L87.5 364.2 L88.3 355.0 L119.0 300.2 L120.6 328.6 L122.2 328.6 L123.3 390.2 L187.7 390.2" stroke="#0f76c2" stroke-width="1.25" fill="none" stroke-linejoin="round"/>
<path d="M82.6 364.9L119.0 300.2" stroke="#dc5a1f" stroke-width="2.1" stroke-dasharray="7 6.6" fill="none"/>
<text x="49.40" y="359.07" font-size="10.6" text-anchor="end" textLength="16.4" lengthAdjust="spacingAndGlyphs">100</text>
<text x="49.40" y="324.83" font-size="10.6" text-anchor="end" textLength="16.4" lengthAdjust="spacingAndGlyphs">200</text>
<text x="49.40" y="290.60" font-size="10.6" text-anchor="end" textLength="16.4" lengthAdjust="spacingAndGlyphs">300</text>
<text x="53.00" y="404.60" font-size="10.6" text-anchor="middle">0</text>
<text x="79.94" y="404.60" font-size="10.6" text-anchor="middle" textLength="9.8" lengthAdjust="spacingAndGlyphs">10</text>
<text x="106.88" y="404.60" font-size="10.6" text-anchor="middle" textLength="9.8" lengthAdjust="spacingAndGlyphs">20</text>
<text x="133.82" y="404.60" font-size="10.6" text-anchor="middle" textLength="9.8" lengthAdjust="spacingAndGlyphs">30</text>
<text x="160.76" y="404.60" font-size="10.6" text-anchor="middle" textLength="9.8" lengthAdjust="spacingAndGlyphs">40</text>
<text x="187.70" y="404.60" font-size="10.6" text-anchor="middle" textLength="9.8" lengthAdjust="spacingAndGlyphs">50</text>
<text x="120.3" y="282.2" font-size="12" text-anchor="middle" class="t" textLength="34.6" lengthAdjust="spacingAndGlyphs"><tspan font-style="italic">η</tspan><tspan font-size="8.5" dy="1.9">1</tspan><tspan dy="-1.9"> = 4</tspan></text>
<text x="114.8" y="418.9" font-size="12"><tspan font-style="italic">ϕ</tspan><tspan font-size="8.5" font-style="italic" dy="1.9">e</tspan></text>
<text x="25.30" y="339.30" font-size="12" text-anchor="middle" transform="rotate(-90 25.30 339.30)">n</text>
<text x="22.40" y="278.70" font-size="10.4" class="ss pl" font-weight="bold" style="fill:#111">c</text>
<path d="M257.5 288.2V391.0M284.3 288.2V391.0M311.0 288.2V391.0M337.8 288.2V391.0M230.7 356.7H364.6M230.7 322.5H364.6" stroke="#e2e2e2" stroke-width="0.7" fill="none"/>
<rect x="230.7" y="288.2" width="133.90" height="102.80" fill="none" stroke="#555" stroke-width="0.8"/>
<path d="M257.5 391.0v-1.5M257.5 288.2v1.5M284.3 391.0v-1.5M284.3 288.2v1.5M311.0 391.0v-1.5M311.0 288.2v1.5M337.8 391.0v-1.5M337.8 288.2v1.5M230.7 356.7h1.5M364.6 356.7h-1.5M230.7 322.5h1.5M364.6 322.5h-1.5" stroke="#444" stroke-width="0.6" fill="none"/>
<path d="M230.7 391.0 L270.9 391.0 L277.6 390.3 L280.0 386.2 L281.8 367.7 L342.6 319.7 L343.4 365.6 L345.3 366.7 L346.4 390.0 L364.6 390.0" stroke="#0f76c2" stroke-width="1.25" fill="none" stroke-linejoin="round"/>
<path d="M282.4 367.4L342.4 320.1" stroke="#dc5a1f" stroke-width="2.1" stroke-dasharray="7 6.6" fill="none"/>
<text x="227.10" y="393.40" font-size="10.6" text-anchor="end">0</text>
<text x="227.10" y="359.13" font-size="10.6" text-anchor="end" textLength="16.4" lengthAdjust="spacingAndGlyphs">100</text>
<text x="227.10" y="324.87" font-size="10.6" text-anchor="end" textLength="16.4" lengthAdjust="spacingAndGlyphs">200</text>
<text x="227.10" y="290.60" font-size="10.6" text-anchor="end" textLength="16.4" lengthAdjust="spacingAndGlyphs">300</text>
<text x="230.70" y="404.60" font-size="10.6" text-anchor="middle">0</text>
<text x="257.48" y="404.60" font-size="10.6" text-anchor="middle" textLength="9.8" lengthAdjust="spacingAndGlyphs">10</text>
<text x="284.26" y="404.60" font-size="10.6" text-anchor="middle" textLength="9.8" lengthAdjust="spacingAndGlyphs">20</text>
<text x="311.04" y="404.60" font-size="10.6" text-anchor="middle" textLength="9.8" lengthAdjust="spacingAndGlyphs">30</text>
<text x="337.82" y="404.60" font-size="10.6" text-anchor="middle" textLength="9.8" lengthAdjust="spacingAndGlyphs">40</text>
<text x="364.60" y="404.60" font-size="10.6" text-anchor="middle" textLength="9.8" lengthAdjust="spacingAndGlyphs">50</text>
<text x="297.6" y="282.2" font-size="12" text-anchor="middle" class="t" textLength="34.6" lengthAdjust="spacingAndGlyphs"><tspan font-style="italic">η</tspan><tspan font-size="8.5" dy="1.9">1</tspan><tspan dy="-1.9"> = 6</tspan></text>
<text x="292.1" y="418.9" font-size="12"><tspan font-style="italic">ϕ</tspan><tspan font-size="8.5" font-style="italic" dy="1.9">e</tspan></text>
<text x="202.80" y="339.30" font-size="12" text-anchor="middle" transform="rotate(-90 202.80 339.30)">n</text>
<text x="205.30" y="278.70" font-size="10.4" class="ss pl" font-weight="bold" style="fill:#111">d</text>
<path d="M431.1 288.2V391.3M457.7 288.2V391.3M484.4 288.2V391.3M511.0 288.2V391.3M404.4 356.9H537.7M404.4 322.6H537.7" stroke="#e2e2e2" stroke-width="0.7" fill="none"/>
<rect x="404.4" y="288.2" width="133.30" height="103.10" fill="none" stroke="#555" stroke-width="0.8"/>
<path d="M431.1 391.3v-1.5M431.1 288.2v1.5M457.7 391.3v-1.5M457.7 288.2v1.5M484.4 391.3v-1.5M484.4 288.2v1.5M511.0 391.3v-1.5M511.0 288.2v1.5M404.4 356.9h1.5M537.7 356.9h-1.5M404.4 322.6h1.5M537.7 322.6h-1.5" stroke="#444" stroke-width="0.6" fill="none"/>
<path d="M404.4 391.3 L463.1 391.3 L475.0 391.0 L476.4 382.7 L477.4 379.3 L479.3 370.3 L537.7 343.9" stroke="#0f76c2" stroke-width="1.25" fill="none" stroke-linejoin="round"/>
<path d="M479.3 370.3L537.7 343.9" stroke="#dc5a1f" stroke-width="2.1" stroke-dasharray="7 6.6" fill="none"/>
<text x="400.80" y="393.70" font-size="10.6" text-anchor="end">0</text>
<text x="400.80" y="359.33" font-size="10.6" text-anchor="end" textLength="16.4" lengthAdjust="spacingAndGlyphs">100</text>
<text x="400.80" y="324.97" font-size="10.6" text-anchor="end" textLength="16.4" lengthAdjust="spacingAndGlyphs">200</text>
<text x="400.80" y="290.60" font-size="10.6" text-anchor="end" textLength="16.4" lengthAdjust="spacingAndGlyphs">300</text>
<text x="404.40" y="404.60" font-size="10.6" text-anchor="middle">0</text>
<text x="431.06" y="404.60" font-size="10.6" text-anchor="middle" textLength="9.8" lengthAdjust="spacingAndGlyphs">10</text>
<text x="457.72" y="404.60" font-size="10.6" text-anchor="middle" textLength="9.8" lengthAdjust="spacingAndGlyphs">20</text>
<text x="484.38" y="404.60" font-size="10.6" text-anchor="middle" textLength="9.8" lengthAdjust="spacingAndGlyphs">30</text>
<text x="511.04" y="404.60" font-size="10.6" text-anchor="middle" textLength="9.8" lengthAdjust="spacingAndGlyphs">40</text>
<text x="537.70" y="404.60" font-size="10.6" text-anchor="middle" textLength="9.8" lengthAdjust="spacingAndGlyphs">50</text>
<text x="471.1" y="282.2" font-size="12" text-anchor="middle" class="t" textLength="34.6" lengthAdjust="spacingAndGlyphs"><tspan font-style="italic">η</tspan><tspan font-size="8.5" dy="1.9">1</tspan><tspan dy="-1.9"> = 8</tspan></text>
<text x="465.6" y="418.9" font-size="12"><tspan font-style="italic">ϕ</tspan><tspan font-size="8.5" font-style="italic" dy="1.9">e</tspan></text>
<text x="376.50" y="339.30" font-size="12" text-anchor="middle" transform="rotate(-90 376.50 339.30)">n</text>
<text x="380.00" y="276.30" font-size="12.6" font-weight="bold" style="fill:#111">e</text>
<rect x="65.9" y="228.9" width="112.4" height="37.3" fill="#fff" stroke="#333" stroke-width="0.6"/>
<path d="M68.3 236.0h27.8" stroke="#0f76c2" stroke-width="1.25"/>
<path d="M68.3 253.3h28.5" stroke="#dc5a1f" stroke-width="2" stroke-dasharray="6.5 6"/>
<text x="99.00" y="238.50" font-size="9.8" textLength="62.7" lengthAdjust="spacingAndGlyphs">num. of spikes</text>
<text x="99.00" y="249.40" font-size="9.8" textLength="50.4" lengthAdjust="spacingAndGlyphs">lin. approx.</text>
<text x="99.00" y="261.20" font-size="9.8" textLength="77.3" lengthAdjust="spacingAndGlyphs">(RMSE = 0.5889)</text>
<rect x="243.3" y="227.9" width="108.7" height="37.8" fill="#fff" stroke="#333" stroke-width="0.6"/>
<path d="M245.7 235.0h27.8" stroke="#0f76c2" stroke-width="1.25"/>
<path d="M245.7 252.3h28.5" stroke="#dc5a1f" stroke-width="2" stroke-dasharray="6.5 6"/>
<text x="276.40" y="237.50" font-size="9.8" textLength="62.7" lengthAdjust="spacingAndGlyphs">num. of spikes</text>
<text x="276.40" y="248.40" font-size="9.8" textLength="50.4" lengthAdjust="spacingAndGlyphs">lin. approx.</text>
<text x="276.40" y="260.20" font-size="9.8" textLength="73.3" lengthAdjust="spacingAndGlyphs">(RMSE = 0.337)</text>
<rect x="413.5" y="227.9" width="113.5" height="37.8" fill="#fff" stroke="#333" stroke-width="0.6"/>
<path d="M415.9 235.0h27.8" stroke="#0f76c2" stroke-width="1.25"/>
<path d="M415.9 252.3h28.5" stroke="#dc5a1f" stroke-width="2" stroke-dasharray="6.5 6"/>
<text x="446.60" y="237.50" font-size="9.8" textLength="62.7" lengthAdjust="spacingAndGlyphs">num. of spikes</text>
<text x="446.60" y="248.40" font-size="9.8" textLength="50.4" lengthAdjust="spacingAndGlyphs">lin. approx.</text>
<text x="446.60" y="260.20" font-size="9.8" textLength="78.0" lengthAdjust="spacingAndGlyphs">(RMSE = 0.3515)</text>
</svg>
</body></html>
